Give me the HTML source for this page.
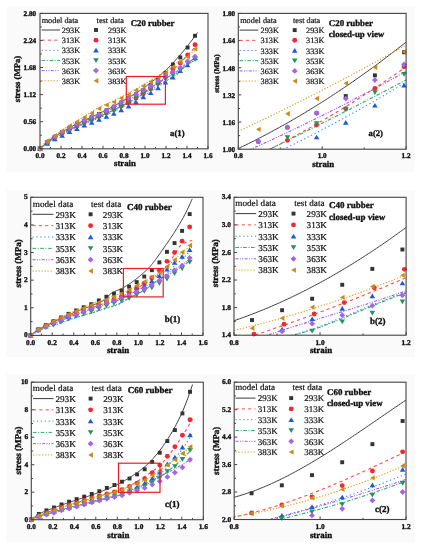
<!DOCTYPE html>
<html><head><meta charset="utf-8"><style>
html,body{margin:0;padding:0;background:#fff;}
svg{display:block;filter:blur(0.25px);}
text{font-family:"Liberation Serif",serif;fill:#111111;text-rendering:geometricPrecision;}
text{stroke:#111111;stroke-width:0.2px;}
text[font-weight="bold"]{stroke:#111111;stroke-width:0.35px;}
</style></head><body>
<svg width="426" height="550" viewBox="0 0 426 550">
<rect width="426" height="550" fill="#fff"/>
<rect x="6.5" y="6.5" width="204.5" height="165.5" fill="#fafafa"/>
<rect x="211" y="6.5" width="204" height="165.5" fill="#fafafa"/>
<rect x="6.5" y="190" width="204.5" height="167" fill="#fafafa"/>
<rect x="211" y="190" width="204" height="167" fill="#fafafa"/>
<rect x="6.5" y="374" width="204.5" height="168" fill="#fafafa"/>
<rect x="211" y="374" width="204" height="168" fill="#fafafa"/>
<rect x="40.0" y="13.4" width="168.0" height="135.4" fill="#fff"/>
<clipPath id="clip_a1"><rect x="40.0" y="13.4" width="168.0" height="135.4"/></clipPath>
<g clip-path="url(#clip_a1)" fill="none">
<polyline points="40.00,148.80 40.79,147.99 41.58,147.20 42.37,146.42 43.17,145.66 43.96,144.92 44.75,144.20 45.54,143.49 46.33,142.81 47.12,142.15 47.91,141.51 48.71,140.88 49.50,140.28 50.29,139.69 51.08,139.12 51.87,138.56 52.66,138.00 53.45,137.46 54.25,136.93 55.04,136.41 55.83,135.88 56.62,135.37 57.41,134.86 58.20,134.36 58.99,133.86 59.79,133.37 60.58,132.88 61.37,132.40 62.16,131.92 62.95,131.45 63.74,130.98 64.54,130.52 65.33,130.06 66.12,129.61 66.91,129.16 67.70,128.72 68.49,128.28 69.28,127.85 70.08,127.42 70.87,127.00 71.66,126.58 72.45,126.17 73.24,125.76 74.03,125.36 74.82,124.96 75.62,124.56 76.41,124.17 77.20,123.79 77.99,123.40 78.78,123.02 79.57,122.63 80.36,122.25 81.16,121.87 81.95,121.50 82.74,121.12 83.53,120.74 84.32,120.36 85.11,119.98 85.90,119.60 86.70,119.23 87.49,118.86 88.28,118.49 89.07,118.13 89.86,117.76 90.65,117.40 91.44,117.04 92.24,116.68 93.03,116.31 93.82,115.95 94.61,115.58 95.40,115.22 96.19,114.85 96.98,114.48 97.78,114.11 98.57,113.73 99.36,113.35 100.15,112.97 100.94,112.59 101.73,112.21 102.53,111.83 103.32,111.45 104.11,111.06 104.90,110.68 105.69,110.29 106.48,109.90 107.27,109.51 108.07,109.12 108.86,108.72 109.65,108.32 110.44,107.92 111.23,107.51 112.02,107.10 112.81,106.68 113.61,106.26 114.40,105.83 115.19,105.39 115.98,104.94 116.77,104.49 117.56,104.04 118.35,103.58 119.15,103.12 119.94,102.65 120.73,102.18 121.52,101.72 122.31,101.25 123.10,100.78 123.89,100.31 124.69,99.85 125.48,99.38 126.27,98.92 127.06,98.46 127.85,98.00 128.64,97.54 129.43,97.08 130.23,96.62 131.02,96.15 131.81,95.68 132.60,95.21 133.39,94.73 134.18,94.25 134.97,93.77 135.77,93.27 136.56,92.77 137.35,92.27 138.14,91.75 138.93,91.23 139.72,90.70 140.52,90.17 141.31,89.62 142.10,89.07 142.89,88.52 143.68,87.95 144.47,87.39 145.26,86.81 146.06,86.23 146.85,85.65 147.64,85.06 148.43,84.46 149.22,83.86 150.01,83.26 150.80,82.65 151.60,82.04 152.39,81.42 153.18,80.80 153.97,80.18 154.76,79.55 155.55,78.92 156.34,78.29 157.14,77.64 157.93,77.00 158.72,76.34 159.51,75.68 160.30,75.01 161.09,74.34 161.88,73.65 162.68,72.96 163.47,72.25 164.26,71.54 165.05,70.81 165.84,70.08 166.63,69.33 167.42,68.57 168.22,67.80 169.01,67.01 169.80,66.22 170.59,65.41 171.38,64.59 172.17,63.77 172.96,62.93 173.76,62.08 174.55,61.23 175.34,60.36 176.13,59.49 176.92,58.60 177.71,57.71 178.51,56.81 179.30,55.91 180.09,54.99 180.88,54.07 181.67,53.15 182.46,52.21 183.25,51.26 184.05,50.31 184.84,49.34 185.63,48.36 186.42,47.37 187.21,46.37 188.00,45.36 188.79,44.34 189.59,43.31 190.38,42.27 191.17,41.22 191.96,40.16 192.75,39.10 193.54,38.02 194.33,36.93 195.13,35.84 195.92,34.73 196.71,33.62 197.50,32.50" stroke="#3c3c3c" stroke-width="1.0"/>
<polyline points="40.00,148.80 40.79,148.06 41.58,147.34 42.37,146.64 43.17,145.94 43.96,145.27 44.75,144.61 45.54,143.97 46.33,143.35 47.12,142.75 47.91,142.16 48.71,141.60 49.50,141.04 50.29,140.51 51.08,139.98 51.87,139.47 52.66,138.97 53.45,138.48 54.25,137.99 55.04,137.51 55.83,137.04 56.62,136.57 57.41,136.10 58.20,135.64 58.99,135.19 59.79,134.74 60.58,134.29 61.37,133.85 62.16,133.42 62.95,132.99 63.74,132.56 64.54,132.14 65.33,131.72 66.12,131.31 66.91,130.90 67.70,130.50 68.49,130.10 69.28,129.70 70.08,129.31 70.87,128.92 71.66,128.54 72.45,128.17 73.24,127.79 74.03,127.43 74.82,127.06 75.62,126.71 76.41,126.35 77.20,125.99 77.99,125.64 78.78,125.29 79.57,124.95 80.36,124.60 81.16,124.25 81.95,123.91 82.74,123.56 83.53,123.21 84.32,122.87 85.11,122.52 85.90,122.18 86.70,121.84 87.49,121.50 88.28,121.17 89.07,120.83 89.86,120.50 90.65,120.17 91.44,119.84 92.24,119.51 93.03,119.18 93.82,118.85 94.61,118.51 95.40,118.18 96.19,117.84 96.98,117.50 97.78,117.16 98.57,116.82 99.36,116.47 100.15,116.12 100.94,115.77 101.73,115.42 102.53,115.07 103.32,114.72 104.11,114.36 104.90,114.00 105.69,113.65 106.48,113.29 107.27,112.93 108.07,112.57 108.86,112.20 109.65,111.84 110.44,111.47 111.23,111.10 112.02,110.73 112.81,110.35 113.61,109.98 114.40,109.60 115.19,109.22 115.98,108.85 116.77,108.46 117.56,108.08 118.35,107.70 119.15,107.31 119.94,106.91 120.73,106.52 121.52,106.12 122.31,105.72 123.10,105.31 123.89,104.89 124.69,104.48 125.48,104.05 126.27,103.62 127.06,103.18 127.85,102.74 128.64,102.29 129.43,101.84 130.23,101.39 131.02,100.93 131.81,100.48 132.60,100.03 133.39,99.57 134.18,99.12 134.97,98.66 135.77,98.20 136.56,97.73 137.35,97.26 138.14,96.77 138.93,96.28 139.72,95.78 140.52,95.28 141.31,94.77 142.10,94.26 142.89,93.74 143.68,93.21 144.47,92.68 145.26,92.15 146.06,91.62 146.85,91.08 147.64,90.53 148.43,89.98 149.22,89.43 150.01,88.88 150.80,88.33 151.60,87.77 152.39,87.21 153.18,86.65 153.97,86.09 154.76,85.54 155.55,84.98 156.34,84.42 157.14,83.86 157.93,83.29 158.72,82.72 159.51,82.14 160.30,81.55 161.09,80.96 161.88,80.35 162.68,79.73 163.47,79.10 164.26,78.46 165.05,77.80 165.84,77.13 166.63,76.43 167.42,75.70 168.22,74.94 169.01,74.16 169.80,73.36 170.59,72.55 171.38,71.72 172.17,70.88 172.96,70.05 173.76,69.21 174.55,68.38 175.34,67.56 176.13,66.75 176.92,65.95 177.71,65.17 178.51,64.40 179.30,63.62 180.09,62.85 180.88,62.09 181.67,61.32 182.46,60.55 183.25,59.77 184.05,58.99 184.84,58.20 185.63,57.40 186.42,56.59 187.21,55.77 188.00,54.93 188.79,54.09 189.59,53.24 190.38,52.39 191.17,51.52 191.96,50.65 192.75,49.77 193.54,48.88 194.33,47.99 195.13,47.09 195.92,46.18 196.71,45.27 197.50,44.35" stroke="#ff4a4a" stroke-width="1.1" stroke-dasharray="3.2 3.1"/>
<polyline points="40.00,148.80 40.79,148.18 41.58,147.56 42.37,146.95 43.17,146.35 43.96,145.76 44.75,145.17 45.54,144.60 46.33,144.03 47.12,143.47 47.91,142.91 48.71,142.36 49.50,141.82 50.29,141.28 51.08,140.75 51.87,140.23 52.66,139.72 53.45,139.22 54.25,138.74 55.04,138.28 55.83,137.83 56.62,137.39 57.41,136.95 58.20,136.53 58.99,136.11 59.79,135.70 60.58,135.30 61.37,134.90 62.16,134.51 62.95,134.12 63.74,133.73 64.54,133.34 65.33,132.96 66.12,132.58 66.91,132.20 67.70,131.82 68.49,131.44 69.28,131.05 70.08,130.66 70.87,130.28 71.66,129.89 72.45,129.51 73.24,129.12 74.03,128.74 74.82,128.36 75.62,127.98 76.41,127.60 77.20,127.23 77.99,126.86 78.78,126.48 79.57,126.12 80.36,125.75 81.16,125.39 81.95,125.03 82.74,124.68 83.53,124.32 84.32,123.98 85.11,123.63 85.90,123.30 86.70,122.96 87.49,122.64 88.28,122.31 89.07,121.99 89.86,121.67 90.65,121.35 91.44,121.04 92.24,120.72 93.03,120.41 93.82,120.10 94.61,119.78 95.40,119.46 96.19,119.14 96.98,118.82 97.78,118.50 98.57,118.17 99.36,117.84 100.15,117.50 100.94,117.17 101.73,116.84 102.53,116.50 103.32,116.17 104.11,115.83 104.90,115.50 105.69,115.16 106.48,114.82 107.27,114.48 108.07,114.13 108.86,113.79 109.65,113.44 110.44,113.08 111.23,112.73 112.02,112.37 112.81,112.00 113.61,111.63 114.40,111.26 115.19,110.88 115.98,110.49 116.77,110.10 117.56,109.70 118.35,109.30 119.15,108.90 119.94,108.49 120.73,108.09 121.52,107.68 122.31,107.27 123.10,106.87 123.89,106.46 124.69,106.06 125.48,105.66 126.27,105.26 127.06,104.86 127.85,104.46 128.64,104.06 129.43,103.66 130.23,103.25 131.02,102.84 131.81,102.43 132.60,102.01 133.39,101.58 134.18,101.15 134.97,100.71 135.77,100.26 136.56,99.78 137.35,99.29 138.14,98.80 138.93,98.33 139.72,97.86 140.52,97.39 141.31,96.93 142.10,96.47 142.89,96.01 143.68,95.55 144.47,95.10 145.26,94.64 146.06,94.18 146.85,93.72 147.64,93.26 148.43,92.80 149.22,92.33 150.01,91.85 150.80,91.37 151.60,90.88 152.39,90.39 153.18,89.89 153.97,89.39 154.76,88.88 155.55,88.37 156.34,87.86 157.14,87.34 157.93,86.82 158.72,86.30 159.51,85.77 160.30,85.24 161.09,84.71 161.88,84.17 162.68,83.64 163.47,83.09 164.26,82.55 165.05,82.00 165.84,81.45 166.63,80.90 167.42,80.34 168.22,79.78 169.01,79.21 169.80,78.65 170.59,78.07 171.38,77.49 172.17,76.91 172.96,76.33 173.76,75.74 174.55,75.15 175.34,74.55 176.13,73.95 176.92,73.35 177.71,72.73 178.51,72.11 179.30,71.48 180.09,70.84 180.88,70.20 181.67,69.55 182.46,68.91 183.25,68.27 184.05,67.63 184.84,67.01 185.63,66.39 186.42,65.78 187.21,65.18 188.00,64.59 188.79,64.01 189.59,63.43 190.38,62.85 191.17,62.28 191.96,61.71 192.75,61.15 193.54,60.59 194.33,60.04 195.13,59.50 195.92,58.96 196.71,58.42 197.50,57.89" stroke="#3f86f5" stroke-width="1.1" stroke-dasharray="1.3 2.6"/>
<polyline points="40.00,148.80 40.79,148.09 41.58,147.39 42.37,146.70 43.17,146.03 43.96,145.38 44.75,144.74 45.54,144.11 46.33,143.50 47.12,142.91 47.91,142.34 48.71,141.78 49.50,141.24 50.29,140.71 51.08,140.20 51.87,139.69 52.66,139.20 53.45,138.71 54.25,138.23 55.04,137.75 55.83,137.28 56.62,136.81 57.41,136.35 58.20,135.90 58.99,135.45 59.79,135.00 60.58,134.56 61.37,134.12 62.16,133.68 62.95,133.25 63.74,132.83 64.54,132.41 65.33,131.99 66.12,131.58 66.91,131.17 67.70,130.77 68.49,130.36 69.28,129.97 70.08,129.57 70.87,129.19 71.66,128.80 72.45,128.43 73.24,128.05 74.03,127.68 74.82,127.32 75.62,126.95 76.41,126.59 77.20,126.24 77.99,125.88 78.78,125.53 79.57,125.17 80.36,124.82 81.16,124.47 81.95,124.12 82.74,123.77 83.53,123.42 84.32,123.07 85.11,122.72 85.90,122.38 86.70,122.03 87.49,121.69 88.28,121.35 89.07,121.01 89.86,120.68 90.65,120.34 91.44,120.00 92.24,119.67 93.03,119.33 93.82,119.00 94.61,118.66 95.40,118.32 96.19,117.98 96.98,117.63 97.78,117.29 98.57,116.94 99.36,116.59 100.15,116.23 100.94,115.88 101.73,115.53 102.53,115.17 103.32,114.81 104.11,114.45 104.90,114.09 105.69,113.73 106.48,113.37 107.27,113.01 108.07,112.64 108.86,112.27 109.65,111.90 110.44,111.53 111.23,111.16 112.02,110.78 112.81,110.40 113.61,110.02 114.40,109.64 115.19,109.25 115.98,108.86 116.77,108.47 117.56,108.08 118.35,107.69 119.15,107.29 119.94,106.89 120.73,106.48 121.52,106.08 122.31,105.67 123.10,105.25 123.89,104.84 124.69,104.42 125.48,103.99 126.27,103.56 127.06,103.13 127.85,102.69 128.64,102.25 129.43,101.80 130.23,101.36 131.02,100.92 131.81,100.48 132.60,100.04 133.39,99.60 134.18,99.16 134.97,98.72 135.77,98.28 136.56,97.84 137.35,97.40 138.14,96.95 138.93,96.51 139.72,96.06 140.52,95.61 141.31,95.16 142.10,94.71 142.89,94.26 143.68,93.80 144.47,93.35 145.26,92.89 146.06,92.44 146.85,91.98 147.64,91.52 148.43,91.06 149.22,90.61 150.01,90.15 150.80,89.69 151.60,89.23 152.39,88.76 153.18,88.30 153.97,87.84 154.76,87.37 155.55,86.90 156.34,86.43 157.14,85.96 157.93,85.49 158.72,85.02 159.51,84.55 160.30,84.08 161.09,83.61 161.88,83.14 162.68,82.67 163.47,82.20 164.26,81.74 165.05,81.27 165.84,80.81 166.63,80.35 167.42,79.90 168.22,79.47 169.01,79.04 169.80,78.61 170.59,78.19 171.38,77.76 172.17,77.32 172.96,76.87 173.76,76.40 174.55,75.91 175.34,75.41 176.13,74.87 176.92,74.30 177.71,73.66 178.51,72.96 179.30,72.22 180.09,71.44 180.88,70.63 181.67,69.82 182.46,69.00 183.25,68.20 184.05,67.42 184.84,66.69 185.63,66.00 186.42,65.37 187.21,64.81 188.00,64.29 188.79,63.77 189.59,63.27 190.38,62.79 191.17,62.32 191.96,61.87 192.75,61.44 193.54,61.03 194.33,60.64 195.13,60.28 195.92,59.94 196.71,59.62 197.50,59.34" stroke="#2fa86c" stroke-width="1.1" stroke-dasharray="3.6 1.6 1.0 1.6"/>
<polyline points="40.00,148.80 40.79,148.02 41.58,147.26 42.37,146.51 43.17,145.78 43.96,145.06 44.75,144.37 45.54,143.69 46.33,143.03 47.12,142.40 47.91,141.78 48.71,141.19 49.50,140.61 50.29,140.04 51.08,139.50 51.87,138.96 52.66,138.43 53.45,137.91 54.25,137.40 55.04,136.90 55.83,136.40 56.62,135.90 57.41,135.42 58.20,134.93 58.99,134.46 59.79,133.98 60.58,133.52 61.37,133.06 62.16,132.60 62.95,132.15 63.74,131.70 64.54,131.25 65.33,130.81 66.12,130.37 66.91,129.93 67.70,129.50 68.49,129.07 69.28,128.64 70.08,128.22 70.87,127.80 71.66,127.37 72.45,126.95 73.24,126.54 74.03,126.12 74.82,125.71 75.62,125.30 76.41,124.90 77.20,124.50 77.99,124.10 78.78,123.71 79.57,123.32 80.36,122.93 81.16,122.55 81.95,122.18 82.74,121.81 83.53,121.45 84.32,121.09 85.11,120.75 85.90,120.41 86.70,120.08 87.49,119.76 88.28,119.44 89.07,119.14 89.86,118.83 90.65,118.53 91.44,118.23 92.24,117.93 93.03,117.63 93.82,117.32 94.61,117.01 95.40,116.70 96.19,116.38 96.98,116.06 97.78,115.72 98.57,115.38 99.36,115.02 100.15,114.66 100.94,114.29 101.73,113.91 102.53,113.52 103.32,113.13 104.11,112.73 104.90,112.33 105.69,111.92 106.48,111.51 107.27,111.10 108.07,110.68 108.86,110.26 109.65,109.84 110.44,109.42 111.23,109.00 112.02,108.57 112.81,108.15 113.61,107.73 114.40,107.31 115.19,106.88 115.98,106.44 116.77,106.01 117.56,105.56 118.35,105.12 119.15,104.68 119.94,104.23 120.73,103.80 121.52,103.36 122.31,102.93 123.10,102.51 123.89,102.10 124.69,101.70 125.48,101.32 126.27,100.93 127.06,100.54 127.85,100.14 128.64,99.73 129.43,99.31 130.23,98.89 131.02,98.47 131.81,98.04 132.60,97.61 133.39,97.18 134.18,96.75 134.97,96.32 135.77,95.88 136.56,95.45 137.35,95.01 138.14,94.58 138.93,94.15 139.72,93.72 140.52,93.29 141.31,92.86 142.10,92.43 142.89,92.00 143.68,91.57 144.47,91.14 145.26,90.71 146.06,90.27 146.85,89.83 147.64,89.39 148.43,88.95 149.22,88.51 150.01,88.06 150.80,87.60 151.60,87.15 152.39,86.68 153.18,86.21 153.97,85.74 154.76,85.26 155.55,84.78 156.34,84.29 157.14,83.80 157.93,83.30 158.72,82.80 159.51,82.31 160.30,81.81 161.09,81.31 161.88,80.81 162.68,80.31 163.47,79.82 164.26,79.32 165.05,78.83 165.84,78.34 166.63,77.86 167.42,77.39 168.22,76.93 169.01,76.47 169.80,76.01 170.59,75.55 171.38,75.09 172.17,74.62 172.96,74.15 173.76,73.66 174.55,73.16 175.34,72.65 176.13,72.12 176.92,71.56 177.71,70.97 178.51,70.35 179.30,69.70 180.09,69.02 180.88,68.34 181.67,67.65 182.46,66.95 183.25,66.27 184.05,65.59 184.84,64.94 185.63,64.31 186.42,63.71 187.21,63.15 188.00,62.60 188.79,62.07 189.59,61.54 190.38,61.03 191.17,60.52 191.96,60.03 192.75,59.55 193.54,59.08 194.33,58.62 195.13,58.18 195.92,57.74 196.71,57.33 197.50,56.92" stroke="#9f55f0" stroke-width="1.1" stroke-dasharray="3 1.4 1 1.4 1 1.4"/>
<polyline points="40.00,148.80 40.79,147.77 41.58,146.77 42.37,145.80 43.17,144.86 43.96,143.97 44.75,143.11 45.54,142.29 46.33,141.52 47.12,140.80 47.91,140.13 48.71,139.50 49.50,138.91 50.29,138.36 51.08,137.82 51.87,137.30 52.66,136.79 53.45,136.27 54.25,135.74 55.04,135.20 55.83,134.65 56.62,134.10 57.41,133.54 58.20,132.99 58.99,132.44 59.79,131.88 60.58,131.33 61.37,130.78 62.16,130.24 62.95,129.69 63.74,129.15 64.54,128.61 65.33,128.07 66.12,127.54 66.91,127.02 67.70,126.50 68.49,125.98 69.28,125.47 70.08,124.97 70.87,124.48 71.66,123.99 72.45,123.51 73.24,123.03 74.03,122.56 74.82,122.09 75.62,121.63 76.41,121.17 77.20,120.71 77.99,120.25 78.78,119.79 79.57,119.33 80.36,118.87 81.16,118.41 81.95,117.94 82.74,117.47 83.53,117.00 84.32,116.52 85.11,116.04 85.90,115.55 86.70,115.05 87.49,114.54 88.28,114.03 89.07,113.52 89.86,113.01 90.65,112.49 91.44,111.98 92.24,111.47 93.03,110.97 93.82,110.47 94.61,109.98 95.40,109.49 96.19,109.02 96.98,108.56 97.78,108.11 98.57,107.68 99.36,107.26 100.15,106.85 100.94,106.46 101.73,106.08 102.53,105.71 103.32,105.35 104.11,104.99 104.90,104.64 105.69,104.29 106.48,103.95 107.27,103.60 108.07,103.26 108.86,102.92 109.65,102.57 110.44,102.22 111.23,101.86 112.02,101.49 112.81,101.12 113.61,100.73 114.40,100.34 115.19,99.95 115.98,99.54 116.77,99.14 117.56,98.73 118.35,98.31 119.15,97.90 119.94,97.48 120.73,97.06 121.52,96.64 122.31,96.22 123.10,95.79 123.89,95.37 124.69,94.95 125.48,94.53 126.27,94.11 127.06,93.69 127.85,93.26 128.64,92.84 129.43,92.41 130.23,91.98 131.02,91.56 131.81,91.13 132.60,90.70 133.39,90.26 134.18,89.83 134.97,89.39 135.77,88.95 136.56,88.51 137.35,88.07 138.14,87.62 138.93,87.17 139.72,86.72 140.52,86.27 141.31,85.81 142.10,85.35 142.89,84.89 143.68,84.43 144.47,83.96 145.26,83.50 146.06,83.03 146.85,82.56 147.64,82.09 148.43,81.61 149.22,81.14 150.01,80.66 150.80,80.18 151.60,79.71 152.39,79.23 153.18,78.75 153.97,78.27 154.76,77.80 155.55,77.32 156.34,76.84 157.14,76.36 157.93,75.88 158.72,75.40 159.51,74.92 160.30,74.43 161.09,73.93 161.88,73.43 162.68,72.93 163.47,72.42 164.26,71.91 165.05,71.39 165.84,70.86 166.63,70.32 167.42,69.76 168.22,69.19 169.01,68.61 169.80,68.02 170.59,67.43 171.38,66.83 172.17,66.23 172.96,65.63 173.76,65.04 174.55,64.46 175.34,63.89 176.13,63.33 176.92,62.79 177.71,62.27 178.51,61.76 179.30,61.27 180.09,60.78 180.88,60.29 181.67,59.81 182.46,59.32 183.25,58.83 184.05,58.34 184.84,57.82 185.63,57.30 186.42,56.76 187.21,56.19 188.00,55.61 188.79,55.02 189.59,54.42 190.38,53.80 191.17,53.17 191.96,52.53 192.75,51.87 193.54,51.21 194.33,50.54 195.13,49.85 195.92,49.15 196.71,48.45 197.50,47.73" stroke="#e0a018" stroke-width="1.1" stroke-dasharray="1.3 1.7"/>
</g>
<rect x="38.04" y="146.84" width="3.92" height="3.92" fill="#333333"/>
<rect x="45.42" y="140.07" width="3.92" height="3.92" fill="#333333"/>
<rect x="52.80" y="134.80" width="3.92" height="3.92" fill="#333333"/>
<rect x="60.18" y="130.21" width="3.92" height="3.92" fill="#333333"/>
<rect x="67.57" y="126.05" width="3.92" height="3.92" fill="#333333"/>
<rect x="74.95" y="122.26" width="3.92" height="3.92" fill="#333333"/>
<rect x="82.33" y="118.80" width="3.92" height="3.92" fill="#333333"/>
<rect x="89.71" y="115.47" width="3.92" height="3.92" fill="#333333"/>
<rect x="97.09" y="112.02" width="3.92" height="3.92" fill="#333333"/>
<rect x="104.47" y="108.48" width="3.92" height="3.92" fill="#333333"/>
<rect x="111.86" y="104.77" width="3.92" height="3.92" fill="#333333"/>
<rect x="119.24" y="100.59" width="3.92" height="3.92" fill="#333333"/>
<rect x="126.62" y="96.31" width="3.92" height="3.92" fill="#333333"/>
<rect x="134.00" y="92.29" width="3.92" height="3.92" fill="#333333"/>
<rect x="141.38" y="88.23" width="3.92" height="3.92" fill="#333333"/>
<rect x="148.76" y="83.35" width="3.92" height="3.92" fill="#333333"/>
<rect x="156.14" y="77.45" width="3.92" height="3.92" fill="#333333"/>
<rect x="163.53" y="70.87" width="3.92" height="3.92" fill="#333333"/>
<rect x="170.91" y="62.46" width="3.92" height="3.92" fill="#333333"/>
<rect x="178.29" y="55.45" width="3.92" height="3.92" fill="#333333"/>
<rect x="185.67" y="45.53" width="3.92" height="3.92" fill="#333333"/>
<rect x="193.05" y="33.83" width="3.92" height="3.92" fill="#333333"/>
<circle cx="40.00" cy="148.80" r="2.46" fill="#f02a35"/>
<circle cx="47.38" cy="142.51" r="2.46" fill="#f02a35"/>
<circle cx="54.76" cy="137.61" r="2.46" fill="#f02a35"/>
<circle cx="62.14" cy="133.33" r="2.46" fill="#f02a35"/>
<circle cx="69.53" cy="129.46" r="2.46" fill="#f02a35"/>
<circle cx="76.91" cy="125.93" r="2.46" fill="#f02a35"/>
<circle cx="84.29" cy="122.72" r="2.46" fill="#f02a35"/>
<circle cx="91.67" cy="119.61" r="2.46" fill="#f02a35"/>
<circle cx="99.05" cy="116.40" r="2.46" fill="#f02a35"/>
<circle cx="106.43" cy="113.07" r="2.46" fill="#f02a35"/>
<circle cx="113.81" cy="109.63" r="2.46" fill="#f02a35"/>
<circle cx="121.20" cy="105.99" r="2.46" fill="#f02a35"/>
<circle cx="128.58" cy="102.14" r="2.46" fill="#f02a35"/>
<circle cx="135.96" cy="97.93" r="2.46" fill="#f02a35"/>
<circle cx="143.34" cy="93.53" r="2.46" fill="#f02a35"/>
<circle cx="150.72" cy="88.89" r="2.46" fill="#f02a35"/>
<circle cx="158.10" cy="83.13" r="2.46" fill="#f02a35"/>
<circle cx="165.49" cy="76.99" r="2.46" fill="#f02a35"/>
<circle cx="172.87" cy="68.91" r="2.46" fill="#f02a35"/>
<circle cx="180.25" cy="62.92" r="2.46" fill="#f02a35"/>
<circle cx="187.63" cy="54.89" r="2.46" fill="#f02a35"/>
<circle cx="195.01" cy="44.69" r="2.46" fill="#f02a35"/>
<path d="M40.00 146.34L42.80 151.02L37.20 151.02Z" fill="#1a5ae0"/>
<path d="M47.38 141.11L50.18 145.80L44.58 145.80Z" fill="#1a5ae0"/>
<path d="M54.76 136.52L57.56 141.20L51.96 141.20Z" fill="#1a5ae0"/>
<path d="M62.14 133.13L64.94 137.82L59.34 137.82Z" fill="#1a5ae0"/>
<path d="M69.53 129.41L72.33 134.09L66.73 134.09Z" fill="#1a5ae0"/>
<path d="M76.91 126.32L79.71 131.00L74.11 131.00Z" fill="#1a5ae0"/>
<path d="M84.29 122.83L87.09 127.52L81.49 127.52Z" fill="#1a5ae0"/>
<path d="M91.67 120.03L94.47 124.71L88.87 124.71Z" fill="#1a5ae0"/>
<path d="M99.05 117.13L101.85 121.81L96.25 121.81Z" fill="#1a5ae0"/>
<path d="M106.43 114.13L109.23 118.81L103.63 118.81Z" fill="#1a5ae0"/>
<path d="M113.81 111.04L116.61 115.72L111.02 115.72Z" fill="#1a5ae0"/>
<path d="M121.20 107.55L124.00 112.24L118.40 112.24Z" fill="#1a5ae0"/>
<path d="M128.58 103.83L131.38 108.51L125.78 108.51Z" fill="#1a5ae0"/>
<path d="M135.96 99.62L138.76 104.30L133.16 104.30Z" fill="#1a5ae0"/>
<path d="M143.34 94.55L146.14 99.23L140.54 99.23Z" fill="#1a5ae0"/>
<path d="M150.72 90.39L153.52 95.07L147.92 95.07Z" fill="#1a5ae0"/>
<path d="M158.10 85.50L160.90 90.18L155.30 90.18Z" fill="#1a5ae0"/>
<path d="M165.49 79.75L168.29 84.43L162.69 84.43Z" fill="#1a5ae0"/>
<path d="M172.87 74.72L175.67 79.40L170.07 79.40Z" fill="#1a5ae0"/>
<path d="M180.25 68.34L183.05 73.02L177.45 73.02Z" fill="#1a5ae0"/>
<path d="M187.63 62.68L190.43 67.36L184.83 67.36Z" fill="#1a5ae0"/>
<path d="M195.01 55.42L197.81 60.11L192.21 60.11Z" fill="#1a5ae0"/>
<path d="M40.00 151.26L42.80 146.58L37.20 146.58Z" fill="#1e965a"/>
<path d="M47.38 145.22L50.18 140.54L44.58 140.54Z" fill="#1e965a"/>
<path d="M54.76 140.43L57.56 135.75L51.96 135.75Z" fill="#1e965a"/>
<path d="M62.14 136.24L64.94 131.56L59.34 131.56Z" fill="#1e965a"/>
<path d="M69.53 132.40L72.33 127.72L66.73 127.72Z" fill="#1e965a"/>
<path d="M76.91 128.89L79.71 124.21L74.11 124.21Z" fill="#1e965a"/>
<path d="M84.29 125.68L87.09 121.00L81.49 121.00Z" fill="#1e965a"/>
<path d="M91.67 122.56L94.47 117.88L88.87 117.88Z" fill="#1e965a"/>
<path d="M99.05 119.35L101.85 114.67L96.25 114.67Z" fill="#1e965a"/>
<path d="M106.43 116.03L109.23 111.35L103.63 111.35Z" fill="#1e965a"/>
<path d="M113.81 112.58L116.61 107.90L111.02 107.90Z" fill="#1e965a"/>
<path d="M121.20 108.94L124.00 104.26L118.40 104.26Z" fill="#1e965a"/>
<path d="M128.58 104.84L131.38 100.16L125.78 100.16Z" fill="#1e965a"/>
<path d="M135.96 99.57L138.76 94.89L133.16 94.89Z" fill="#1e965a"/>
<path d="M143.34 95.56L146.14 90.87L140.54 90.87Z" fill="#1e965a"/>
<path d="M150.72 91.64L153.52 86.96L147.92 86.96Z" fill="#1e965a"/>
<path d="M158.10 86.76L160.90 82.07L155.30 82.07Z" fill="#1e965a"/>
<path d="M165.49 81.53L168.29 76.85L162.69 76.85Z" fill="#1e965a"/>
<path d="M172.87 77.76L175.67 73.08L170.07 73.08Z" fill="#1e965a"/>
<path d="M180.25 72.68L183.05 68.00L177.45 68.00Z" fill="#1e965a"/>
<path d="M187.63 65.67L190.43 60.99L184.83 60.99Z" fill="#1e965a"/>
<path d="M195.01 61.95L197.81 57.27L192.21 57.27Z" fill="#1e965a"/>
<path d="M40.00 145.89L42.91 148.80L40.00 151.71L37.09 148.80Z" fill="#a564e1"/>
<path d="M47.38 139.12L50.29 142.03L47.38 144.94L44.47 142.03Z" fill="#a564e1"/>
<path d="M54.76 133.87L57.67 136.78L54.76 139.69L51.85 136.78Z" fill="#a564e1"/>
<path d="M62.14 129.30L65.06 132.21L62.14 135.12L59.23 132.21Z" fill="#a564e1"/>
<path d="M69.53 125.09L72.44 128.01L69.53 130.92L66.61 128.01Z" fill="#a564e1"/>
<path d="M76.91 121.27L79.82 124.19L76.91 127.10L74.00 124.19Z" fill="#a564e1"/>
<path d="M84.29 117.50L87.20 120.41L84.29 123.33L81.38 120.41Z" fill="#a564e1"/>
<path d="M91.67 113.88L94.58 116.79L91.67 119.70L88.76 116.79Z" fill="#a564e1"/>
<path d="M99.05 111.41L101.96 114.32L99.05 117.23L96.14 114.32Z" fill="#a564e1"/>
<path d="M106.43 107.98L109.35 110.89L106.43 113.80L103.52 110.89Z" fill="#a564e1"/>
<path d="M113.81 103.67L116.73 106.58L113.81 109.50L110.90 106.58Z" fill="#a564e1"/>
<path d="M121.20 99.61L124.11 102.52L121.20 105.43L118.28 102.52Z" fill="#a564e1"/>
<path d="M128.58 95.26L131.49 98.17L128.58 101.08L125.67 98.17Z" fill="#a564e1"/>
<path d="M135.96 91.24L138.87 94.16L135.96 97.07L133.05 94.16Z" fill="#a564e1"/>
<path d="M143.34 87.23L146.25 90.14L143.34 93.05L140.43 90.14Z" fill="#a564e1"/>
<path d="M150.72 83.12L153.63 86.03L150.72 88.94L147.81 86.03Z" fill="#a564e1"/>
<path d="M158.10 77.85L161.02 80.76L158.10 83.67L155.19 80.76Z" fill="#a564e1"/>
<path d="M165.49 73.40L168.40 76.31L165.49 79.22L162.57 76.31Z" fill="#a564e1"/>
<path d="M172.87 69.19L175.78 72.11L172.87 75.02L169.95 72.11Z" fill="#a564e1"/>
<path d="M180.25 64.70L183.16 67.61L180.25 70.52L177.34 67.61Z" fill="#a564e1"/>
<path d="M187.63 58.41L190.54 61.32L187.63 64.23L184.72 61.32Z" fill="#a564e1"/>
<path d="M195.01 53.67L197.92 56.58L195.01 59.49L192.10 56.58Z" fill="#a564e1"/>
<path d="M37.65 148.80L42.35 146.11L42.35 151.49Z" fill="#c88c19"/>
<path d="M45.03 140.82L49.73 138.13L49.73 143.51Z" fill="#c88c19"/>
<path d="M52.41 135.79L57.11 133.10L57.11 138.48Z" fill="#c88c19"/>
<path d="M59.79 130.91L64.50 128.22L64.50 133.60Z" fill="#c88c19"/>
<path d="M67.17 126.02L71.88 123.34L71.88 128.71Z" fill="#c88c19"/>
<path d="M74.56 121.82L79.26 119.13L79.26 124.50Z" fill="#c88c19"/>
<path d="M81.94 117.51L86.64 114.82L86.64 120.20Z" fill="#c88c19"/>
<path d="M89.32 113.31L94.02 110.62L94.02 115.99Z" fill="#c88c19"/>
<path d="M96.70 108.66L101.40 105.98L101.40 111.35Z" fill="#c88c19"/>
<path d="M104.08 105.09L108.79 102.40L108.79 107.77Z" fill="#c88c19"/>
<path d="M111.46 102.09L116.17 99.40L116.17 104.78Z" fill="#c88c19"/>
<path d="M118.84 98.22L123.55 95.53L123.55 100.91Z" fill="#c88c19"/>
<path d="M126.23 94.79L130.93 92.10L130.93 97.47Z" fill="#c88c19"/>
<path d="M133.61 90.34L138.31 87.65L138.31 93.02Z" fill="#c88c19"/>
<path d="M140.99 85.98L145.69 83.30L145.69 88.67Z" fill="#c88c19"/>
<path d="M148.37 81.68L153.07 78.99L153.07 84.37Z" fill="#c88c19"/>
<path d="M155.75 77.13L160.46 74.45L160.46 79.82Z" fill="#c88c19"/>
<path d="M163.13 72.73L167.84 70.05L167.84 75.42Z" fill="#c88c19"/>
<path d="M170.51 66.98L175.22 64.29L175.22 69.67Z" fill="#c88c19"/>
<path d="M177.90 61.90L182.60 59.21L182.60 64.59Z" fill="#c88c19"/>
<path d="M185.28 56.92L189.98 54.23L189.98 59.61Z" fill="#c88c19"/>
<path d="M192.66 48.89L197.36 46.21L197.36 51.58Z" fill="#c88c19"/>
<rect x="40.0" y="13.4" width="168.0" height="135.4" fill="none" stroke="#444444" stroke-width="1.1"/>
<path d="M40.0 148.80h3 M40.0 121.72h3 M40.0 94.64h3 M40.0 67.56h3 M40.0 40.48h3 M40.0 13.40h3 M40.0 135.26h1.8 M40.0 108.18h1.8 M40.0 81.10h1.8 M40.0 54.02h1.8 M40.0 26.94h1.8 M40.00 148.8v-3 M61.00 148.8v-3 M82.00 148.8v-3 M103.00 148.8v-3 M124.00 148.8v-3 M145.00 148.8v-3 M166.00 148.8v-3 M187.00 148.8v-3 M208.00 148.8v-3 M50.50 148.8v-1.8 M71.50 148.8v-1.8 M92.50 148.8v-1.8 M113.50 148.8v-1.8 M134.50 148.8v-1.8 M155.50 148.8v-1.8 M176.50 148.8v-1.8 M197.50 148.8v-1.8" stroke="#444444" stroke-width="1"/>
<text transform="translate(36.20,151.09) scale(1.0,1)" font-size="7.2" font-weight="bold" text-anchor="end">0.00</text>
<text transform="translate(36.20,124.01) scale(1.0,1)" font-size="7.2" font-weight="bold" text-anchor="end">0.56</text>
<text transform="translate(36.20,96.93) scale(1.0,1)" font-size="7.2" font-weight="bold" text-anchor="end">1.12</text>
<text transform="translate(36.20,69.85) scale(1.0,1)" font-size="7.2" font-weight="bold" text-anchor="end">1.68</text>
<text transform="translate(36.20,42.77) scale(1.0,1)" font-size="7.2" font-weight="bold" text-anchor="end">2.24</text>
<text transform="translate(36.20,15.69) scale(1.0,1)" font-size="7.2" font-weight="bold" text-anchor="end">2.80</text>
<text transform="translate(40.00,158.30) scale(1.0,1)" font-size="7.2" font-weight="bold" text-anchor="middle">0.0</text>
<text transform="translate(61.00,158.30) scale(1.0,1)" font-size="7.2" font-weight="bold" text-anchor="middle">0.2</text>
<text transform="translate(82.00,158.30) scale(1.0,1)" font-size="7.2" font-weight="bold" text-anchor="middle">0.4</text>
<text transform="translate(103.00,158.30) scale(1.0,1)" font-size="7.2" font-weight="bold" text-anchor="middle">0.6</text>
<text transform="translate(124.00,158.30) scale(1.0,1)" font-size="7.2" font-weight="bold" text-anchor="middle">0.8</text>
<text transform="translate(145.00,158.30) scale(1.0,1)" font-size="7.2" font-weight="bold" text-anchor="middle">1.0</text>
<text transform="translate(166.00,158.30) scale(1.0,1)" font-size="7.2" font-weight="bold" text-anchor="middle">1.2</text>
<text transform="translate(187.00,158.30) scale(1.0,1)" font-size="7.2" font-weight="bold" text-anchor="middle">1.4</text>
<text transform="translate(208.00,158.30) scale(1.0,1)" font-size="7.2" font-weight="bold" text-anchor="middle">1.6</text>
<text x="124.9" y="166.4" font-size="8.7" font-weight="bold" text-anchor="middle">strain</text>
<text transform="translate(17.5,79.0) rotate(-90)" x="0" y="2.87" font-size="8.7" font-weight="bold" text-anchor="middle">stress (MPa)</text>
<text transform="translate(41.70,22.70) scale(1.02,1)" font-size="8.1">model data</text>
<text transform="translate(96.60,22.70) scale(1.02,1)" font-size="8.1">test data</text>
<line x1="41.6" y1="30.00" x2="60.1" y2="30.00" stroke="#3c3c3c" stroke-width="1"/>
<text transform="translate(61.80,33.07) scale(1.02,1)" font-size="8.1">293K</text>
<rect x="94.04" y="28.04" width="3.92" height="3.92" fill="#333333"/>
<text transform="translate(108.00,33.07) scale(1.02,1)" font-size="8.1">293K</text>
<line x1="41.6" y1="40.15" x2="60.1" y2="40.15" stroke="#ff4a4a" stroke-width="1" stroke-dasharray="3.2 3.1"/>
<text transform="translate(61.80,43.22) scale(1.02,1)" font-size="8.1">313K</text>
<circle cx="96.00" cy="40.15" r="2.46" fill="#f02a35"/>
<text transform="translate(108.00,43.22) scale(1.02,1)" font-size="8.1">313K</text>
<line x1="41.6" y1="50.30" x2="60.1" y2="50.30" stroke="#3f86f5" stroke-width="1" stroke-dasharray="1.3 2.6"/>
<text transform="translate(61.80,53.37) scale(1.02,1)" font-size="8.1">333K</text>
<path d="M96.00 47.84L98.80 52.52L93.20 52.52Z" fill="#1a5ae0"/>
<text transform="translate(108.00,53.37) scale(1.02,1)" font-size="8.1">333K</text>
<line x1="41.6" y1="60.45" x2="60.1" y2="60.45" stroke="#2fa86c" stroke-width="1" stroke-dasharray="3.6 1.6 1.0 1.6"/>
<text transform="translate(61.80,63.52) scale(1.02,1)" font-size="8.1">353K</text>
<path d="M96.00 62.91L98.80 58.23L93.20 58.23Z" fill="#1e965a"/>
<text transform="translate(108.00,63.52) scale(1.02,1)" font-size="8.1">353K</text>
<line x1="41.6" y1="70.60" x2="60.1" y2="70.60" stroke="#9f55f0" stroke-width="1" stroke-dasharray="3 1.4 1 1.4 1 1.4"/>
<text transform="translate(61.80,73.67) scale(1.02,1)" font-size="8.1">363K</text>
<path d="M96.00 67.69L98.91 70.60L96.00 73.51L93.09 70.60Z" fill="#a564e1"/>
<text transform="translate(108.00,73.67) scale(1.02,1)" font-size="8.1">363K</text>
<line x1="41.6" y1="80.75" x2="60.1" y2="80.75" stroke="#e0a018" stroke-width="1" stroke-dasharray="1.3 1.7"/>
<text transform="translate(61.80,83.82) scale(1.02,1)" font-size="8.1">383K</text>
<path d="M93.65 80.75L98.35 78.06L98.35 83.44Z" fill="#c88c19"/>
<text transform="translate(108.00,83.82) scale(1.02,1)" font-size="8.1">383K</text>
<text x="130.8" y="26.0" font-size="8.75" font-weight="bold">C20 rubber</text>
<text x="170.1" y="135.8" font-size="8.7" font-weight="bold">a(1)</text>
<rect x="126.3" y="76.5" width="39.10000000000001" height="27.700000000000003" fill="none" stroke="#ee1c24" stroke-width="1.2"/>
<rect x="238.3" y="13.4" width="167.8" height="135.79999999999998" fill="#fff"/>
<clipPath id="clip_a2"><rect x="238.3" y="13.4" width="167.8" height="135.79999999999998"/></clipPath>
<g clip-path="url(#clip_a2)" fill="none">
<polyline points="229.91,152.45 231.46,151.73 233.01,151.01 234.56,150.29 236.11,149.56 237.67,148.83 239.22,148.10 240.77,147.35 242.32,146.61 243.87,145.86 245.42,145.10 246.97,144.34 248.52,143.58 250.07,142.81 251.63,142.04 253.18,141.26 254.73,140.48 256.28,139.69 257.83,138.90 259.38,138.10 260.93,137.30 262.48,136.49 264.03,135.68 265.59,134.87 267.14,134.05 268.69,133.23 270.24,132.40 271.79,131.57 273.34,130.73 274.89,129.89 276.44,129.04 277.99,128.19 279.54,127.33 281.10,126.47 282.65,125.61 284.20,124.74 285.75,123.86 287.30,122.98 288.85,122.10 290.40,121.21 291.95,120.32 293.50,119.42 295.06,118.52 296.61,117.62 298.16,116.70 299.71,115.79 301.26,114.87 302.81,113.95 304.36,113.02 305.91,112.08 307.46,111.14 309.02,110.20 310.57,109.25 312.12,108.30 313.67,107.35 315.22,106.38 316.77,105.42 318.32,104.45 319.87,103.47 321.42,102.49 322.98,101.51 324.53,100.52 326.08,99.53 327.63,98.53 329.18,97.53 330.73,96.52 332.28,95.51 333.83,94.49 335.38,93.47 336.94,92.45 338.49,91.42 340.04,90.38 341.59,89.34 343.14,88.30 344.69,87.25 346.24,86.20 347.79,85.14 349.34,84.08 350.90,83.01 352.45,81.94 354.00,80.87 355.55,79.79 357.10,78.70 358.65,77.61 360.20,76.52 361.75,75.42 363.30,74.32 364.86,73.21 366.41,72.10 367.96,70.98 369.51,69.86 371.06,68.73 372.61,67.60 374.16,66.47 375.71,65.33 377.26,64.18 378.81,63.04 380.37,61.88 381.92,60.72 383.47,59.56 385.02,58.39 386.57,57.22 388.12,56.05 389.67,54.87 391.22,53.68 392.77,52.49 394.33,51.30 395.88,50.10 397.43,48.89 398.98,47.68 400.53,46.47 402.08,45.25 403.63,44.03 405.18,42.80 406.73,41.57 408.29,40.34 409.84,39.10 411.39,37.85 412.94,36.60 414.49,35.35" stroke="#3c3c3c" stroke-width="1.0"/>
<polyline points="229.91,168.48 231.46,167.78 233.01,167.07 234.56,166.36 236.11,165.65 237.67,164.93 239.22,164.21 240.77,163.48 242.32,162.75 243.87,162.02 245.42,161.29 246.97,160.55 248.52,159.81 250.07,159.06 251.63,158.31 253.18,157.56 254.73,156.80 256.28,156.05 257.83,155.28 259.38,154.52 260.93,153.75 262.48,152.98 264.03,152.20 265.59,151.42 267.14,150.64 268.69,149.86 270.24,149.07 271.79,148.27 273.34,147.48 274.89,146.68 276.44,145.88 277.99,145.07 279.54,144.26 281.10,143.45 282.65,142.63 284.20,141.81 285.75,140.99 287.30,140.16 288.85,139.33 290.40,138.50 291.95,137.66 293.50,136.82 295.06,135.98 296.61,135.13 298.16,134.28 299.71,133.43 301.26,132.57 302.81,131.71 304.36,130.85 305.91,129.98 307.46,129.11 309.02,128.24 310.57,127.36 312.12,126.48 313.67,125.60 315.22,124.71 316.77,123.82 318.32,122.93 319.87,122.03 321.42,121.13 322.98,120.23 324.53,119.32 326.08,118.41 327.63,117.49 329.18,116.58 330.73,115.66 332.28,114.73 333.83,113.80 335.38,112.87 336.94,111.94 338.49,111.00 340.04,110.06 341.59,109.11 343.14,108.17 344.69,107.21 346.24,106.26 347.79,105.30 349.34,104.34 350.90,103.38 352.45,102.41 354.00,101.44 355.55,100.46 357.10,99.48 358.65,98.50 360.20,97.52 361.75,96.53 363.30,95.54 364.86,94.54 366.41,93.54 367.96,92.54 369.51,91.53 371.06,90.53 372.61,89.51 374.16,88.50 375.71,87.48 377.26,86.46 378.81,85.43 380.37,84.40 381.92,83.37 383.47,82.33 385.02,81.29 386.57,80.25 388.12,79.21 389.67,78.16 391.22,77.10 392.77,76.05 394.33,74.99 395.88,73.92 397.43,72.86 398.98,71.79 400.53,70.72 402.08,69.64 403.63,68.56 405.18,67.48 406.73,66.39 408.29,65.30 409.84,64.21 411.39,63.11 412.94,62.01 414.49,60.91" stroke="#ff4a4a" stroke-width="1.1" stroke-dasharray="3.2 3.1"/>
<polyline points="229.91,173.79 231.46,173.12 233.01,172.44 234.56,171.77 236.11,171.09 237.67,170.41 239.22,169.73 240.77,169.05 242.32,168.36 243.87,167.67 245.42,166.98 246.97,166.29 248.52,165.59 250.07,164.89 251.63,164.19 253.18,163.49 254.73,162.78 256.28,162.07 257.83,161.36 259.38,160.65 260.93,159.93 262.48,159.21 264.03,158.49 265.59,157.77 267.14,157.04 268.69,156.31 270.24,155.58 271.79,154.85 273.34,154.12 274.89,153.38 276.44,152.64 277.99,151.89 279.54,151.15 281.10,150.40 282.65,149.65 284.20,148.90 285.75,148.15 287.30,147.39 288.85,146.63 290.40,145.87 291.95,145.10 293.50,144.34 295.06,143.57 296.61,142.79 298.16,142.02 299.71,141.24 301.26,140.46 302.81,139.68 304.36,138.90 305.91,138.11 307.46,137.32 309.02,136.53 310.57,135.74 312.12,134.94 313.67,134.14 315.22,133.34 316.77,132.54 318.32,131.73 319.87,130.93 321.42,130.12 322.98,129.30 324.53,128.49 326.08,127.67 327.63,126.85 329.18,126.03 330.73,125.20 332.28,124.37 333.83,123.54 335.38,122.71 336.94,121.88 338.49,121.04 340.04,120.20 341.59,119.36 343.14,118.51 344.69,117.66 346.24,116.81 347.79,115.96 349.34,115.11 350.90,114.25 352.45,113.39 354.00,112.53 355.55,111.67 357.10,110.80 358.65,109.93 360.20,109.06 361.75,108.19 363.30,107.31 364.86,106.43 366.41,105.55 367.96,104.67 369.51,103.78 371.06,102.89 372.61,102.00 374.16,101.11 375.71,100.21 377.26,99.31 378.81,98.41 380.37,97.51 381.92,96.61 383.47,95.70 385.02,94.79 386.57,93.87 388.12,92.96 389.67,92.04 391.22,91.12 392.77,90.20 394.33,89.28 395.88,88.35 397.43,87.42 398.98,86.49 400.53,85.55 402.08,84.61 403.63,83.68 405.18,82.73 406.73,81.79 408.29,80.84 409.84,79.89 411.39,78.94 412.94,77.99 414.49,77.03" stroke="#3f86f5" stroke-width="1.1" stroke-dasharray="1.3 2.6"/>
<polyline points="229.91,168.44 231.46,167.70 233.01,166.96 234.56,166.22 236.11,165.48 237.67,164.74 239.22,164.00 240.77,163.25 242.32,162.51 243.87,161.76 245.42,161.02 246.97,160.27 248.52,159.52 250.07,158.78 251.63,158.03 253.18,157.28 254.73,156.53 256.28,155.78 257.83,155.03 259.38,154.27 260.93,153.52 262.48,152.77 264.03,152.01 265.59,151.26 267.14,150.50 268.69,149.75 270.24,148.99 271.79,148.23 273.34,147.47 274.89,146.72 276.44,145.96 277.99,145.19 279.54,144.43 281.10,143.67 282.65,142.91 284.20,142.15 285.75,141.38 287.30,140.62 288.85,139.85 290.40,139.08 291.95,138.32 293.50,137.55 295.06,136.78 296.61,136.01 298.16,135.24 299.71,134.47 301.26,133.70 302.81,132.93 304.36,132.16 305.91,131.38 307.46,130.61 309.02,129.83 310.57,129.06 312.12,128.28 313.67,127.51 315.22,126.73 316.77,125.95 318.32,125.17 319.87,124.39 321.42,123.61 322.98,122.83 324.53,122.05 326.08,121.27 327.63,120.48 329.18,119.70 330.73,118.91 332.28,118.13 333.83,117.34 335.38,116.56 336.94,115.77 338.49,114.98 340.04,114.19 341.59,113.40 343.14,112.61 344.69,111.82 346.24,111.03 347.79,110.24 349.34,109.44 350.90,108.65 352.45,107.85 354.00,107.06 355.55,106.26 357.10,105.47 358.65,104.67 360.20,103.87 361.75,103.07 363.30,102.27 364.86,101.47 366.41,100.67 367.96,99.87 369.51,99.07 371.06,98.26 372.61,97.46 374.16,96.66 375.71,95.85 377.26,95.05 378.81,94.24 380.37,93.43 381.92,92.62 383.47,91.81 385.02,91.01 386.57,90.20 388.12,89.38 389.67,88.57 391.22,87.76 392.77,86.95 394.33,86.13 395.88,85.32 397.43,84.50 398.98,83.69 400.53,82.87 402.08,82.06 403.63,81.24 405.18,80.42 406.73,79.60 408.29,78.78 409.84,77.96 411.39,77.14 412.94,76.31 414.49,75.49" stroke="#2fa86c" stroke-width="1.1" stroke-dasharray="3.6 1.6 1.0 1.6"/>
<polyline points="229.91,158.48 231.46,157.81 233.01,157.13 234.56,156.46 236.11,155.78 237.67,155.11 239.22,154.43 240.77,153.74 242.32,153.06 243.87,152.38 245.42,151.69 246.97,151.00 248.52,150.31 250.07,149.62 251.63,148.93 253.18,148.23 254.73,147.53 256.28,146.84 257.83,146.14 259.38,145.43 260.93,144.73 262.48,144.03 264.03,143.32 265.59,142.61 267.14,141.90 268.69,141.19 270.24,140.47 271.79,139.76 273.34,139.04 274.89,138.32 276.44,137.60 277.99,136.88 279.54,136.16 281.10,135.43 282.65,134.70 284.20,133.98 285.75,133.24 287.30,132.51 288.85,131.78 290.40,131.04 291.95,130.31 293.50,129.57 295.06,128.83 296.61,128.08 298.16,127.34 299.71,126.59 301.26,125.84 302.81,125.10 304.36,124.34 305.91,123.59 307.46,122.84 309.02,122.08 310.57,121.32 312.12,120.56 313.67,119.80 315.22,119.04 316.77,118.28 318.32,117.51 319.87,116.74 321.42,115.97 322.98,115.20 324.53,114.43 326.08,113.65 327.63,112.88 329.18,112.10 330.73,111.32 332.28,110.54 333.83,109.75 335.38,108.97 336.94,108.18 338.49,107.39 340.04,106.60 341.59,105.81 343.14,105.02 344.69,104.22 346.24,103.43 347.79,102.63 349.34,101.83 350.90,101.02 352.45,100.22 354.00,99.42 355.55,98.61 357.10,97.80 358.65,96.99 360.20,96.18 361.75,95.36 363.30,94.55 364.86,93.73 366.41,92.91 367.96,92.09 369.51,91.27 371.06,90.44 372.61,89.62 374.16,88.79 375.71,87.96 377.26,87.13 378.81,86.30 380.37,85.46 381.92,84.63 383.47,83.79 385.02,82.95 386.57,82.11 388.12,81.27 389.67,80.42 391.22,79.58 392.77,78.73 394.33,77.88 395.88,77.03 397.43,76.18 398.98,75.32 400.53,74.47 402.08,73.61 403.63,72.75 405.18,71.89 406.73,71.02 408.29,70.16 409.84,69.29 411.39,68.42 412.94,67.55 414.49,66.68" stroke="#9f55f0" stroke-width="1.1" stroke-dasharray="3 1.4 1 1.4 1 1.4"/>
<polyline points="229.91,135.09 231.46,134.38 233.01,133.67 234.56,132.96 236.11,132.24 237.67,131.53 239.22,130.81 240.77,130.09 242.32,129.37 243.87,128.65 245.42,127.92 246.97,127.20 248.52,126.47 250.07,125.74 251.63,125.01 253.18,124.28 254.73,123.55 256.28,122.81 257.83,122.08 259.38,121.34 260.93,120.60 262.48,119.86 264.03,119.12 265.59,118.38 267.14,117.63 268.69,116.89 270.24,116.14 271.79,115.39 273.34,114.64 274.89,113.89 276.44,113.14 277.99,112.38 279.54,111.63 281.10,110.87 282.65,110.11 284.20,109.35 285.75,108.59 287.30,107.82 288.85,107.06 290.40,106.29 291.95,105.52 293.50,104.75 295.06,103.98 296.61,103.21 298.16,102.44 299.71,101.66 301.26,100.88 302.81,100.11 304.36,99.33 305.91,98.54 307.46,97.76 309.02,96.98 310.57,96.19 312.12,95.40 313.67,94.62 315.22,93.83 316.77,93.03 318.32,92.24 319.87,91.45 321.42,90.65 322.98,89.85 324.53,89.05 326.08,88.25 327.63,87.45 329.18,86.65 330.73,85.84 332.28,85.04 333.83,84.23 335.38,83.42 336.94,82.61 338.49,81.80 340.04,80.98 341.59,80.17 343.14,79.35 344.69,78.53 346.24,77.71 347.79,76.89 349.34,76.07 350.90,75.24 352.45,74.42 354.00,73.59 355.55,72.76 357.10,71.93 358.65,71.10 360.20,70.27 361.75,69.43 363.30,68.60 364.86,67.76 366.41,66.92 367.96,66.08 369.51,65.24 371.06,64.39 372.61,63.55 374.16,62.70 375.71,61.86 377.26,61.01 378.81,60.16 380.37,59.30 381.92,58.45 383.47,57.59 385.02,56.74 386.57,55.88 388.12,55.02 389.67,54.16 391.22,53.30 392.77,52.43 394.33,51.57 395.88,50.70 397.43,49.83 398.98,48.96 400.53,48.09 402.08,47.22 403.63,46.34 405.18,45.47 406.73,44.59 408.29,43.71 409.84,42.83 411.39,41.95 412.94,41.06 414.49,40.18" stroke="#e0a018" stroke-width="1.1" stroke-dasharray="1.3 1.7"/>
</g>
<rect x="256.34" y="139.60" width="3.92" height="3.92" fill="#333333"/>
<rect x="285.49" y="125.51" width="3.92" height="3.92" fill="#333333"/>
<rect x="314.64" y="111.25" width="3.92" height="3.92" fill="#333333"/>
<rect x="343.79" y="94.11" width="3.92" height="3.92" fill="#333333"/>
<rect x="372.94" y="73.40" width="3.92" height="3.92" fill="#333333"/>
<rect x="402.09" y="50.31" width="3.92" height="3.92" fill="#333333"/>
<circle cx="287.45" cy="140.37" r="2.46" fill="#f02a35"/>
<circle cx="316.60" cy="124.93" r="2.46" fill="#f02a35"/>
<circle cx="345.75" cy="108.63" r="2.46" fill="#f02a35"/>
<circle cx="374.90" cy="88.43" r="2.46" fill="#f02a35"/>
<circle cx="404.05" cy="66.87" r="2.46" fill="#f02a35"/>
<path d="M316.60 134.68L319.40 139.37L313.80 139.37Z" fill="#1a5ae0"/>
<path d="M345.75 120.09L348.55 124.77L342.95 124.77Z" fill="#1a5ae0"/>
<path d="M374.90 102.94L377.70 107.62L372.10 107.62Z" fill="#1a5ae0"/>
<path d="M404.05 82.74L406.85 87.42L401.25 87.42Z" fill="#1a5ae0"/>
<path d="M287.45 139.95L290.25 135.27L284.65 135.27Z" fill="#1e965a"/>
<path d="M316.60 125.86L319.40 121.18L313.80 121.18Z" fill="#1e965a"/>
<path d="M345.75 112.11L348.55 107.43L342.95 107.43Z" fill="#1e965a"/>
<path d="M374.90 94.97L377.70 90.29L372.10 90.29Z" fill="#1e965a"/>
<path d="M404.05 76.63L406.85 71.95L401.25 71.95Z" fill="#1e965a"/>
<path d="M258.30 138.31L261.21 141.22L258.30 144.13L255.39 141.22Z" fill="#a564e1"/>
<path d="M287.45 124.22L290.36 127.13L287.45 130.04L284.54 127.13Z" fill="#a564e1"/>
<path d="M316.60 110.13L319.51 113.04L316.60 115.96L313.69 113.04Z" fill="#a564e1"/>
<path d="M345.75 95.70L348.66 98.61L345.75 101.53L342.84 98.61Z" fill="#a564e1"/>
<path d="M374.90 77.20L377.81 80.11L374.90 83.02L371.99 80.11Z" fill="#a564e1"/>
<path d="M404.05 61.58L406.96 64.49L404.05 67.41L401.14 64.49Z" fill="#a564e1"/>
<path d="M255.95 129.34L260.65 126.65L260.65 132.03Z" fill="#c88c19"/>
<path d="M285.10 113.72L289.80 111.03L289.80 116.41Z" fill="#c88c19"/>
<path d="M314.25 98.44L318.95 95.76L318.95 101.13Z" fill="#c88c19"/>
<path d="M343.40 83.34L348.10 80.65L348.10 86.03Z" fill="#c88c19"/>
<path d="M372.55 67.38L377.25 64.69L377.25 70.07Z" fill="#c88c19"/>
<path d="M401.70 51.93L406.40 49.25L406.40 54.62Z" fill="#c88c19"/>
<rect x="238.3" y="13.4" width="167.8" height="135.79999999999998" fill="none" stroke="#444444" stroke-width="1.1"/>
<path d="M238.3 149.20h3 M238.3 122.04h3 M238.3 94.88h3 M238.3 67.72h3 M238.3 40.56h3 M238.3 13.40h3 M238.3 135.62h1.8 M238.3 108.46h1.8 M238.3 81.30h1.8 M238.3 54.14h1.8 M238.3 26.98h1.8 M238.30 149.2v-3 M322.20 149.2v-3 M406.10 149.2v-3 M280.25 149.2v-1.8 M364.15 149.2v-1.8" stroke="#444444" stroke-width="1"/>
<text transform="translate(235.20,152.09) scale(1.0,1)" font-size="7.2" font-weight="bold" text-anchor="end">1.00</text>
<text transform="translate(235.20,124.93) scale(1.0,1)" font-size="7.2" font-weight="bold" text-anchor="end">1.16</text>
<text transform="translate(235.20,97.77) scale(1.0,1)" font-size="7.2" font-weight="bold" text-anchor="end">1.32</text>
<text transform="translate(235.20,70.61) scale(1.0,1)" font-size="7.2" font-weight="bold" text-anchor="end">1.48</text>
<text transform="translate(235.20,43.45) scale(1.0,1)" font-size="7.2" font-weight="bold" text-anchor="end">1.64</text>
<text transform="translate(235.20,16.29) scale(1.0,1)" font-size="7.2" font-weight="bold" text-anchor="end">1.80</text>
<text transform="translate(238.30,158.00) scale(1.0,1)" font-size="7.2" font-weight="bold" text-anchor="middle">0.8</text>
<text transform="translate(322.20,158.00) scale(1.0,1)" font-size="7.2" font-weight="bold" text-anchor="middle">1.0</text>
<text transform="translate(406.10,158.00) scale(1.0,1)" font-size="7.2" font-weight="bold" text-anchor="middle">1.2</text>
<text x="323.2" y="167.3" font-size="8.8" font-weight="bold" text-anchor="middle">strain</text>
<text transform="translate(216.5,73.6) rotate(-90)" x="0" y="2.38" font-size="7.2" font-weight="bold" text-anchor="middle">stress (MPa)</text>
<text transform="translate(240.20,22.90) scale(1.02,1)" font-size="8.1">model data</text>
<text transform="translate(293.00,22.90) scale(1.02,1)" font-size="8.1">test data</text>
<line x1="239.6" y1="30.10" x2="258.3" y2="30.10" stroke="#3c3c3c" stroke-width="1"/>
<text transform="translate(260.60,33.17) scale(1.02,1)" font-size="8.1">293K</text>
<rect x="292.74" y="28.14" width="3.92" height="3.92" fill="#333333"/>
<text transform="translate(306.00,33.17) scale(1.02,1)" font-size="8.1">293K</text>
<line x1="239.6" y1="40.30" x2="258.3" y2="40.30" stroke="#ff4a4a" stroke-width="1" stroke-dasharray="3.2 3.1"/>
<text transform="translate(260.60,43.37) scale(1.02,1)" font-size="8.1">313K</text>
<circle cx="294.70" cy="40.30" r="2.46" fill="#f02a35"/>
<text transform="translate(306.00,43.37) scale(1.02,1)" font-size="8.1">313K</text>
<line x1="239.6" y1="50.50" x2="258.3" y2="50.50" stroke="#3f86f5" stroke-width="1" stroke-dasharray="1.3 2.6"/>
<text transform="translate(260.60,53.57) scale(1.02,1)" font-size="8.1">333K</text>
<path d="M294.70 48.04L297.50 52.72L291.90 52.72Z" fill="#1a5ae0"/>
<text transform="translate(306.00,53.57) scale(1.02,1)" font-size="8.1">333K</text>
<line x1="239.6" y1="60.70" x2="258.3" y2="60.70" stroke="#2fa86c" stroke-width="1" stroke-dasharray="3.6 1.6 1.0 1.6"/>
<text transform="translate(260.60,63.77) scale(1.02,1)" font-size="8.1">353K</text>
<path d="M294.70 63.16L297.50 58.48L291.90 58.48Z" fill="#1e965a"/>
<text transform="translate(306.00,63.77) scale(1.02,1)" font-size="8.1">353K</text>
<line x1="239.6" y1="70.90" x2="258.3" y2="70.90" stroke="#9f55f0" stroke-width="1" stroke-dasharray="3 1.4 1 1.4 1 1.4"/>
<text transform="translate(260.60,73.97) scale(1.02,1)" font-size="8.1">363K</text>
<path d="M294.70 67.99L297.61 70.90L294.70 73.81L291.79 70.90Z" fill="#a564e1"/>
<text transform="translate(306.00,73.97) scale(1.02,1)" font-size="8.1">363K</text>
<line x1="239.6" y1="81.10" x2="258.3" y2="81.10" stroke="#e0a018" stroke-width="1" stroke-dasharray="1.3 1.7"/>
<text transform="translate(260.60,84.17) scale(1.02,1)" font-size="8.1">383K</text>
<path d="M292.35 81.10L297.05 78.41L297.05 83.79Z" fill="#c88c19"/>
<text transform="translate(306.00,84.17) scale(1.02,1)" font-size="8.1">383K</text>
<text x="328.8" y="26.1" font-size="8.9" font-weight="bold">C20 rubber</text>
<text x="328.8" y="37.4" font-size="8.9" font-weight="bold">closed-up view</text>
<text x="368.6" y="136.2" font-size="8.6" font-weight="bold">a(2)</text>
<rect x="30.7" y="197.3" width="172.3" height="138.09999999999997" fill="#fff"/>
<clipPath id="clip_b1"><rect x="30.7" y="197.3" width="172.3" height="138.09999999999997"/></clipPath>
<g clip-path="url(#clip_b1)" fill="none">
<polyline points="30.70,335.40 31.51,334.69 32.32,334.00 33.14,333.33 33.95,332.68 34.76,332.05 35.57,331.45 36.38,330.87 37.19,330.32 38.01,329.79 38.82,329.30 39.63,328.83 40.44,328.38 41.25,327.96 42.06,327.55 42.88,327.15 43.69,326.75 44.50,326.36 45.31,325.96 46.12,325.55 46.93,325.14 47.75,324.73 48.56,324.33 49.37,323.92 50.18,323.52 50.99,323.12 51.80,322.72 52.62,322.32 53.43,321.93 54.24,321.53 55.05,321.14 55.86,320.75 56.67,320.36 57.49,319.98 58.30,319.59 59.11,319.21 59.92,318.83 60.73,318.46 61.55,318.09 62.36,317.71 63.17,317.34 63.98,316.98 64.79,316.61 65.60,316.25 66.42,315.89 67.23,315.53 68.04,315.17 68.85,314.81 69.66,314.46 70.47,314.11 71.29,313.75 72.10,313.41 72.91,313.06 73.72,312.72 74.53,312.38 75.34,312.04 76.16,311.70 76.97,311.36 77.78,311.04 78.59,310.72 79.40,310.40 80.21,310.08 81.03,309.77 81.84,309.46 82.65,309.15 83.46,308.84 84.27,308.54 85.08,308.23 85.90,307.91 86.71,307.60 87.52,307.28 88.33,306.96 89.14,306.63 89.96,306.30 90.77,305.96 91.58,305.62 92.39,305.28 93.20,304.96 94.01,304.64 94.83,304.33 95.64,304.03 96.45,303.72 97.26,303.40 98.07,303.08 98.88,302.75 99.70,302.40 100.51,302.04 101.32,301.65 102.13,301.24 102.94,300.81 103.75,300.34 104.57,299.84 105.38,299.30 106.19,298.72 107.00,297.89 107.81,296.82 108.62,295.70 109.44,294.72 110.25,294.03 111.06,293.47 111.87,292.96 112.68,292.49 113.49,292.06 114.31,291.67 115.12,291.30 115.93,290.95 116.74,290.61 117.55,290.28 118.37,289.96 119.18,289.63 119.99,289.29 120.80,288.94 121.61,288.56 122.42,288.16 123.24,287.72 124.05,287.25 124.86,286.77 125.67,286.28 126.48,285.78 127.29,285.27 128.11,284.74 128.92,284.20 129.73,283.66 130.54,283.10 131.35,282.53 132.16,281.96 132.98,281.37 133.79,280.77 134.60,280.17 135.41,279.55 136.22,278.93 137.03,278.30 137.85,277.66 138.66,277.01 139.47,276.35 140.28,275.68 141.09,274.99 141.90,274.30 142.72,273.59 143.53,272.86 144.34,272.13 145.15,271.37 145.96,270.60 146.78,269.81 147.59,269.00 148.40,268.18 149.21,267.33 150.02,266.46 150.83,265.56 151.65,264.63 152.46,263.65 153.27,262.64 154.08,261.60 154.89,260.53 155.70,259.43 156.52,258.32 157.33,257.19 158.14,256.04 158.95,254.88 159.76,253.72 160.57,252.55 161.39,251.38 162.20,250.22 163.01,249.06 163.82,247.91 164.63,246.76 165.44,245.61 166.26,244.45 167.07,243.29 167.88,242.12 168.69,240.95 169.50,239.76 170.31,238.57 171.13,237.36 171.94,236.15 172.75,234.92 173.56,233.68 174.37,232.42 175.19,231.15 176.00,229.86 176.81,228.55 177.62,227.22 178.43,225.88 179.24,224.53 180.06,223.15 180.87,221.76 181.68,220.34 182.49,218.89 183.30,217.42 184.11,215.92 184.93,214.39 185.74,212.83 186.55,211.22 187.36,209.54 188.17,207.82 188.98,206.05 189.80,204.26 190.61,202.46 191.42,200.66 192.23,198.87" stroke="#3c3c3c" stroke-width="1.0"/>
<polyline points="30.70,335.40 31.51,334.76 32.32,334.14 33.14,333.53 33.95,332.94 34.76,332.36 35.57,331.80 36.38,331.26 37.19,330.73 38.01,330.22 38.82,329.74 39.63,329.26 40.44,328.81 41.25,328.37 42.06,327.93 42.88,327.51 43.69,327.10 44.50,326.70 45.31,326.30 46.12,325.91 46.93,325.52 47.75,325.13 48.56,324.75 49.37,324.38 50.18,324.01 50.99,323.65 51.80,323.29 52.62,322.93 53.43,322.58 54.24,322.23 55.05,321.88 55.86,321.53 56.67,321.19 57.49,320.85 58.30,320.51 59.11,320.17 59.92,319.83 60.73,319.49 61.55,319.15 62.36,318.82 63.17,318.49 63.98,318.15 64.79,317.82 65.60,317.50 66.42,317.17 67.23,316.84 68.04,316.52 68.85,316.20 69.66,315.88 70.47,315.56 71.29,315.25 72.10,314.93 72.91,314.62 73.72,314.31 74.53,314.00 75.34,313.69 76.16,313.38 76.97,313.07 77.78,312.77 78.59,312.47 79.40,312.16 80.21,311.87 81.03,311.57 81.84,311.27 82.65,310.97 83.46,310.68 84.27,310.39 85.08,310.10 85.90,309.81 86.71,309.52 87.52,309.23 88.33,308.94 89.14,308.66 89.96,308.37 90.77,308.09 91.58,307.81 92.39,307.52 93.20,307.25 94.01,306.97 94.83,306.69 95.64,306.42 96.45,306.15 97.26,305.88 98.07,305.60 98.88,305.33 99.70,305.07 100.51,304.80 101.32,304.53 102.13,304.26 102.94,303.99 103.75,303.72 104.57,303.45 105.38,303.18 106.19,302.92 107.00,302.65 107.81,302.39 108.62,302.14 109.44,301.90 110.25,301.65 111.06,301.40 111.87,301.15 112.68,300.89 113.49,300.63 114.31,300.35 115.12,300.06 115.93,299.76 116.74,299.43 117.55,299.08 118.37,298.69 119.18,298.28 119.99,297.84 120.80,297.40 121.61,296.95 122.42,296.51 123.24,296.06 124.05,295.59 124.86,295.13 125.67,294.67 126.48,294.24 127.29,293.81 128.11,293.40 128.92,292.99 129.73,292.58 130.54,292.15 131.35,291.71 132.16,291.24 132.98,290.75 133.79,290.24 134.60,289.73 135.41,289.21 136.22,288.69 137.03,288.18 137.85,287.68 138.66,287.18 139.47,286.67 140.28,286.17 141.09,285.66 141.90,285.16 142.72,284.65 143.53,284.15 144.34,283.66 145.15,283.16 145.96,282.67 146.78,282.19 147.59,281.71 148.40,281.24 149.21,280.79 150.02,280.35 150.83,279.88 151.65,279.40 152.46,278.91 153.27,278.41 154.08,277.91 154.89,277.40 155.70,276.87 156.52,276.32 157.33,275.74 158.14,275.13 158.95,274.49 159.76,273.81 160.57,273.08 161.39,272.28 162.20,271.41 163.01,270.49 163.82,269.53 164.63,268.52 165.44,267.47 166.26,266.40 167.07,265.31 167.88,264.21 168.69,263.10 169.50,262.00 170.31,260.90 171.13,259.80 171.94,258.60 172.75,257.31 173.56,255.96 174.37,254.56 175.19,253.16 176.00,251.77 176.81,250.43 177.62,249.15 178.43,247.97 179.24,246.90 180.06,245.99 180.87,245.24 181.68,244.69 182.49,244.20 183.30,243.73 184.11,243.27 184.93,242.84 185.74,242.43 186.55,242.05 187.36,241.71 188.17,241.41 188.98,241.15 189.80,240.95 190.61,240.79 191.42,240.70 192.23,240.66" stroke="#ff4a4a" stroke-width="1.1" stroke-dasharray="3.2 3.1"/>
<polyline points="30.70,335.40 31.51,334.88 32.32,334.37 33.14,333.87 33.95,333.38 34.76,332.90 35.57,332.44 36.38,332.00 37.19,331.56 38.01,331.14 38.82,330.74 39.63,330.35 40.44,329.98 41.25,329.61 42.06,329.26 42.88,328.91 43.69,328.57 44.50,328.24 45.31,327.91 46.12,327.59 46.93,327.27 47.75,326.95 48.56,326.64 49.37,326.33 50.18,326.02 50.99,325.72 51.80,325.43 52.62,325.13 53.43,324.84 54.24,324.55 55.05,324.27 55.86,323.98 56.67,323.70 57.49,323.42 58.30,323.14 59.11,322.87 59.92,322.59 60.73,322.32 61.55,322.05 62.36,321.78 63.17,321.51 63.98,321.25 64.79,320.98 65.60,320.72 66.42,320.47 67.23,320.21 68.04,319.95 68.85,319.70 69.66,319.45 70.47,319.20 71.29,318.95 72.10,318.70 72.91,318.45 73.72,318.20 74.53,317.96 75.34,317.71 76.16,317.46 76.97,317.22 77.78,316.97 78.59,316.73 79.40,316.49 80.21,316.25 81.03,316.01 81.84,315.77 82.65,315.53 83.46,315.29 84.27,315.06 85.08,314.82 85.90,314.58 86.71,314.34 87.52,314.11 88.33,313.87 89.14,313.63 89.96,313.39 90.77,313.15 91.58,312.90 92.39,312.66 93.20,312.41 94.01,312.16 94.83,311.92 95.64,311.67 96.45,311.42 97.26,311.17 98.07,310.92 98.88,310.67 99.70,310.42 100.51,310.18 101.32,309.93 102.13,309.68 102.94,309.43 103.75,309.18 104.57,308.93 105.38,308.69 106.19,308.44 107.00,308.20 107.81,307.97 108.62,307.75 109.44,307.53 110.25,307.31 111.06,307.09 111.87,306.87 112.68,306.63 113.49,306.39 114.31,306.14 115.12,305.88 115.93,305.59 116.74,305.29 117.55,304.96 118.37,304.59 119.18,304.19 119.99,303.76 120.80,303.30 121.61,302.82 122.42,302.33 123.24,301.82 124.05,301.30 124.86,300.77 125.67,300.24 126.48,299.71 127.29,299.18 128.11,298.67 128.92,298.16 129.73,297.67 130.54,297.20 131.35,296.75 132.16,296.33 132.98,295.92 133.79,295.53 134.60,295.14 135.41,294.74 136.22,294.32 137.03,293.88 137.85,293.43 138.66,292.98 139.47,292.51 140.28,292.04 141.09,291.55 141.90,291.06 142.72,290.56 143.53,290.06 144.34,289.54 145.15,289.01 145.96,288.47 146.78,287.92 147.59,287.36 148.40,286.79 149.21,286.17 150.02,285.50 150.83,284.89 151.65,284.35 152.46,283.86 153.27,283.40 154.08,282.96 154.89,282.53 155.70,282.11 156.52,281.68 157.33,281.23 158.14,280.77 158.95,280.27 159.76,279.72 160.57,279.13 161.39,278.48 162.20,277.79 163.01,277.05 163.82,276.29 164.63,275.50 165.44,274.69 166.26,273.87 167.07,273.05 167.88,272.22 168.69,271.41 169.50,270.61 170.31,269.84 171.13,269.09 171.94,268.35 172.75,267.62 173.56,266.91 174.37,266.19 175.19,265.48 176.00,264.76 176.81,264.05 177.62,263.33 178.43,262.60 179.24,261.86 180.06,261.10 180.87,260.34 181.68,259.55 182.49,258.75 183.30,257.95 184.11,257.13 184.93,256.30 185.74,255.46 186.55,254.61 187.36,253.75 188.17,252.88 188.98,252.00 189.80,251.11 190.61,250.22 191.42,249.31 192.23,248.40" stroke="#3f86f5" stroke-width="1.1" stroke-dasharray="1.3 2.6"/>
<polyline points="30.70,335.40 31.51,334.86 32.32,334.33 33.14,333.82 33.95,333.33 34.76,332.85 35.57,332.39 36.38,331.95 37.19,331.53 38.01,331.14 38.82,330.76 39.63,330.40 40.44,330.06 41.25,329.74 42.06,329.43 42.88,329.12 43.69,328.82 44.50,328.53 45.31,328.24 46.12,327.94 46.93,327.65 47.75,327.37 48.56,327.09 49.37,326.81 50.18,326.54 50.99,326.28 51.80,326.01 52.62,325.75 53.43,325.49 54.24,325.22 55.05,324.96 55.86,324.70 56.67,324.44 57.49,324.18 58.30,323.91 59.11,323.64 59.92,323.37 60.73,323.09 61.55,322.81 62.36,322.53 63.17,322.24 63.98,321.94 64.79,321.65 65.60,321.35 66.42,321.05 67.23,320.75 68.04,320.45 68.85,320.15 69.66,319.85 70.47,319.55 71.29,319.26 72.10,318.97 72.91,318.68 73.72,318.39 74.53,318.12 75.34,317.84 76.16,317.58 76.97,317.31 77.78,317.06 78.59,316.81 79.40,316.57 80.21,316.33 81.03,316.09 81.84,315.85 82.65,315.62 83.46,315.39 84.27,315.16 85.08,314.92 85.90,314.69 86.71,314.45 87.52,314.22 88.33,313.98 89.14,313.73 89.96,313.48 90.77,313.23 91.58,312.97 92.39,312.70 93.20,312.43 94.01,312.15 94.83,311.86 95.64,311.58 96.45,311.29 97.26,311.00 98.07,310.70 98.88,310.41 99.70,310.11 100.51,309.82 101.32,309.53 102.13,309.24 102.94,308.95 103.75,308.67 104.57,308.39 105.38,308.12 106.19,307.85 107.00,307.59 107.81,307.34 108.62,307.11 109.44,306.87 110.25,306.64 111.06,306.41 111.87,306.18 112.68,305.95 113.49,305.70 114.31,305.45 115.12,305.18 115.93,304.90 116.74,304.60 117.55,304.28 118.37,303.93 119.18,303.56 119.99,303.17 120.80,302.76 121.61,302.34 122.42,301.90 123.24,301.45 124.05,300.99 124.86,300.53 125.67,300.06 126.48,299.60 127.29,299.13 128.11,298.67 128.92,298.21 129.73,297.77 130.54,297.33 131.35,296.91 132.16,296.51 132.98,296.12 133.79,295.74 134.60,295.36 135.41,294.98 136.22,294.58 137.03,294.16 137.85,293.74 138.66,293.31 139.47,292.87 140.28,292.43 141.09,291.98 141.90,291.52 142.72,291.06 143.53,290.58 144.34,290.08 145.15,289.57 145.96,289.04 146.78,288.50 147.59,287.93 148.40,287.34 149.21,286.66 150.02,285.91 150.83,285.22 151.65,284.64 152.46,284.10 153.27,283.58 154.08,283.09 154.89,282.62 155.70,282.16 156.52,281.71 157.33,281.26 158.14,280.81 158.95,280.36 159.76,279.90 160.57,279.42 161.39,278.96 162.20,278.49 163.01,278.04 163.82,277.58 164.63,277.12 165.44,276.67 166.26,276.21 167.07,275.75 167.88,275.28 168.69,274.82 169.50,274.34 170.31,273.86 171.13,273.37 171.94,272.87 172.75,272.37 173.56,271.86 174.37,271.35 175.19,270.84 176.00,270.32 176.81,269.79 177.62,269.27 178.43,268.74 179.24,268.21 180.06,267.68 180.87,267.14 181.68,266.61 182.49,266.07 183.30,265.53 184.11,264.99 184.93,264.45 185.74,263.90 186.55,263.35 187.36,262.80 188.17,262.25 188.98,261.69 189.80,261.13 190.61,260.57 191.42,260.01 192.23,259.44" stroke="#2fa86c" stroke-width="1.1" stroke-dasharray="3.6 1.6 1.0 1.6"/>
<polyline points="30.70,335.40 31.51,334.78 32.32,334.17 33.14,333.58 33.95,333.00 34.76,332.45 35.57,331.91 36.38,331.39 37.19,330.90 38.01,330.42 38.82,329.97 39.63,329.54 40.44,329.12 41.25,328.72 42.06,328.34 42.88,327.96 43.69,327.59 44.50,327.23 45.31,326.87 46.12,326.51 46.93,326.16 47.75,325.81 48.56,325.47 49.37,325.13 50.18,324.80 50.99,324.47 51.80,324.15 52.62,323.82 53.43,323.50 54.24,323.19 55.05,322.87 55.86,322.55 56.67,322.24 57.49,321.92 58.30,321.61 59.11,321.29 59.92,320.97 60.73,320.65 61.55,320.33 62.36,320.00 63.17,319.68 63.98,319.36 64.79,319.03 65.60,318.71 66.42,318.38 67.23,318.06 68.04,317.74 68.85,317.41 69.66,317.09 70.47,316.77 71.29,316.46 72.10,316.14 72.91,315.83 73.72,315.52 74.53,315.21 75.34,314.90 76.16,314.60 76.97,314.30 77.78,314.00 78.59,313.71 79.40,313.42 80.21,313.13 81.03,312.84 81.84,312.56 82.65,312.27 83.46,311.99 84.27,311.71 85.08,311.43 85.90,311.15 86.71,310.87 87.52,310.59 88.33,310.31 89.14,310.03 89.96,309.75 90.77,309.47 91.58,309.18 92.39,308.90 93.20,308.62 94.01,308.34 94.83,308.06 95.64,307.78 96.45,307.50 97.26,307.22 98.07,306.94 98.88,306.66 99.70,306.38 100.51,306.10 101.32,305.82 102.13,305.54 102.94,305.26 103.75,304.98 104.57,304.71 105.38,304.43 106.19,304.16 107.00,303.88 107.81,303.62 108.62,303.36 109.44,303.10 110.25,302.85 111.06,302.59 111.87,302.33 112.68,302.07 113.49,301.80 114.31,301.52 115.12,301.23 115.93,300.93 116.74,300.62 117.55,300.29 118.37,299.95 119.18,299.58 119.99,299.20 120.80,298.81 121.61,298.42 122.42,298.02 123.24,297.62 124.05,297.21 124.86,296.82 125.67,296.42 126.48,296.03 127.29,295.63 128.11,295.23 128.92,294.83 129.73,294.42 130.54,294.01 131.35,293.60 132.16,293.18 132.98,292.76 133.79,292.33 134.60,291.90 135.41,291.47 136.22,291.05 137.03,290.63 137.85,290.22 138.66,289.81 139.47,289.40 140.28,288.99 141.09,288.58 141.90,288.18 142.72,287.77 143.53,287.37 144.34,286.97 145.15,286.58 145.96,286.18 146.78,285.79 147.59,285.41 148.40,285.02 149.21,284.65 150.02,284.29 150.83,283.91 151.65,283.51 152.46,283.09 153.27,282.67 154.08,282.23 154.89,281.79 155.70,281.33 156.52,280.88 157.33,280.41 158.14,279.94 158.95,279.46 159.76,278.99 160.57,278.50 161.39,278.01 162.20,277.50 163.01,276.99 163.82,276.47 164.63,275.94 165.44,275.41 166.26,274.88 167.07,274.34 167.88,273.81 168.69,273.27 169.50,272.74 170.31,272.21 171.13,271.69 171.94,271.17 172.75,270.66 173.56,270.14 174.37,269.63 175.19,269.12 176.00,268.60 176.81,268.09 177.62,267.57 178.43,267.04 179.24,266.51 180.06,265.97 180.87,265.42 181.68,264.86 182.49,264.29 183.30,263.71 184.11,263.13 184.93,262.54 185.74,261.95 186.55,261.34 187.36,260.74 188.17,260.12 188.98,259.50 189.80,258.88 190.61,258.24 191.42,257.60 192.23,256.96" stroke="#9f55f0" stroke-width="1.1" stroke-dasharray="3 1.4 1 1.4 1 1.4"/>
<polyline points="30.70,335.40 31.51,334.63 32.32,333.88 33.14,333.15 33.95,332.45 34.76,331.77 35.57,331.12 36.38,330.51 37.19,329.93 38.01,329.38 38.82,328.86 39.63,328.39 40.44,327.94 41.25,327.52 42.06,327.11 42.88,326.71 43.69,326.32 44.50,325.92 45.31,325.50 46.12,325.08 46.93,324.64 47.75,324.20 48.56,323.76 49.37,323.31 50.18,322.86 50.99,322.41 51.80,321.96 52.62,321.51 53.43,321.06 54.24,320.61 55.05,320.17 55.86,319.72 56.67,319.29 57.49,318.86 58.30,318.43 59.11,318.01 59.92,317.60 60.73,317.19 61.55,316.80 62.36,316.41 63.17,316.02 63.98,315.64 64.79,315.27 65.60,314.89 66.42,314.53 67.23,314.16 68.04,313.80 68.85,313.44 69.66,313.09 70.47,312.73 71.29,312.38 72.10,312.03 72.91,311.68 73.72,311.33 74.53,310.99 75.34,310.64 76.16,310.30 76.97,309.95 77.78,309.61 78.59,309.26 79.40,308.92 80.21,308.58 81.03,308.24 81.84,307.90 82.65,307.57 83.46,307.23 84.27,306.90 85.08,306.57 85.90,306.25 86.71,305.92 87.52,305.60 88.33,305.28 89.14,304.96 89.96,304.64 90.77,304.33 91.58,304.02 92.39,303.72 93.20,303.42 94.01,303.12 94.83,302.83 95.64,302.54 96.45,302.26 97.26,301.97 98.07,301.69 98.88,301.40 99.70,301.12 100.51,300.84 101.32,300.56 102.13,300.27 102.94,299.99 103.75,299.70 104.57,299.41 105.38,299.12 106.19,298.82 107.00,298.52 107.81,298.22 108.62,297.92 109.44,297.62 110.25,297.31 111.06,297.00 111.87,296.70 112.68,296.39 113.49,296.08 114.31,295.77 115.12,295.46 115.93,295.15 116.74,294.84 117.55,294.53 118.37,294.23 119.18,293.92 119.99,293.62 120.80,293.32 121.61,293.01 122.42,292.70 123.24,292.38 124.05,292.06 124.86,291.73 125.67,291.39 126.48,291.03 127.29,290.66 128.11,290.28 128.92,289.89 129.73,289.49 130.54,289.09 131.35,288.68 132.16,288.27 132.98,287.85 133.79,287.42 134.60,286.99 135.41,286.55 136.22,286.12 137.03,285.68 137.85,285.25 138.66,284.80 139.47,284.36 140.28,283.90 141.09,283.45 141.90,283.00 142.72,282.55 143.53,282.10 144.34,281.66 145.15,281.22 145.96,280.79 146.78,280.37 147.59,279.96 148.40,279.55 149.21,279.18 150.02,278.83 150.83,278.44 151.65,278.01 152.46,277.54 153.27,277.06 154.08,276.55 154.89,276.02 155.70,275.48 156.52,274.91 157.33,274.34 158.14,273.76 158.95,273.17 159.76,272.57 160.57,271.97 161.39,271.35 162.20,270.71 163.01,270.06 163.82,269.40 164.63,268.72 165.44,268.03 166.26,267.33 167.07,266.62 167.88,265.91 168.69,265.19 169.50,264.46 170.31,263.73 171.13,263.00 171.94,262.23 172.75,261.44 173.56,260.63 174.37,259.81 175.19,258.98 176.00,258.15 176.81,257.32 177.62,256.50 178.43,255.70 179.24,254.91 180.06,254.16 180.87,253.43 181.68,252.75 182.49,252.08 183.30,251.42 184.11,250.78 184.93,250.15 185.74,249.53 186.55,248.92 187.36,248.33 188.17,247.75 188.98,247.18 189.80,246.63 190.61,246.10 191.42,245.58 192.23,245.08" stroke="#e0a018" stroke-width="1.1" stroke-dasharray="1.3 1.7"/>
</g>
<rect x="28.74" y="333.44" width="3.92" height="3.92" fill="#333333"/>
<rect x="36.31" y="327.36" width="3.92" height="3.92" fill="#333333"/>
<rect x="43.88" y="323.22" width="3.92" height="3.92" fill="#333333"/>
<rect x="51.45" y="319.28" width="3.92" height="3.92" fill="#333333"/>
<rect x="59.02" y="315.49" width="3.92" height="3.92" fill="#333333"/>
<rect x="66.59" y="311.90" width="3.92" height="3.92" fill="#333333"/>
<rect x="74.16" y="308.51" width="3.92" height="3.92" fill="#333333"/>
<rect x="81.73" y="305.27" width="3.92" height="3.92" fill="#333333"/>
<rect x="89.30" y="302.23" width="3.92" height="3.92" fill="#333333"/>
<rect x="96.87" y="298.51" width="3.92" height="3.92" fill="#333333"/>
<rect x="104.44" y="294.77" width="3.92" height="3.92" fill="#333333"/>
<rect x="112.01" y="291.76" width="3.92" height="3.92" fill="#333333"/>
<rect x="119.59" y="288.70" width="3.92" height="3.92" fill="#333333"/>
<rect x="127.16" y="284.77" width="3.92" height="3.92" fill="#333333"/>
<rect x="134.73" y="280.16" width="3.92" height="3.92" fill="#333333"/>
<rect x="142.30" y="274.58" width="3.92" height="3.92" fill="#333333"/>
<rect x="149.87" y="268.20" width="3.92" height="3.92" fill="#333333"/>
<rect x="157.44" y="260.44" width="3.92" height="3.92" fill="#333333"/>
<rect x="165.01" y="249.89" width="3.92" height="3.92" fill="#333333"/>
<rect x="172.58" y="241.11" width="3.92" height="3.92" fill="#333333"/>
<rect x="180.15" y="228.93" width="3.92" height="3.92" fill="#333333"/>
<rect x="187.72" y="212.13" width="3.92" height="3.92" fill="#333333"/>
<circle cx="30.70" cy="335.40" r="2.46" fill="#f02a35"/>
<circle cx="38.27" cy="329.88" r="2.46" fill="#f02a35"/>
<circle cx="45.84" cy="325.71" r="2.46" fill="#f02a35"/>
<circle cx="53.41" cy="322.15" r="2.46" fill="#f02a35"/>
<circle cx="60.98" cy="318.83" r="2.46" fill="#f02a35"/>
<circle cx="68.55" cy="315.63" r="2.46" fill="#f02a35"/>
<circle cx="76.12" cy="312.62" r="2.46" fill="#f02a35"/>
<circle cx="83.69" cy="309.74" r="2.46" fill="#f02a35"/>
<circle cx="91.26" cy="306.95" r="2.46" fill="#f02a35"/>
<circle cx="98.83" cy="304.30" r="2.46" fill="#f02a35"/>
<circle cx="106.40" cy="301.70" r="2.46" fill="#f02a35"/>
<circle cx="113.97" cy="299.15" r="2.46" fill="#f02a35"/>
<circle cx="121.55" cy="296.29" r="2.46" fill="#f02a35"/>
<circle cx="129.12" cy="292.37" r="2.46" fill="#f02a35"/>
<circle cx="136.69" cy="288.23" r="2.46" fill="#f02a35"/>
<circle cx="144.26" cy="283.67" r="2.46" fill="#f02a35"/>
<circle cx="151.83" cy="277.73" r="2.46" fill="#f02a35"/>
<circle cx="159.40" cy="270.35" r="2.46" fill="#f02a35"/>
<circle cx="166.97" cy="261.35" r="2.46" fill="#f02a35"/>
<circle cx="174.54" cy="252.57" r="2.46" fill="#f02a35"/>
<circle cx="182.11" cy="241.16" r="2.46" fill="#f02a35"/>
<circle cx="189.68" cy="227.07" r="2.46" fill="#f02a35"/>
<path d="M30.70 332.94L33.50 337.62L27.90 337.62Z" fill="#1a5ae0"/>
<path d="M38.27 327.69L41.07 332.37L35.47 332.37Z" fill="#1a5ae0"/>
<path d="M45.84 323.73L48.64 328.41L43.04 328.41Z" fill="#1a5ae0"/>
<path d="M53.41 320.33L56.21 325.01L50.61 325.01Z" fill="#1a5ae0"/>
<path d="M60.98 317.19L63.78 321.87L58.18 321.87Z" fill="#1a5ae0"/>
<path d="M68.55 314.24L71.35 318.92L65.75 318.92Z" fill="#1a5ae0"/>
<path d="M76.12 311.50L78.92 316.18L73.32 316.18Z" fill="#1a5ae0"/>
<path d="M83.69 308.84L86.49 313.52L80.89 313.52Z" fill="#1a5ae0"/>
<path d="M91.26 306.14L94.06 310.83L88.46 310.83Z" fill="#1a5ae0"/>
<path d="M98.83 303.38L101.63 308.06L96.03 308.06Z" fill="#1a5ae0"/>
<path d="M106.40 300.62L109.20 305.30L103.60 305.30Z" fill="#1a5ae0"/>
<path d="M113.97 297.92L116.77 302.60L111.17 302.60Z" fill="#1a5ae0"/>
<path d="M121.55 295.10L124.35 299.78L118.75 299.78Z" fill="#1a5ae0"/>
<path d="M129.12 291.84L131.92 296.52L126.32 296.52Z" fill="#1a5ae0"/>
<path d="M136.69 287.72L139.49 292.40L133.89 292.40Z" fill="#1a5ae0"/>
<path d="M144.26 283.61L147.06 288.29L141.46 288.29Z" fill="#1a5ae0"/>
<path d="M151.83 278.55L154.63 283.23L149.03 283.23Z" fill="#1a5ae0"/>
<path d="M159.40 273.41L162.20 278.10L156.60 278.10Z" fill="#1a5ae0"/>
<path d="M166.97 266.90L169.77 271.58L164.17 271.58Z" fill="#1a5ae0"/>
<path d="M174.54 260.18L177.34 264.87L171.74 264.87Z" fill="#1a5ae0"/>
<path d="M182.11 254.00L184.91 258.68L179.31 258.68Z" fill="#1a5ae0"/>
<path d="M189.68 247.31L192.48 252.00L186.88 252.00Z" fill="#1a5ae0"/>
<path d="M30.70 337.86L33.50 333.18L27.90 333.18Z" fill="#1e965a"/>
<path d="M38.27 333.17L41.07 328.49L35.47 328.49Z" fill="#1e965a"/>
<path d="M45.84 329.99L48.64 325.31L43.04 325.31Z" fill="#1e965a"/>
<path d="M53.41 327.38L56.21 322.70L50.61 322.70Z" fill="#1e965a"/>
<path d="M60.98 324.61L63.78 319.92L58.18 319.92Z" fill="#1e965a"/>
<path d="M68.55 321.29L71.35 316.61L65.75 316.61Z" fill="#1e965a"/>
<path d="M76.12 318.81L78.92 314.12L73.32 314.12Z" fill="#1e965a"/>
<path d="M83.69 316.04L86.49 311.36L80.89 311.36Z" fill="#1e965a"/>
<path d="M91.26 313.97L94.06 309.29L88.46 309.29Z" fill="#1e965a"/>
<path d="M98.83 311.22L101.63 306.53L96.03 306.53Z" fill="#1e965a"/>
<path d="M106.40 308.31L109.20 303.63L103.60 303.63Z" fill="#1e965a"/>
<path d="M113.97 305.80L116.77 301.12L111.17 301.12Z" fill="#1e965a"/>
<path d="M121.55 303.34L124.35 298.66L118.75 298.66Z" fill="#1e965a"/>
<path d="M129.12 300.72L131.92 296.03L126.32 296.03Z" fill="#1e965a"/>
<path d="M136.69 297.48L139.49 292.80L133.89 292.80Z" fill="#1e965a"/>
<path d="M144.26 293.81L147.06 289.13L141.46 289.13Z" fill="#1e965a"/>
<path d="M151.83 290.27L154.63 285.59L149.03 285.59Z" fill="#1e965a"/>
<path d="M159.40 285.83L162.20 281.15L156.60 281.15Z" fill="#1e965a"/>
<path d="M166.97 281.41L169.77 276.73L164.17 276.73Z" fill="#1e965a"/>
<path d="M174.54 276.02L177.34 271.34L171.74 271.34Z" fill="#1e965a"/>
<path d="M182.11 270.91L184.91 266.23L179.31 266.23Z" fill="#1e965a"/>
<path d="M189.68 264.62L192.48 259.93L186.88 259.93Z" fill="#1e965a"/>
<path d="M30.70 332.49L33.61 335.40L30.70 338.31L27.79 335.40Z" fill="#a564e1"/>
<path d="M38.27 327.24L41.18 330.15L38.27 333.06L35.36 330.15Z" fill="#a564e1"/>
<path d="M45.84 323.52L48.75 326.44L45.84 329.35L42.93 326.44Z" fill="#a564e1"/>
<path d="M53.41 320.34L56.32 323.25L53.41 326.16L50.50 323.25Z" fill="#a564e1"/>
<path d="M60.98 317.30L63.89 320.21L60.98 323.12L58.07 320.21Z" fill="#a564e1"/>
<path d="M68.55 313.43L71.46 316.34L68.55 319.25L65.64 316.34Z" fill="#a564e1"/>
<path d="M76.12 311.22L79.03 314.13L76.12 317.04L73.21 314.13Z" fill="#a564e1"/>
<path d="M83.69 308.60L86.61 311.51L83.69 314.42L80.78 311.51Z" fill="#a564e1"/>
<path d="M91.26 305.78L94.18 308.69L91.26 311.60L88.35 308.69Z" fill="#a564e1"/>
<path d="M98.83 303.09L101.75 306.00L98.83 308.91L95.92 306.00Z" fill="#a564e1"/>
<path d="M106.40 300.45L109.32 303.36L106.40 306.27L103.49 303.36Z" fill="#a564e1"/>
<path d="M113.97 297.86L116.89 300.77L113.97 303.68L111.06 300.77Z" fill="#a564e1"/>
<path d="M121.55 295.20L124.46 298.11L121.55 301.02L118.63 298.11Z" fill="#a564e1"/>
<path d="M129.12 292.30L132.03 295.21L129.12 298.12L126.20 295.21Z" fill="#a564e1"/>
<path d="M136.69 289.21L139.60 292.12L136.69 295.03L133.77 292.12Z" fill="#a564e1"/>
<path d="M144.26 285.81L147.17 288.72L144.26 291.63L141.34 288.72Z" fill="#a564e1"/>
<path d="M151.83 282.00L154.74 284.91L151.83 287.82L148.91 284.91Z" fill="#a564e1"/>
<path d="M159.40 277.83L162.31 280.74L159.40 283.65L156.49 280.74Z" fill="#a564e1"/>
<path d="M166.97 273.13L169.88 276.04L166.97 278.96L164.06 276.04Z" fill="#a564e1"/>
<path d="M174.54 267.44L177.45 270.35L174.54 273.27L171.63 270.35Z" fill="#a564e1"/>
<path d="M182.11 262.64L185.02 265.55L182.11 268.46L179.20 265.55Z" fill="#a564e1"/>
<path d="M189.68 255.04L192.59 257.95L189.68 260.87L186.77 257.95Z" fill="#a564e1"/>
<path d="M28.35 335.40L33.05 332.71L33.05 338.09Z" fill="#c88c19"/>
<path d="M35.92 329.38L40.62 326.69L40.62 332.07Z" fill="#c88c19"/>
<path d="M43.49 325.51L48.19 322.82L48.19 328.20Z" fill="#c88c19"/>
<path d="M51.06 321.31L55.76 318.63L55.76 324.00Z" fill="#c88c19"/>
<path d="M58.63 317.59L63.33 314.90L63.33 320.27Z" fill="#c88c19"/>
<path d="M66.20 314.13L70.90 311.44L70.90 316.82Z" fill="#c88c19"/>
<path d="M73.77 311.01L78.47 308.32L78.47 313.70Z" fill="#c88c19"/>
<path d="M81.34 308.06L86.05 305.37L86.05 310.74Z" fill="#c88c19"/>
<path d="M88.91 305.02L93.62 302.33L93.62 307.71Z" fill="#c88c19"/>
<path d="M96.48 302.37L101.19 299.69L101.19 305.06Z" fill="#c88c19"/>
<path d="M104.05 299.77L108.76 297.08L108.76 302.46Z" fill="#c88c19"/>
<path d="M111.62 297.04L116.33 294.35L116.33 299.73Z" fill="#c88c19"/>
<path d="M119.19 293.97L123.90 291.28L123.90 296.66Z" fill="#c88c19"/>
<path d="M126.76 289.97L131.47 287.28L131.47 292.65Z" fill="#c88c19"/>
<path d="M134.33 285.49L139.04 282.80L139.04 288.18Z" fill="#c88c19"/>
<path d="M141.90 281.60L146.61 278.91L146.61 284.28Z" fill="#c88c19"/>
<path d="M149.47 277.20L154.18 274.52L154.18 279.89Z" fill="#c88c19"/>
<path d="M157.05 272.76L161.75 270.07L161.75 275.45Z" fill="#c88c19"/>
<path d="M164.62 266.54L169.32 263.86L169.32 269.23Z" fill="#c88c19"/>
<path d="M172.19 259.86L176.89 257.17L176.89 262.55Z" fill="#c88c19"/>
<path d="M179.76 252.26L184.46 249.58L184.46 254.95Z" fill="#c88c19"/>
<path d="M187.33 245.55L192.03 242.86L192.03 248.24Z" fill="#c88c19"/>
<rect x="30.7" y="197.3" width="172.3" height="138.09999999999997" fill="none" stroke="#444444" stroke-width="1.1"/>
<path d="M30.7 335.40h3 M30.7 307.78h3 M30.7 280.16h3 M30.7 252.54h3 M30.7 224.92h3 M30.7 197.30h3 M30.7 321.59h1.8 M30.7 293.97h1.8 M30.7 266.35h1.8 M30.7 238.73h1.8 M30.7 211.11h1.8 M30.70 335.4v-3 M52.24 335.4v-3 M73.78 335.4v-3 M95.31 335.4v-3 M116.85 335.4v-3 M138.39 335.4v-3 M159.93 335.4v-3 M181.46 335.4v-3 M203.00 335.4v-3 M41.47 335.4v-1.8 M63.01 335.4v-1.8 M84.54 335.4v-1.8 M106.08 335.4v-1.8 M127.62 335.4v-1.8 M149.16 335.4v-1.8 M170.69 335.4v-1.8 M192.23 335.4v-1.8" stroke="#444444" stroke-width="1"/>
<text transform="translate(27.70,337.46) scale(1.0,1)" font-size="7.4" font-weight="bold" text-anchor="end">0</text>
<text transform="translate(27.70,309.84) scale(1.0,1)" font-size="7.4" font-weight="bold" text-anchor="end">1</text>
<text transform="translate(27.70,282.22) scale(1.0,1)" font-size="7.4" font-weight="bold" text-anchor="end">2</text>
<text transform="translate(27.70,254.60) scale(1.0,1)" font-size="7.4" font-weight="bold" text-anchor="end">3</text>
<text transform="translate(27.70,226.98) scale(1.0,1)" font-size="7.4" font-weight="bold" text-anchor="end">4</text>
<text transform="translate(27.70,199.36) scale(1.0,1)" font-size="7.4" font-weight="bold" text-anchor="end">5</text>
<text transform="translate(30.70,344.60) scale(1.0,1)" font-size="7.4" font-weight="bold" text-anchor="middle">0.0</text>
<text transform="translate(52.24,344.60) scale(1.0,1)" font-size="7.4" font-weight="bold" text-anchor="middle">0.2</text>
<text transform="translate(73.78,344.60) scale(1.0,1)" font-size="7.4" font-weight="bold" text-anchor="middle">0.4</text>
<text transform="translate(95.31,344.60) scale(1.0,1)" font-size="7.4" font-weight="bold" text-anchor="middle">0.6</text>
<text transform="translate(116.85,344.60) scale(1.0,1)" font-size="7.4" font-weight="bold" text-anchor="middle">0.8</text>
<text transform="translate(138.39,344.60) scale(1.0,1)" font-size="7.4" font-weight="bold" text-anchor="middle">1.0</text>
<text transform="translate(159.93,344.60) scale(1.0,1)" font-size="7.4" font-weight="bold" text-anchor="middle">1.2</text>
<text transform="translate(181.46,344.60) scale(1.0,1)" font-size="7.4" font-weight="bold" text-anchor="middle">1.4</text>
<text transform="translate(203.00,344.60) scale(1.0,1)" font-size="7.4" font-weight="bold" text-anchor="middle">1.6</text>
<text x="118.0" y="353.3" font-size="8.9" font-weight="bold" text-anchor="middle">strain</text>
<text transform="translate(17.8,263.4) rotate(-90)" x="0" y="2.97" font-size="9.0" font-weight="bold" text-anchor="middle">stress (MPa)</text>
<text transform="translate(32.80,206.50) scale(1.02,1)" font-size="9.0">model data</text>
<text transform="translate(91.00,206.50) scale(1.02,1)" font-size="9.0">test data</text>
<line x1="32.5" y1="214.30" x2="53.4" y2="214.30" stroke="#3c3c3c" stroke-width="1"/>
<text transform="translate(55.40,217.67) scale(1.02,1)" font-size="9.0">293K</text>
<rect x="88.64" y="212.34" width="3.92" height="3.92" fill="#333333"/>
<text transform="translate(102.80,217.67) scale(1.02,1)" font-size="9.0">293K</text>
<line x1="32.5" y1="225.65" x2="53.4" y2="225.65" stroke="#ff4a4a" stroke-width="1" stroke-dasharray="3.2 3.1"/>
<text transform="translate(55.40,229.02) scale(1.02,1)" font-size="9.0">313K</text>
<circle cx="90.60" cy="225.65" r="2.46" fill="#f02a35"/>
<text transform="translate(102.80,229.02) scale(1.02,1)" font-size="9.0">313K</text>
<line x1="32.5" y1="237.00" x2="53.4" y2="237.00" stroke="#3f86f5" stroke-width="1" stroke-dasharray="1.3 2.6"/>
<text transform="translate(55.40,240.37) scale(1.02,1)" font-size="9.0">333K</text>
<path d="M90.60 234.54L93.40 239.22L87.80 239.22Z" fill="#1a5ae0"/>
<text transform="translate(102.80,240.37) scale(1.02,1)" font-size="9.0">333K</text>
<line x1="32.5" y1="248.35" x2="53.4" y2="248.35" stroke="#2fa86c" stroke-width="1" stroke-dasharray="3.6 1.6 1.0 1.6"/>
<text transform="translate(55.40,251.72) scale(1.02,1)" font-size="9.0">353K</text>
<path d="M90.60 250.81L93.40 246.13L87.80 246.13Z" fill="#1e965a"/>
<text transform="translate(102.80,251.72) scale(1.02,1)" font-size="9.0">353K</text>
<line x1="32.5" y1="259.70" x2="53.4" y2="259.70" stroke="#9f55f0" stroke-width="1" stroke-dasharray="3 1.4 1 1.4 1 1.4"/>
<text transform="translate(55.40,263.07) scale(1.02,1)" font-size="9.0">363K</text>
<path d="M90.60 256.79L93.51 259.70L90.60 262.61L87.69 259.70Z" fill="#a564e1"/>
<text transform="translate(102.80,263.07) scale(1.02,1)" font-size="9.0">363K</text>
<line x1="32.5" y1="271.05" x2="53.4" y2="271.05" stroke="#e0a018" stroke-width="1" stroke-dasharray="1.3 1.7"/>
<text transform="translate(55.40,274.42) scale(1.02,1)" font-size="9.0">383K</text>
<path d="M88.25 271.05L92.95 268.36L92.95 273.74Z" fill="#c88c19"/>
<text transform="translate(102.80,274.42) scale(1.02,1)" font-size="9.0">383K</text>
<text x="127.0" y="209.7" font-size="9.0" font-weight="bold">C40 rubber</text>
<text x="164.7" y="322.1" font-size="9.0" font-weight="bold">b(1)</text>
<rect x="123.4" y="268.5" width="39.79999999999998" height="28.399999999999977" fill="none" stroke="#ee1c24" stroke-width="1.2"/>
<rect x="234.0" y="197.3" width="172.10000000000002" height="137.89999999999998" fill="#fff"/>
<clipPath id="clip_b2"><rect x="234.0" y="197.3" width="172.10000000000002" height="137.89999999999998"/></clipPath>
<g clip-path="url(#clip_b2)" fill="none">
<polyline points="225.39,323.55 226.99,323.04 228.58,322.52 230.17,322.00 231.76,321.47 233.35,320.93 234.94,320.39 236.53,319.84 238.12,319.29 239.71,318.73 241.30,318.16 242.89,317.59 244.49,317.01 246.08,316.43 247.67,315.83 249.26,315.24 250.85,314.64 252.44,314.03 254.03,313.41 255.62,312.79 257.21,312.16 258.80,311.53 260.39,310.89 261.98,310.25 263.58,309.60 265.17,308.94 266.76,308.28 268.35,307.61 269.94,306.93 271.53,306.25 273.12,305.56 274.71,304.87 276.30,304.17 277.89,303.47 279.48,302.76 281.07,302.04 282.67,301.32 284.26,300.59 285.85,299.86 287.44,299.12 289.03,298.37 290.62,297.62 292.21,296.86 293.80,296.09 295.39,295.32 296.98,294.55 298.57,293.77 300.16,292.98 301.76,292.18 303.35,291.39 304.94,290.58 306.53,289.77 308.12,288.95 309.71,288.13 311.30,287.30 312.89,286.46 314.48,285.62 316.07,284.78 317.66,283.93 319.25,283.07 320.85,282.20 322.44,281.33 324.03,280.46 325.62,279.58 327.21,278.69 328.80,277.79 330.39,276.90 331.98,275.99 333.57,275.08 335.16,274.16 336.75,273.24 338.34,272.31 339.94,271.38 341.53,270.44 343.12,269.49 344.71,268.54 346.30,267.59 347.89,266.62 349.48,265.65 351.07,264.68 352.66,263.70 354.25,262.71 355.84,261.72 357.43,260.73 359.03,259.72 360.62,258.71 362.21,257.70 363.80,256.68 365.39,255.65 366.98,254.62 368.57,253.58 370.16,252.54 371.75,251.49 373.34,250.44 374.93,249.38 376.52,248.31 378.12,247.24 379.71,246.16 381.30,245.08 382.89,243.99 384.48,242.89 386.07,241.79 387.66,240.69 389.25,239.58 390.84,238.46 392.43,237.34 394.02,236.21 395.61,235.08 397.21,233.94 398.80,232.79 400.39,231.64 401.98,230.48 403.57,229.32 405.16,228.15 406.75,226.98 408.34,225.80 409.93,224.62 411.52,223.43 413.11,222.23 414.71,221.03" stroke="#3c3c3c" stroke-width="1.0"/>
<polyline points="225.39,344.80 226.99,344.29 228.58,343.77 230.17,343.26 231.76,342.74 233.35,342.22 234.94,341.70 236.53,341.18 238.12,340.66 239.71,340.14 241.30,339.61 242.89,339.09 244.49,338.56 246.08,338.03 247.67,337.51 249.26,336.98 250.85,336.45 252.44,335.91 254.03,335.38 255.62,334.85 257.21,334.31 258.80,333.78 260.39,333.24 261.98,332.70 263.58,332.16 265.17,331.62 266.76,331.07 268.35,330.53 269.94,329.99 271.53,329.44 273.12,328.89 274.71,328.34 276.30,327.79 277.89,327.24 279.48,326.69 281.07,326.13 282.67,325.58 284.26,325.02 285.85,324.46 287.44,323.90 289.03,323.34 290.62,322.78 292.21,322.21 293.80,321.65 295.39,321.08 296.98,320.51 298.57,319.95 300.16,319.37 301.76,318.80 303.35,318.23 304.94,317.65 306.53,317.08 308.12,316.50 309.71,315.92 311.30,315.34 312.89,314.75 314.48,314.17 316.07,313.58 317.66,313.00 319.25,312.41 320.85,311.82 322.44,311.23 324.03,310.63 325.62,310.04 327.21,309.44 328.80,308.84 330.39,308.24 331.98,307.64 333.57,307.04 335.16,306.43 336.75,305.83 338.34,305.22 339.94,304.61 341.53,304.00 343.12,303.38 344.71,302.77 346.30,302.15 347.89,301.53 349.48,300.91 351.07,300.29 352.66,299.67 354.25,299.04 355.84,298.42 357.43,297.79 359.03,297.16 360.62,296.53 362.21,295.89 363.80,295.26 365.39,294.62 366.98,293.98 368.57,293.34 370.16,292.70 371.75,292.05 373.34,291.41 374.93,290.76 376.52,290.11 378.12,289.46 379.71,288.80 381.30,288.15 382.89,287.49 384.48,286.83 386.07,286.17 387.66,285.50 389.25,284.84 390.84,284.17 392.43,283.50 394.02,282.83 395.61,282.16 397.21,281.48 398.80,280.80 400.39,280.13 401.98,279.44 403.57,278.76 405.16,278.08 406.75,277.39 408.34,276.70 409.93,276.01 411.52,275.31 413.11,274.62 414.71,273.92" stroke="#ff4a4a" stroke-width="1.1" stroke-dasharray="3.2 3.1"/>
<polyline points="225.39,336.94 226.99,337.35 228.58,337.73 230.17,338.09 231.76,338.42 233.35,338.72 234.94,339.00 236.53,339.25 238.12,339.48 239.71,339.69 241.30,339.87 242.89,340.03 244.49,340.17 246.08,340.28 247.67,340.37 249.26,340.44 250.85,340.49 252.44,340.51 254.03,340.52 255.62,340.50 257.21,340.46 258.80,340.41 260.39,340.33 261.98,340.23 263.58,340.12 265.17,339.98 266.76,339.83 268.35,339.66 269.94,339.47 271.53,339.26 273.12,339.04 274.71,338.80 276.30,338.54 277.89,338.27 279.48,337.98 281.07,337.67 282.67,337.35 284.26,337.02 285.85,336.67 287.44,336.30 289.03,335.92 290.62,335.53 292.21,335.13 293.80,334.71 295.39,334.28 296.98,333.84 298.57,333.38 300.16,332.91 301.76,332.44 303.35,331.95 304.94,331.45 306.53,330.94 308.12,330.42 309.71,329.89 311.30,329.35 312.89,328.80 314.48,328.25 316.07,327.68 317.66,327.11 319.25,326.53 320.85,325.94 322.44,325.34 324.03,324.74 325.62,324.13 327.21,323.52 328.80,322.90 330.39,322.27 331.98,321.64 333.57,321.00 335.16,320.36 336.75,319.72 338.34,319.07 339.94,318.42 341.53,317.76 343.12,317.11 344.71,316.45 346.30,315.78 347.89,315.12 349.48,314.45 351.07,313.79 352.66,313.12 354.25,312.45 355.84,311.78 357.43,311.11 359.03,310.44 360.62,309.78 362.21,309.11 363.80,308.45 365.39,307.78 366.98,307.12 368.57,306.46 370.16,305.81 371.75,305.15 373.34,304.50 374.93,303.86 376.52,303.22 378.12,302.58 379.71,301.94 381.30,301.32 382.89,300.69 384.48,300.08 386.07,299.47 387.66,298.86 389.25,298.26 390.84,297.67 392.43,297.09 394.02,296.51 395.61,295.94 397.21,295.38 398.80,294.83 400.39,294.29 401.98,293.76 403.57,293.23 405.16,292.72 406.75,292.22 408.34,291.72 409.93,291.24 411.52,290.77 413.11,290.31 414.71,289.86" stroke="#3f86f5" stroke-width="1.1" stroke-dasharray="1.3 2.6"/>
<polyline points="225.39,334.46 226.99,334.96 228.58,335.42 230.17,335.86 231.76,336.27 233.35,336.66 234.94,337.02 236.53,337.36 238.12,337.66 239.71,337.95 241.30,338.21 242.89,338.44 244.49,338.66 246.08,338.84 247.67,339.01 249.26,339.15 250.85,339.27 252.44,339.36 254.03,339.43 255.62,339.49 257.21,339.52 258.80,339.53 260.39,339.51 261.98,339.48 263.58,339.43 265.17,339.36 266.76,339.26 268.35,339.15 269.94,339.02 271.53,338.87 273.12,338.71 274.71,338.52 276.30,338.32 277.89,338.10 279.48,337.86 281.07,337.61 282.67,337.34 284.26,337.06 285.85,336.75 287.44,336.44 289.03,336.11 290.62,335.76 292.21,335.40 293.80,335.02 295.39,334.64 296.98,334.23 298.57,333.82 300.16,333.39 301.76,332.95 303.35,332.50 304.94,332.04 306.53,331.56 308.12,331.07 309.71,330.58 311.30,330.07 312.89,329.55 314.48,329.02 316.07,328.48 317.66,327.94 319.25,327.38 320.85,326.82 322.44,326.25 324.03,325.67 325.62,325.08 327.21,324.48 328.80,323.88 330.39,323.27 331.98,322.66 333.57,322.04 335.16,321.41 336.75,320.78 338.34,320.15 339.94,319.50 341.53,318.86 343.12,318.21 344.71,317.56 346.30,316.90 347.89,316.24 349.48,315.58 351.07,314.91 352.66,314.25 354.25,313.58 355.84,312.91 357.43,312.24 359.03,311.57 360.62,310.89 362.21,310.22 363.80,309.55 365.39,308.88 366.98,308.21 368.57,307.54 370.16,306.87 371.75,306.20 373.34,305.54 374.93,304.88 376.52,304.22 378.12,303.56 379.71,302.91 381.30,302.26 382.89,301.62 384.48,300.98 386.07,300.34 387.66,299.71 389.25,299.09 390.84,298.47 392.43,297.85 394.02,297.25 395.61,296.65 397.21,296.05 398.80,295.47 400.39,294.89 401.98,294.32 403.57,293.76 405.16,293.21 406.75,292.66 408.34,292.13 409.93,291.60 411.52,291.09 413.11,290.58 414.71,290.08" stroke="#2fa86c" stroke-width="1.1" stroke-dasharray="3.6 1.6 1.0 1.6"/>
<polyline points="225.39,349.74 226.99,349.15 228.58,348.55 230.17,347.97 231.76,347.38 233.35,346.80 234.94,346.22 236.53,345.64 238.12,345.07 239.71,344.50 241.30,343.93 242.89,343.37 244.49,342.81 246.08,342.25 247.67,341.70 249.26,341.14 250.85,340.59 252.44,340.05 254.03,339.50 255.62,338.96 257.21,338.42 258.80,337.89 260.39,337.35 261.98,336.82 263.58,336.29 265.17,335.77 266.76,335.24 268.35,334.72 269.94,334.20 271.53,333.68 273.12,333.16 274.71,332.65 276.30,332.13 277.89,331.62 279.48,331.11 281.07,330.60 282.67,330.10 284.26,329.59 285.85,329.09 287.44,328.59 289.03,328.08 290.62,327.59 292.21,327.09 293.80,326.59 295.39,326.09 296.98,325.60 298.57,325.10 300.16,324.61 301.76,324.12 303.35,323.63 304.94,323.13 306.53,322.64 308.12,322.15 309.71,321.66 311.30,321.18 312.89,320.69 314.48,320.20 316.07,319.71 317.66,319.22 319.25,318.74 320.85,318.25 322.44,317.76 324.03,317.27 325.62,316.79 327.21,316.30 328.80,315.81 330.39,315.32 331.98,314.84 333.57,314.35 335.16,313.86 336.75,313.37 338.34,312.88 339.94,312.39 341.53,311.90 343.12,311.41 344.71,310.91 346.30,310.42 347.89,309.93 349.48,309.43 351.07,308.93 352.66,308.44 354.25,307.94 355.84,307.44 357.43,306.94 359.03,306.43 360.62,305.93 362.21,305.43 363.80,304.92 365.39,304.41 366.98,303.90 368.57,303.39 370.16,302.88 371.75,302.36 373.34,301.84 374.93,301.33 376.52,300.81 378.12,300.28 379.71,299.76 381.30,299.23 382.89,298.70 384.48,298.17 386.07,297.64 387.66,297.10 389.25,296.56 390.84,296.02 392.43,295.48 394.02,294.93 395.61,294.38 397.21,293.83 398.80,293.27 400.39,292.72 401.98,292.16 403.57,291.59 405.16,291.03 406.75,290.46 408.34,289.88 409.93,289.31 411.52,288.73 413.11,288.15 414.71,287.56" stroke="#9f55f0" stroke-width="1.1" stroke-dasharray="3 1.4 1 1.4 1 1.4"/>
<polyline points="225.39,332.51 226.99,332.14 228.58,331.77 230.17,331.40 231.76,331.03 233.35,330.65 234.94,330.27 236.53,329.89 238.12,329.51 239.71,329.12 241.30,328.73 242.89,328.34 244.49,327.95 246.08,327.55 247.67,327.15 249.26,326.75 250.85,326.35 252.44,325.94 254.03,325.53 255.62,325.12 257.21,324.71 258.80,324.29 260.39,323.87 261.98,323.45 263.58,323.03 265.17,322.60 266.76,322.17 268.35,321.74 269.94,321.31 271.53,320.87 273.12,320.43 274.71,319.99 276.30,319.55 277.89,319.10 279.48,318.65 281.07,318.20 282.67,317.75 284.26,317.29 285.85,316.83 287.44,316.37 289.03,315.90 290.62,315.44 292.21,314.97 293.80,314.50 295.39,314.02 296.98,313.54 298.57,313.06 300.16,312.58 301.76,312.10 303.35,311.61 304.94,311.12 306.53,310.63 308.12,310.13 309.71,309.64 311.30,309.14 312.89,308.63 314.48,308.13 316.07,307.62 317.66,307.11 319.25,306.60 320.85,306.08 322.44,305.57 324.03,305.05 325.62,304.52 327.21,304.00 328.80,303.47 330.39,302.94 331.98,302.41 333.57,301.87 335.16,301.33 336.75,300.79 338.34,300.25 339.94,299.70 341.53,299.16 343.12,298.60 344.71,298.05 346.30,297.50 347.89,296.94 349.48,296.38 351.07,295.81 352.66,295.25 354.25,294.68 355.84,294.11 357.43,293.53 359.03,292.95 360.62,292.38 362.21,291.79 363.80,291.21 365.39,290.62 366.98,290.03 368.57,289.44 370.16,288.85 371.75,288.25 373.34,287.65 374.93,287.05 376.52,286.44 378.12,285.84 379.71,285.23 381.30,284.61 382.89,284.00 384.48,283.38 386.07,282.76 387.66,282.14 389.25,281.51 390.84,280.88 392.43,280.25 394.02,279.62 395.61,278.98 397.21,278.34 398.80,277.70 400.39,277.06 401.98,276.41 403.57,275.76 405.16,275.11 406.75,274.46 408.34,273.80 409.93,273.14 411.52,272.48 413.11,271.82 414.71,271.15" stroke="#e0a018" stroke-width="1.1" stroke-dasharray="1.3 1.7"/>
</g>
<rect x="250.04" y="318.07" width="3.92" height="3.92" fill="#333333"/>
<rect x="280.12" y="308.28" width="3.92" height="3.92" fill="#333333"/>
<rect x="310.20" y="296.77" width="3.92" height="3.92" fill="#333333"/>
<rect x="340.28" y="282.84" width="3.92" height="3.92" fill="#333333"/>
<rect x="370.36" y="266.91" width="3.92" height="3.92" fill="#333333"/>
<rect x="400.44" y="247.54" width="3.92" height="3.92" fill="#333333"/>
<circle cx="254.00" cy="334.10" r="2.46" fill="#f02a35"/>
<circle cx="284.08" cy="324.31" r="2.46" fill="#f02a35"/>
<circle cx="314.16" cy="313.96" r="2.46" fill="#f02a35"/>
<circle cx="344.24" cy="302.59" r="2.46" fill="#f02a35"/>
<circle cx="374.32" cy="287.76" r="2.46" fill="#f02a35"/>
<circle cx="404.40" cy="269.35" r="2.46" fill="#f02a35"/>
<path d="M282.08 326.67L284.88 331.35L279.28 331.35Z" fill="#1a5ae0"/>
<path d="M312.16 316.39L314.96 321.08L309.36 321.08Z" fill="#1a5ae0"/>
<path d="M342.24 306.12L345.04 310.80L339.44 310.80Z" fill="#1a5ae0"/>
<path d="M372.32 293.50L375.12 298.19L369.52 298.19Z" fill="#1a5ae0"/>
<path d="M402.40 280.68L405.20 285.36L399.60 285.36Z" fill="#1a5ae0"/>
<path d="M312.16 333.39L314.96 328.71L309.36 328.71Z" fill="#1e965a"/>
<path d="M342.24 324.22L345.04 319.54L339.44 319.54Z" fill="#1e965a"/>
<path d="M372.32 315.39L375.12 310.71L369.52 310.71Z" fill="#1e965a"/>
<path d="M402.40 304.29L405.20 299.61L399.60 299.61Z" fill="#1e965a"/>
<path d="M282.08 328.50L284.99 331.41L282.08 334.32L279.17 331.41Z" fill="#a564e1"/>
<path d="M312.16 320.77L315.07 323.69L312.16 326.60L309.25 323.69Z" fill="#a564e1"/>
<path d="M342.24 312.29L345.15 315.20L342.24 318.12L339.33 315.20Z" fill="#a564e1"/>
<path d="M372.32 302.78L375.23 305.69L372.32 308.60L369.41 305.69Z" fill="#a564e1"/>
<path d="M402.40 292.37L405.31 295.28L402.40 298.19L399.49 295.28Z" fill="#a564e1"/>
<path d="M249.65 328.31L254.35 325.62L254.35 330.99Z" fill="#c88c19"/>
<path d="M279.73 318.31L284.43 315.62L284.43 321.00Z" fill="#c88c19"/>
<path d="M309.81 307.14L314.51 304.45L314.51 309.83Z" fill="#c88c19"/>
<path d="M339.89 297.42L344.59 294.73L344.59 300.10Z" fill="#c88c19"/>
<path d="M369.97 286.45L374.67 283.76L374.67 289.14Z" fill="#c88c19"/>
<path d="M400.05 275.35L404.75 272.66L404.75 278.04Z" fill="#c88c19"/>
<rect x="234.0" y="197.3" width="172.10000000000002" height="137.89999999999998" fill="none" stroke="#444444" stroke-width="1.1"/>
<path d="M234.0 335.20h3 M234.0 307.62h3 M234.0 280.04h3 M234.0 252.46h3 M234.0 224.88h3 M234.0 197.30h3 M234.0 321.41h1.8 M234.0 293.83h1.8 M234.0 266.25h1.8 M234.0 238.67h1.8 M234.0 211.09h1.8 M234.00 335.2v-3 M320.05 335.2v-3 M406.10 335.2v-3 M277.02 335.2v-1.8 M363.08 335.2v-1.8" stroke="#444444" stroke-width="1"/>
<text transform="translate(231.00,337.26) scale(1.0,1)" font-size="7.4" font-weight="bold" text-anchor="end">1.4</text>
<text transform="translate(231.00,309.68) scale(1.0,1)" font-size="7.4" font-weight="bold" text-anchor="end">1.8</text>
<text transform="translate(231.00,282.10) scale(1.0,1)" font-size="7.4" font-weight="bold" text-anchor="end">2.2</text>
<text transform="translate(231.00,254.52) scale(1.0,1)" font-size="7.4" font-weight="bold" text-anchor="end">2.6</text>
<text transform="translate(231.00,226.94) scale(1.0,1)" font-size="7.4" font-weight="bold" text-anchor="end">3.0</text>
<text transform="translate(231.00,199.36) scale(1.0,1)" font-size="7.4" font-weight="bold" text-anchor="end">3.4</text>
<text transform="translate(234.00,344.60) scale(1.0,1)" font-size="7.4" font-weight="bold" text-anchor="middle">0.8</text>
<text transform="translate(320.05,344.60) scale(1.0,1)" font-size="7.4" font-weight="bold" text-anchor="middle">1.0</text>
<text transform="translate(406.10,344.60) scale(1.0,1)" font-size="7.4" font-weight="bold" text-anchor="middle">1.2</text>
<text x="321.0" y="353.3" font-size="8.9" font-weight="bold" text-anchor="middle">strain</text>
<text transform="translate(215.0,263.3) rotate(-90)" x="0" y="2.97" font-size="9.0" font-weight="bold" text-anchor="middle">stress (MPa)</text>
<text transform="translate(235.30,205.60) scale(1.02,1)" font-size="9.0">model data</text>
<text transform="translate(294.20,205.60) scale(1.02,1)" font-size="9.0">test data</text>
<line x1="235.4" y1="213.60" x2="256.1" y2="213.60" stroke="#3c3c3c" stroke-width="1"/>
<text transform="translate(258.30,216.97) scale(1.02,1)" font-size="9.0">293K</text>
<rect x="291.54" y="211.64" width="3.92" height="3.92" fill="#333333"/>
<text transform="translate(306.60,216.97) scale(1.02,1)" font-size="9.0">293K</text>
<line x1="235.4" y1="224.90" x2="256.1" y2="224.90" stroke="#ff4a4a" stroke-width="1" stroke-dasharray="3.2 3.1"/>
<text transform="translate(258.30,228.27) scale(1.02,1)" font-size="9.0">313K</text>
<circle cx="293.50" cy="224.90" r="2.46" fill="#f02a35"/>
<text transform="translate(306.60,228.27) scale(1.02,1)" font-size="9.0">313K</text>
<line x1="235.4" y1="236.20" x2="256.1" y2="236.20" stroke="#3f86f5" stroke-width="1" stroke-dasharray="1.3 2.6"/>
<text transform="translate(258.30,239.57) scale(1.02,1)" font-size="9.0">333K</text>
<path d="M293.50 233.74L296.30 238.42L290.70 238.42Z" fill="#1a5ae0"/>
<text transform="translate(306.60,239.57) scale(1.02,1)" font-size="9.0">333K</text>
<line x1="235.4" y1="247.50" x2="256.1" y2="247.50" stroke="#2fa86c" stroke-width="1" stroke-dasharray="3.6 1.6 1.0 1.6"/>
<text transform="translate(258.30,250.87) scale(1.02,1)" font-size="9.0">353K</text>
<path d="M293.50 249.96L296.30 245.28L290.70 245.28Z" fill="#1e965a"/>
<text transform="translate(306.60,250.87) scale(1.02,1)" font-size="9.0">353K</text>
<line x1="235.4" y1="258.80" x2="256.1" y2="258.80" stroke="#9f55f0" stroke-width="1" stroke-dasharray="3 1.4 1 1.4 1 1.4"/>
<text transform="translate(258.30,262.17) scale(1.02,1)" font-size="9.0">363K</text>
<path d="M293.50 255.89L296.41 258.80L293.50 261.71L290.59 258.80Z" fill="#a564e1"/>
<text transform="translate(306.60,262.17) scale(1.02,1)" font-size="9.0">363K</text>
<line x1="235.4" y1="270.10" x2="256.1" y2="270.10" stroke="#e0a018" stroke-width="1" stroke-dasharray="1.3 1.7"/>
<text transform="translate(258.30,273.47) scale(1.02,1)" font-size="9.0">383K</text>
<path d="M291.15 270.10L295.85 267.41L295.85 272.79Z" fill="#c88c19"/>
<text transform="translate(306.60,273.47) scale(1.02,1)" font-size="9.0">383K</text>
<text x="329.0" y="208.2" font-size="9.0" font-weight="bold">C40 rubber</text>
<text x="329.0" y="219.5" font-size="9.0" font-weight="bold">closed-up view</text>
<text x="370.1" y="323.6" font-size="9.0" font-weight="bold">b(2)</text>
<rect x="31.3" y="382.2" width="172.0" height="137.50000000000006" fill="#fff"/>
<clipPath id="clip_c1"><rect x="31.3" y="382.2" width="172.0" height="137.50000000000006"/></clipPath>
<g clip-path="url(#clip_c1)" fill="none">
<polyline points="31.30,519.70 32.11,519.00 32.92,518.32 33.73,517.67 34.54,517.04 35.35,516.43 36.16,515.85 36.97,515.31 37.78,514.79 38.59,514.31 39.40,513.86 40.21,513.43 41.02,513.04 41.83,512.66 42.64,512.30 43.45,511.95 44.26,511.61 45.08,511.28 45.89,510.94 46.70,510.61 47.51,510.28 48.32,509.95 49.13,509.63 49.94,509.31 50.75,508.99 51.56,508.68 52.37,508.37 53.18,508.07 53.99,507.77 54.80,507.47 55.61,507.17 56.42,506.88 57.23,506.59 58.04,506.30 58.85,506.01 59.66,505.72 60.47,505.43 61.28,505.14 62.09,504.85 62.90,504.56 63.71,504.28 64.52,503.99 65.33,503.71 66.14,503.43 66.95,503.15 67.76,502.88 68.57,502.60 69.38,502.32 70.19,502.05 71.00,501.78 71.82,501.51 72.63,501.24 73.44,500.97 74.25,500.70 75.06,500.43 75.87,500.16 76.68,499.89 77.49,499.62 78.30,499.36 79.11,499.10 79.92,498.84 80.73,498.58 81.54,498.33 82.35,498.08 83.16,497.82 83.97,497.57 84.78,497.31 85.59,497.06 86.40,496.80 87.21,496.54 88.02,496.28 88.83,496.01 89.64,495.74 90.45,495.47 91.26,495.19 92.07,494.91 92.88,494.62 93.69,494.33 94.50,494.04 95.31,493.74 96.12,493.44 96.93,493.14 97.74,492.84 98.56,492.53 99.37,492.22 100.18,491.91 100.99,491.59 101.80,491.27 102.61,490.95 103.42,490.62 104.23,490.30 105.04,489.96 105.85,489.63 106.66,489.29 107.47,488.95 108.28,488.61 109.09,488.26 109.90,487.91 110.71,487.55 111.52,487.19 112.33,486.83 113.14,486.46 113.95,486.09 114.76,485.71 115.57,485.33 116.38,484.94 117.19,484.54 118.00,484.14 118.81,483.73 119.62,483.31 120.43,482.88 121.24,482.45 122.05,482.01 122.86,481.57 123.67,481.12 124.48,480.66 125.29,480.19 126.11,479.72 126.92,479.24 127.73,478.75 128.54,478.25 129.35,477.75 130.16,477.25 130.97,476.73 131.78,476.21 132.59,475.68 133.40,475.15 134.21,474.61 135.02,474.07 135.83,473.52 136.64,472.96 137.45,472.39 138.26,471.81 139.07,471.23 139.88,470.63 140.69,470.02 141.50,469.39 142.31,468.76 143.12,468.10 143.93,467.44 144.74,466.75 145.55,466.05 146.36,465.33 147.17,464.58 147.98,463.82 148.79,463.03 149.60,462.22 150.41,461.40 151.22,460.55 152.03,459.68 152.85,458.80 153.66,457.89 154.47,456.97 155.28,456.03 156.09,455.08 156.90,454.11 157.71,453.12 158.52,452.12 159.33,451.10 160.14,450.05 160.95,448.99 161.76,447.89 162.57,446.77 163.38,445.63 164.19,444.46 165.00,443.27 165.81,442.05 166.62,440.81 167.43,439.55 168.24,438.27 169.05,436.97 169.86,435.64 170.67,434.30 171.48,432.94 172.29,431.55 173.10,430.15 173.91,428.72 174.72,427.26 175.53,425.78 176.34,424.26 177.15,422.71 177.96,421.13 178.77,419.52 179.59,417.86 180.40,416.17 181.21,414.44 182.02,412.67 182.83,410.85 183.64,408.99 184.45,407.06 185.26,405.04 186.07,402.94 186.88,400.76 187.69,398.53 188.50,396.26 189.31,393.94 190.12,391.60 190.93,389.25 191.74,386.89 192.55,384.54" stroke="#3c3c3c" stroke-width="1.0"/>
<polyline points="31.30,519.70 32.11,519.23 32.92,518.77 33.73,518.32 34.54,517.88 35.35,517.45 36.16,517.03 36.97,516.63 37.78,516.23 38.59,515.85 39.40,515.48 40.21,515.13 41.02,514.78 41.83,514.45 42.64,514.12 43.45,513.80 44.26,513.49 45.08,513.18 45.89,512.87 46.70,512.57 47.51,512.27 48.32,511.98 49.13,511.68 49.94,511.40 50.75,511.11 51.56,510.83 52.37,510.55 53.18,510.28 53.99,510.01 54.80,509.73 55.61,509.46 56.42,509.20 57.23,508.93 58.04,508.66 58.85,508.39 59.66,508.13 60.47,507.86 61.28,507.60 62.09,507.33 62.90,507.06 63.71,506.80 64.52,506.53 65.33,506.27 66.14,506.01 66.95,505.75 67.76,505.49 68.57,505.23 69.38,504.97 70.19,504.71 71.00,504.46 71.82,504.20 72.63,503.95 73.44,503.69 74.25,503.44 75.06,503.19 75.87,502.94 76.68,502.69 77.49,502.44 78.30,502.19 79.11,501.95 79.92,501.70 80.73,501.46 81.54,501.21 82.35,500.97 83.16,500.73 83.97,500.49 84.78,500.24 85.59,500.00 86.40,499.77 87.21,499.53 88.02,499.29 88.83,499.05 89.64,498.82 90.45,498.58 91.26,498.35 92.07,498.11 92.88,497.88 93.69,497.65 94.50,497.41 95.31,497.18 96.12,496.95 96.93,496.72 97.74,496.49 98.56,496.27 99.37,496.04 100.18,495.81 100.99,495.59 101.80,495.36 102.61,495.13 103.42,494.91 104.23,494.69 105.04,494.46 105.85,494.24 106.66,494.02 107.47,493.80 108.28,493.59 109.09,493.38 109.90,493.17 110.71,492.97 111.52,492.76 112.33,492.55 113.14,492.34 113.95,492.13 114.76,491.91 115.57,491.68 116.38,491.44 117.19,491.19 118.00,490.93 118.81,490.66 119.62,490.38 120.43,490.09 121.24,489.78 122.05,489.47 122.86,489.14 123.67,488.80 124.48,488.44 125.29,488.06 126.11,487.67 126.92,487.26 127.73,486.84 128.54,486.41 129.35,485.96 130.16,485.51 130.97,485.05 131.78,484.58 132.59,484.10 133.40,483.62 134.21,483.14 135.02,482.65 135.83,482.17 136.64,481.68 137.45,481.20 138.26,480.72 139.07,480.23 139.88,479.73 140.69,479.23 141.50,478.71 142.31,478.19 143.12,477.66 143.93,477.11 144.74,476.57 145.55,476.03 146.36,475.49 147.17,474.95 147.98,474.40 148.79,473.86 149.60,473.31 150.41,472.75 151.22,472.18 152.03,471.61 152.85,471.02 153.66,470.43 154.47,469.82 155.28,469.20 156.09,468.56 156.90,467.90 157.71,467.23 158.52,466.54 159.33,465.82 160.14,465.08 160.95,464.32 161.76,463.50 162.57,462.64 163.38,461.75 164.19,460.82 165.00,459.86 165.81,458.87 166.62,457.87 167.43,456.84 168.24,455.80 169.05,454.75 169.86,453.70 170.67,452.64 171.48,451.58 172.29,450.50 173.10,449.40 173.91,448.29 174.72,447.15 175.53,446.00 176.34,444.83 177.15,443.65 177.96,442.46 178.77,441.25 179.59,440.03 180.40,438.81 181.21,437.57 182.02,436.33 182.83,435.08 183.64,433.81 184.45,432.53 185.26,431.24 186.07,429.94 186.88,428.62 187.69,427.29 188.50,425.94 189.31,424.59 190.12,423.22 190.93,421.84 191.74,420.45 192.55,419.05" stroke="#ff4a4a" stroke-width="1.1" stroke-dasharray="3.2 3.1"/>
<polyline points="31.30,519.70 32.11,519.30 32.92,518.91 33.73,518.52 34.54,518.15 35.35,517.78 36.16,517.43 36.97,517.08 37.78,516.75 38.59,516.43 39.40,516.12 40.21,515.82 41.02,515.53 41.83,515.24 42.64,514.97 43.45,514.70 44.26,514.44 45.08,514.18 45.89,513.92 46.70,513.67 47.51,513.42 48.32,513.17 49.13,512.92 49.94,512.68 50.75,512.45 51.56,512.21 52.37,511.98 53.18,511.75 53.99,511.52 54.80,511.29 55.61,511.06 56.42,510.84 57.23,510.62 58.04,510.39 58.85,510.17 59.66,509.95 60.47,509.73 61.28,509.51 62.09,509.29 62.90,509.07 63.71,508.86 64.52,508.64 65.33,508.43 66.14,508.21 66.95,508.00 67.76,507.79 68.57,507.58 69.38,507.37 70.19,507.16 71.00,506.95 71.82,506.75 72.63,506.54 73.44,506.33 74.25,506.13 75.06,505.92 75.87,505.72 76.68,505.51 77.49,505.30 78.30,505.10 79.11,504.90 79.92,504.69 80.73,504.49 81.54,504.29 82.35,504.09 83.16,503.89 83.97,503.69 84.78,503.49 85.59,503.29 86.40,503.09 87.21,502.89 88.02,502.69 88.83,502.49 89.64,502.28 90.45,502.08 91.26,501.88 92.07,501.67 92.88,501.46 93.69,501.25 94.50,501.04 95.31,500.83 96.12,500.62 96.93,500.41 97.74,500.19 98.56,499.98 99.37,499.77 100.18,499.55 100.99,499.34 101.80,499.13 102.61,498.92 103.42,498.71 104.23,498.50 105.04,498.30 105.85,498.09 106.66,497.89 107.47,497.69 108.28,497.51 109.09,497.32 109.90,497.14 110.71,496.96 111.52,496.78 112.33,496.60 113.14,496.42 113.95,496.23 114.76,496.03 115.57,495.83 116.38,495.61 117.19,495.38 118.00,495.14 118.81,494.88 119.62,494.61 120.43,494.33 121.24,494.03 122.05,493.73 122.86,493.41 123.67,493.10 124.48,492.77 125.29,492.45 126.11,492.12 126.92,491.78 127.73,491.43 128.54,491.07 129.35,490.71 130.16,490.34 130.97,489.96 131.78,489.58 132.59,489.19 133.40,488.81 134.21,488.42 135.02,488.03 135.83,487.65 136.64,487.26 137.45,486.88 138.26,486.51 139.07,486.14 139.88,485.78 140.69,485.41 141.50,485.04 142.31,484.66 143.12,484.27 143.93,483.85 144.74,483.44 145.55,483.02 146.36,482.59 147.17,482.17 147.98,481.74 148.79,481.31 149.60,480.87 150.41,480.42 151.22,479.96 152.03,479.49 152.85,479.02 153.66,478.53 154.47,478.03 155.28,477.51 156.09,476.98 156.90,476.44 157.71,475.88 158.52,475.30 159.33,474.70 160.14,474.08 160.95,473.43 161.76,472.73 162.57,471.98 163.38,471.19 164.19,470.36 165.00,469.51 165.81,468.63 166.62,467.72 167.43,466.81 168.24,465.88 169.05,464.95 169.86,464.02 170.67,463.10 171.48,462.19 172.29,461.28 173.10,460.36 173.91,459.43 174.72,458.50 175.53,457.55 176.34,456.60 177.15,455.63 177.96,454.64 178.77,453.63 179.59,452.61 180.40,451.56 181.21,450.50 182.02,449.40 182.83,448.29 183.64,447.14 184.45,445.97 185.26,444.78 186.07,443.57 186.88,442.33 187.69,441.07 188.50,439.79 189.31,438.48 190.12,437.16 190.93,435.82 191.74,434.46 192.55,433.07" stroke="#3f86f5" stroke-width="1.1" stroke-dasharray="1.3 2.6"/>
<polyline points="31.30,519.70 32.11,519.31 32.92,518.92 33.73,518.54 34.54,518.18 35.35,517.82 36.16,517.47 36.97,517.14 37.78,516.81 38.59,516.50 39.40,516.20 40.21,515.91 41.02,515.63 41.83,515.36 42.64,515.09 43.45,514.84 44.26,514.58 45.08,514.33 45.89,514.09 46.70,513.85 47.51,513.60 48.32,513.37 49.13,513.13 49.94,512.90 50.75,512.68 51.56,512.45 52.37,512.23 53.18,512.01 53.99,511.79 54.80,511.57 55.61,511.36 56.42,511.14 57.23,510.93 58.04,510.72 58.85,510.50 59.66,510.29 60.47,510.08 61.28,509.87 62.09,509.65 62.90,509.44 63.71,509.23 64.52,509.02 65.33,508.81 66.14,508.60 66.95,508.40 67.76,508.19 68.57,507.98 69.38,507.78 70.19,507.57 71.00,507.37 71.82,507.16 72.63,506.96 73.44,506.76 74.25,506.55 75.06,506.35 75.87,506.15 76.68,505.95 77.49,505.74 78.30,505.54 79.11,505.34 79.92,505.14 80.73,504.95 81.54,504.75 82.35,504.55 83.16,504.35 83.97,504.15 84.78,503.96 85.59,503.76 86.40,503.56 87.21,503.36 88.02,503.16 88.83,502.97 89.64,502.77 90.45,502.57 91.26,502.36 92.07,502.16 92.88,501.96 93.69,501.75 94.50,501.55 95.31,501.34 96.12,501.13 96.93,500.92 97.74,500.72 98.56,500.51 99.37,500.30 100.18,500.09 100.99,499.88 101.80,499.68 102.61,499.47 103.42,499.26 104.23,499.06 105.04,498.85 105.85,498.65 106.66,498.44 107.47,498.24 108.28,498.05 109.09,497.86 109.90,497.67 110.71,497.48 111.52,497.29 112.33,497.10 113.14,496.90 113.95,496.71 114.76,496.51 115.57,496.30 116.38,496.09 117.19,495.87 118.00,495.64 118.81,495.40 119.62,495.16 120.43,494.91 121.24,494.66 122.05,494.40 122.86,494.14 123.67,493.87 124.48,493.60 125.29,493.32 126.11,493.04 126.92,492.76 127.73,492.47 128.54,492.18 129.35,491.88 130.16,491.58 130.97,491.28 131.78,490.96 132.59,490.64 133.40,490.32 134.21,489.99 135.02,489.66 135.83,489.32 136.64,488.98 137.45,488.63 138.26,488.28 139.07,487.93 139.88,487.56 140.69,487.19 141.50,486.82 142.31,486.43 143.12,486.04 143.93,485.65 144.74,485.25 145.55,484.85 146.36,484.45 147.17,484.05 147.98,483.64 148.79,483.24 149.60,482.82 150.41,482.41 151.22,481.99 152.03,481.57 152.85,481.14 153.66,480.70 154.47,480.26 155.28,479.80 156.09,479.34 156.90,478.88 157.71,478.40 158.52,477.91 159.33,477.41 160.14,476.90 160.95,476.38 161.76,475.83 162.57,475.26 163.38,474.68 164.19,474.08 165.00,473.46 165.81,472.84 166.62,472.20 167.43,471.55 168.24,470.91 169.05,470.25 169.86,469.60 170.67,468.95 171.48,468.30 172.29,467.65 173.10,467.00 173.91,466.35 174.72,465.69 175.53,465.02 176.34,464.35 177.15,463.67 177.96,462.98 178.77,462.28 179.59,461.57 180.40,460.84 181.21,460.10 182.02,459.35 182.83,458.57 183.64,457.78 184.45,456.98 185.26,456.16 186.07,455.33 186.88,454.49 187.69,453.63 188.50,452.75 189.31,451.87 190.12,450.97 190.93,450.06 191.74,449.13 192.55,448.20" stroke="#2fa86c" stroke-width="1.1" stroke-dasharray="3.6 1.6 1.0 1.6"/>
<polyline points="31.30,519.70 32.11,519.32 32.92,518.94 33.73,518.58 34.54,518.23 35.35,517.89 36.16,517.57 36.97,517.26 37.78,516.97 38.59,516.69 39.40,516.43 40.21,516.19 41.02,515.97 41.83,515.75 42.64,515.55 43.45,515.35 44.26,515.14 45.08,514.94 45.89,514.72 46.70,514.50 47.51,514.27 48.32,514.04 49.13,513.80 49.94,513.56 50.75,513.32 51.56,513.07 52.37,512.83 53.18,512.58 53.99,512.34 54.80,512.09 55.61,511.85 56.42,511.60 57.23,511.36 58.04,511.12 58.85,510.89 59.66,510.65 60.47,510.42 61.28,510.20 62.09,509.98 62.90,509.77 63.71,509.56 64.52,509.35 65.33,509.15 66.14,508.95 66.95,508.75 67.76,508.55 68.57,508.35 69.38,508.16 70.19,507.96 71.00,507.76 71.82,507.57 72.63,507.37 73.44,507.16 74.25,506.96 75.06,506.75 75.87,506.54 76.68,506.33 77.49,506.10 78.30,505.88 79.11,505.65 79.92,505.42 80.73,505.18 81.54,504.94 82.35,504.70 83.16,504.46 83.97,504.21 84.78,503.97 85.59,503.73 86.40,503.49 87.21,503.25 88.02,503.01 88.83,502.78 89.64,502.55 90.45,502.32 91.26,502.10 92.07,501.89 92.88,501.68 93.69,501.47 94.50,501.27 95.31,501.07 96.12,500.87 96.93,500.67 97.74,500.47 98.56,500.28 99.37,500.08 100.18,499.89 100.99,499.70 101.80,499.51 102.61,499.32 103.42,499.13 104.23,498.94 105.04,498.75 105.85,498.56 106.66,498.36 107.47,498.18 108.28,498.00 109.09,497.82 109.90,497.65 110.71,497.47 111.52,497.30 112.33,497.13 113.14,496.95 113.95,496.76 114.76,496.56 115.57,496.36 116.38,496.14 117.19,495.91 118.00,495.66 118.81,495.39 119.62,495.10 120.43,494.79 121.24,494.47 122.05,494.13 122.86,493.79 123.67,493.44 124.48,493.09 125.29,492.74 126.11,492.39 126.92,492.04 127.73,491.69 128.54,491.33 129.35,490.96 130.16,490.59 130.97,490.21 131.78,489.83 132.59,489.45 133.40,489.07 134.21,488.69 135.02,488.32 135.83,487.95 136.64,487.59 137.45,487.23 138.26,486.89 139.07,486.55 139.88,486.23 140.69,485.91 141.50,485.58 142.31,485.25 143.12,484.91 143.93,484.55 144.74,484.18 145.55,483.80 146.36,483.41 147.17,483.01 147.98,482.61 148.79,482.19 149.60,481.78 150.41,481.36 151.22,480.93 152.03,480.50 152.85,480.07 153.66,479.64 154.47,479.20 155.28,478.77 156.09,478.34 156.90,477.91 157.71,477.49 158.52,477.06 159.33,476.65 160.14,476.24 160.95,475.83 161.76,475.43 162.57,475.03 163.38,474.64 164.19,474.25 165.00,473.86 165.81,473.47 166.62,473.08 167.43,472.68 168.24,472.28 169.05,471.88 169.86,471.47 170.67,471.05 171.48,470.62 172.29,470.19 173.10,469.75 173.91,469.31 174.72,468.87 175.53,468.42 176.34,467.96 177.15,467.51 177.96,467.04 178.77,466.57 179.59,466.10 180.40,465.62 181.21,465.14 182.02,464.65 182.83,464.16 183.64,463.66 184.45,463.16 185.26,462.65 186.07,462.13 186.88,461.61 187.69,461.09 188.50,460.56 189.31,460.02 190.12,459.48 190.93,458.93 191.74,458.38 192.55,457.83" stroke="#9f55f0" stroke-width="1.1" stroke-dasharray="3 1.4 1 1.4 1 1.4"/>
<polyline points="31.30,519.70 32.11,519.23 32.92,518.78 33.73,518.33 34.54,517.90 35.35,517.48 36.16,517.08 36.97,516.69 37.78,516.31 38.59,515.95 39.40,515.61 40.21,515.29 41.02,514.98 41.83,514.68 42.64,514.40 43.45,514.11 44.26,513.83 45.08,513.55 45.89,513.27 46.70,512.98 47.51,512.69 48.32,512.39 49.13,512.10 49.94,511.80 50.75,511.50 51.56,511.21 52.37,510.91 53.18,510.62 53.99,510.32 54.80,510.03 55.61,509.74 56.42,509.45 57.23,509.16 58.04,508.88 58.85,508.60 59.66,508.32 60.47,508.05 61.28,507.78 62.09,507.52 62.90,507.26 63.71,507.01 64.52,506.75 65.33,506.51 66.14,506.26 66.95,506.01 67.76,505.77 68.57,505.53 69.38,505.29 70.19,505.06 71.00,504.82 71.82,504.58 72.63,504.34 73.44,504.11 74.25,503.87 75.06,503.63 75.87,503.39 76.68,503.14 77.49,502.90 78.30,502.65 79.11,502.41 79.92,502.17 80.73,501.92 81.54,501.67 82.35,501.43 83.16,501.18 83.97,500.94 84.78,500.69 85.59,500.45 86.40,500.21 87.21,499.96 88.02,499.72 88.83,499.48 89.64,499.23 90.45,498.99 91.26,498.75 92.07,498.51 92.88,498.27 93.69,498.03 94.50,497.79 95.31,497.56 96.12,497.32 96.93,497.08 97.74,496.85 98.56,496.61 99.37,496.37 100.18,496.14 100.99,495.90 101.80,495.67 102.61,495.43 103.42,495.20 104.23,494.96 105.04,494.72 105.85,494.49 106.66,494.25 107.47,494.02 108.28,493.79 109.09,493.56 109.90,493.34 110.71,493.11 111.52,492.88 112.33,492.65 113.14,492.42 113.95,492.19 114.76,491.95 115.57,491.70 116.38,491.45 117.19,491.19 118.00,490.92 118.81,490.65 119.62,490.36 120.43,490.07 121.24,489.78 122.05,489.48 122.86,489.17 123.67,488.86 124.48,488.55 125.29,488.23 126.11,487.91 126.92,487.58 127.73,487.26 128.54,486.93 129.35,486.60 130.16,486.27 130.97,485.94 131.78,485.61 132.59,485.28 133.40,484.95 134.21,484.62 135.02,484.30 135.83,483.98 136.64,483.66 137.45,483.34 138.26,483.03 139.07,482.74 139.88,482.45 140.69,482.15 141.50,481.86 142.31,481.54 143.12,481.20 143.93,480.84 144.74,480.44 145.55,480.03 146.36,479.59 147.17,479.13 147.98,478.65 148.79,478.16 149.60,477.65 150.41,477.12 151.22,476.59 152.03,476.04 152.85,475.49 153.66,474.92 154.47,474.35 155.28,473.78 156.09,473.20 156.90,472.63 157.71,472.05 158.52,471.48 159.33,470.91 160.14,470.34 160.95,469.78 161.76,469.20 162.57,468.62 163.38,468.04 164.19,467.44 165.00,466.84 165.81,466.24 166.62,465.64 167.43,465.03 168.24,464.42 169.05,463.80 169.86,463.19 170.67,462.58 171.48,461.97 172.29,461.37 173.10,460.76 173.91,460.16 174.72,459.55 175.53,458.94 176.34,458.33 177.15,457.71 177.96,457.09 178.77,456.47 179.59,455.84 180.40,455.20 181.21,454.55 182.02,453.90 182.83,453.23 183.64,452.56 184.45,451.88 185.26,451.20 186.07,450.51 186.88,449.81 187.69,449.11 188.50,448.40 189.31,447.69 190.12,446.96 190.93,446.24 191.74,445.50 192.55,444.76" stroke="#e0a018" stroke-width="1.1" stroke-dasharray="1.3 1.7"/>
</g>
<rect x="29.34" y="517.74" width="3.92" height="3.92" fill="#333333"/>
<rect x="36.90" y="511.97" width="3.92" height="3.92" fill="#333333"/>
<rect x="44.45" y="508.39" width="3.92" height="3.92" fill="#333333"/>
<rect x="52.01" y="505.50" width="3.92" height="3.92" fill="#333333"/>
<rect x="59.57" y="502.48" width="3.92" height="3.92" fill="#333333"/>
<rect x="67.13" y="499.73" width="3.92" height="3.92" fill="#333333"/>
<rect x="74.68" y="497.12" width="3.92" height="3.92" fill="#333333"/>
<rect x="82.24" y="494.64" width="3.92" height="3.92" fill="#333333"/>
<rect x="89.80" y="492.03" width="3.92" height="3.92" fill="#333333"/>
<rect x="97.36" y="489.28" width="3.92" height="3.92" fill="#333333"/>
<rect x="104.91" y="485.98" width="3.92" height="3.92" fill="#333333"/>
<rect x="112.47" y="483.09" width="3.92" height="3.92" fill="#333333"/>
<rect x="120.03" y="479.75" width="3.92" height="3.92" fill="#333333"/>
<rect x="127.58" y="476.55" width="3.92" height="3.92" fill="#333333"/>
<rect x="135.14" y="472.46" width="3.92" height="3.92" fill="#333333"/>
<rect x="142.70" y="467.31" width="3.92" height="3.92" fill="#333333"/>
<rect x="150.26" y="460.06" width="3.92" height="3.92" fill="#333333"/>
<rect x="157.81" y="450.78" width="3.92" height="3.92" fill="#333333"/>
<rect x="165.37" y="439.09" width="3.92" height="3.92" fill="#333333"/>
<rect x="172.93" y="428.09" width="3.92" height="3.92" fill="#333333"/>
<rect x="180.49" y="411.45" width="3.92" height="3.92" fill="#333333"/>
<rect x="188.04" y="389.87" width="3.92" height="3.92" fill="#333333"/>
<circle cx="31.30" cy="519.70" r="2.46" fill="#f02a35"/>
<circle cx="38.86" cy="515.71" r="2.46" fill="#f02a35"/>
<circle cx="46.41" cy="512.64" r="2.46" fill="#f02a35"/>
<circle cx="53.97" cy="509.98" r="2.46" fill="#f02a35"/>
<circle cx="61.53" cy="507.46" r="2.46" fill="#f02a35"/>
<circle cx="69.09" cy="504.99" r="2.46" fill="#f02a35"/>
<circle cx="76.64" cy="502.63" r="2.46" fill="#f02a35"/>
<circle cx="84.20" cy="500.35" r="2.46" fill="#f02a35"/>
<circle cx="91.76" cy="498.11" r="2.46" fill="#f02a35"/>
<circle cx="99.32" cy="495.96" r="2.46" fill="#f02a35"/>
<circle cx="106.87" cy="493.85" r="2.46" fill="#f02a35"/>
<circle cx="114.43" cy="491.84" r="2.46" fill="#f02a35"/>
<circle cx="121.99" cy="489.59" r="2.46" fill="#f02a35"/>
<circle cx="129.54" cy="486.43" r="2.46" fill="#f02a35"/>
<circle cx="137.10" cy="483.12" r="2.46" fill="#f02a35"/>
<circle cx="144.66" cy="478.63" r="2.46" fill="#f02a35"/>
<circle cx="152.22" cy="472.79" r="2.46" fill="#f02a35"/>
<circle cx="159.77" cy="465.10" r="2.46" fill="#f02a35"/>
<circle cx="167.33" cy="456.31" r="2.46" fill="#f02a35"/>
<circle cx="174.89" cy="446.83" r="2.46" fill="#f02a35"/>
<circle cx="182.45" cy="435.27" r="2.46" fill="#f02a35"/>
<circle cx="190.00" cy="419.74" r="2.46" fill="#f02a35"/>
<path d="M31.30 517.24L34.10 521.92L28.50 521.92Z" fill="#1a5ae0"/>
<path d="M38.86 513.80L41.66 518.48L36.06 518.48Z" fill="#1a5ae0"/>
<path d="M46.41 511.18L49.21 515.86L43.61 515.86Z" fill="#1a5ae0"/>
<path d="M53.97 508.92L56.77 513.60L51.17 513.60Z" fill="#1a5ae0"/>
<path d="M61.53 506.79L64.33 511.47L58.73 511.47Z" fill="#1a5ae0"/>
<path d="M69.09 504.73L71.89 509.41L66.29 509.41Z" fill="#1a5ae0"/>
<path d="M76.64 502.79L79.44 507.47L73.84 507.47Z" fill="#1a5ae0"/>
<path d="M84.20 500.88L87.00 505.57L81.40 505.57Z" fill="#1a5ae0"/>
<path d="M91.76 498.95L94.56 503.63L88.96 503.63Z" fill="#1a5ae0"/>
<path d="M99.32 496.95L102.12 501.63L96.52 501.63Z" fill="#1a5ae0"/>
<path d="M106.87 494.96L109.67 499.64L104.07 499.64Z" fill="#1a5ae0"/>
<path d="M114.43 493.15L117.23 497.83L111.63 497.83Z" fill="#1a5ae0"/>
<path d="M121.99 491.11L124.79 495.79L119.19 495.79Z" fill="#1a5ae0"/>
<path d="M129.54 488.09L132.34 492.77L126.74 492.77Z" fill="#1a5ae0"/>
<path d="M137.10 484.65L139.90 489.33L134.30 489.33Z" fill="#1a5ae0"/>
<path d="M144.66 480.77L147.46 485.45L141.86 485.45Z" fill="#1a5ae0"/>
<path d="M152.22 475.93L155.02 480.61L149.42 480.61Z" fill="#1a5ae0"/>
<path d="M159.77 469.72L162.57 474.40L156.97 474.40Z" fill="#1a5ae0"/>
<path d="M167.33 461.55L170.13 466.23L164.53 466.23Z" fill="#1a5ae0"/>
<path d="M174.89 454.81L177.69 459.49L172.09 459.49Z" fill="#1a5ae0"/>
<path d="M182.45 444.77L185.25 449.46L179.65 449.46Z" fill="#1a5ae0"/>
<path d="M190.00 432.54L192.80 437.22L187.20 437.22Z" fill="#1a5ae0"/>
<path d="M31.30 522.16L34.10 517.48L28.50 517.48Z" fill="#1e965a"/>
<path d="M38.86 518.86L41.66 514.18L36.06 514.18Z" fill="#1e965a"/>
<path d="M46.41 516.39L49.21 511.71L43.61 511.71Z" fill="#1e965a"/>
<path d="M53.97 514.28L56.77 509.59L51.17 509.59Z" fill="#1e965a"/>
<path d="M61.53 512.26L64.33 507.58L58.73 507.58Z" fill="#1e965a"/>
<path d="M69.09 510.29L71.89 505.61L66.29 505.61Z" fill="#1e965a"/>
<path d="M76.64 508.42L79.44 503.74L73.84 503.74Z" fill="#1e965a"/>
<path d="M84.20 506.57L87.00 501.89L81.40 501.89Z" fill="#1e965a"/>
<path d="M91.76 504.70L94.56 500.02L88.96 500.02Z" fill="#1e965a"/>
<path d="M99.32 502.78L102.12 498.10L96.52 498.10Z" fill="#1e965a"/>
<path d="M106.87 500.85L109.67 496.17L104.07 496.17Z" fill="#1e965a"/>
<path d="M114.43 499.02L117.23 494.34L111.63 494.34Z" fill="#1e965a"/>
<path d="M121.99 497.00L124.79 492.32L119.19 492.32Z" fill="#1e965a"/>
<path d="M129.54 494.25L132.34 489.57L126.74 489.57Z" fill="#1e965a"/>
<path d="M137.10 491.54L139.90 486.86L134.30 486.86Z" fill="#1e965a"/>
<path d="M144.66 488.61L147.46 483.93L141.86 483.93Z" fill="#1e965a"/>
<path d="M152.22 484.82L155.02 480.14L149.42 480.14Z" fill="#1e965a"/>
<path d="M159.77 480.13L162.57 475.45L156.97 475.45Z" fill="#1e965a"/>
<path d="M167.33 474.04L170.13 469.36L164.53 469.36Z" fill="#1e965a"/>
<path d="M174.89 468.81L177.69 464.13L172.09 464.13Z" fill="#1e965a"/>
<path d="M182.45 461.66L185.25 456.98L179.65 456.98Z" fill="#1e965a"/>
<path d="M190.00 452.73L192.80 448.04L187.20 448.04Z" fill="#1e965a"/>
<path d="M31.30 516.79L34.21 519.70L31.30 522.61L28.39 519.70Z" fill="#a564e1"/>
<path d="M38.86 513.76L41.77 516.68L38.86 519.59L35.95 516.68Z" fill="#a564e1"/>
<path d="M46.41 511.78L49.33 514.70L46.41 517.61L43.50 514.70Z" fill="#a564e1"/>
<path d="M53.97 509.91L56.88 512.83L53.97 515.74L51.06 512.83Z" fill="#a564e1"/>
<path d="M61.53 507.44L64.44 510.35L61.53 513.26L58.62 510.35Z" fill="#a564e1"/>
<path d="M69.09 505.65L72.00 508.56L69.09 511.47L66.17 508.56Z" fill="#a564e1"/>
<path d="M76.64 503.73L79.56 506.64L76.64 509.55L73.73 506.64Z" fill="#a564e1"/>
<path d="M84.20 501.80L87.11 504.71L84.20 507.62L81.29 504.71Z" fill="#a564e1"/>
<path d="M91.76 499.46L94.67 502.38L91.76 505.29L88.85 502.38Z" fill="#a564e1"/>
<path d="M99.32 497.61L102.23 500.52L99.32 503.43L96.40 500.52Z" fill="#a564e1"/>
<path d="M106.87 495.89L109.78 498.80L106.87 501.71L103.96 498.80Z" fill="#a564e1"/>
<path d="M114.43 494.18L117.34 497.09L114.43 500.01L111.52 497.09Z" fill="#a564e1"/>
<path d="M121.99 492.31L124.90 495.23L121.99 498.14L119.07 495.23Z" fill="#a564e1"/>
<path d="M129.54 489.84L132.46 492.75L129.54 495.66L126.63 492.75Z" fill="#a564e1"/>
<path d="M137.10 487.64L140.01 490.55L137.10 493.46L134.19 490.55Z" fill="#a564e1"/>
<path d="M144.66 485.01L147.57 487.92L144.66 490.84L141.75 487.92Z" fill="#a564e1"/>
<path d="M152.22 481.64L155.13 484.56L152.22 487.47L149.30 484.56Z" fill="#a564e1"/>
<path d="M159.77 478.27L162.69 481.19L159.77 484.10L156.86 481.19Z" fill="#a564e1"/>
<path d="M167.33 474.03L170.24 476.94L167.33 479.85L164.42 476.94Z" fill="#a564e1"/>
<path d="M174.89 469.63L177.80 472.54L174.89 475.45L171.98 472.54Z" fill="#a564e1"/>
<path d="M182.45 464.54L185.36 467.45L182.45 470.36L179.53 467.45Z" fill="#a564e1"/>
<path d="M190.00 456.84L192.91 459.75L190.00 462.66L187.09 459.75Z" fill="#a564e1"/>
<path d="M28.95 519.70L33.65 517.01L33.65 522.39Z" fill="#c88c19"/>
<path d="M36.51 515.85L41.21 513.16L41.21 518.54Z" fill="#c88c19"/>
<path d="M44.06 513.10L48.77 510.41L48.77 515.79Z" fill="#c88c19"/>
<path d="M51.62 510.35L56.32 507.66L56.32 513.04Z" fill="#c88c19"/>
<path d="M59.18 507.74L63.88 505.05L63.88 510.43Z" fill="#c88c19"/>
<path d="M66.73 505.54L71.44 502.85L71.44 508.23Z" fill="#c88c19"/>
<path d="M74.29 503.20L79.00 500.51L79.00 505.89Z" fill="#c88c19"/>
<path d="M81.85 500.86L86.55 498.17L86.55 503.55Z" fill="#c88c19"/>
<path d="M89.41 498.66L94.11 495.97L94.11 501.35Z" fill="#c88c19"/>
<path d="M96.96 496.47L101.67 493.78L101.67 499.16Z" fill="#c88c19"/>
<path d="M104.52 494.26L109.22 491.57L109.22 496.95Z" fill="#c88c19"/>
<path d="M112.08 492.09L116.78 489.41L116.78 494.78Z" fill="#c88c19"/>
<path d="M119.63 489.73L124.34 487.04L124.34 492.41Z" fill="#c88c19"/>
<path d="M127.19 486.70L131.90 484.01L131.90 489.39Z" fill="#c88c19"/>
<path d="M134.75 483.54L139.45 480.85L139.45 486.23Z" fill="#c88c19"/>
<path d="M142.31 480.16L147.01 477.47L147.01 482.84Z" fill="#c88c19"/>
<path d="M149.86 475.55L154.57 472.86L154.57 478.24Z" fill="#c88c19"/>
<path d="M157.42 470.67L162.13 467.98L162.13 473.36Z" fill="#c88c19"/>
<path d="M164.98 464.84L169.68 462.15L169.68 467.53Z" fill="#c88c19"/>
<path d="M172.54 459.75L177.24 457.06L177.24 462.44Z" fill="#c88c19"/>
<path d="M180.09 453.56L184.80 450.87L184.80 456.25Z" fill="#c88c19"/>
<path d="M187.65 446.83L192.35 444.14L192.35 449.51Z" fill="#c88c19"/>
<rect x="31.3" y="382.2" width="172.0" height="137.50000000000006" fill="none" stroke="#444444" stroke-width="1.1"/>
<path d="M31.3 519.70h3 M31.3 492.20h3 M31.3 464.70h3 M31.3 437.20h3 M31.3 409.70h3 M31.3 382.20h3 M31.3 505.95h1.8 M31.3 478.45h1.8 M31.3 450.95h1.8 M31.3 423.45h1.8 M31.3 395.95h1.8 M31.30 519.7v-3 M52.80 519.7v-3 M74.30 519.7v-3 M95.80 519.7v-3 M117.30 519.7v-3 M138.80 519.7v-3 M160.30 519.7v-3 M181.80 519.7v-3 M203.30 519.7v-3 M42.05 519.7v-1.8 M63.55 519.7v-1.8 M85.05 519.7v-1.8 M106.55 519.7v-1.8 M128.05 519.7v-1.8 M149.55 519.7v-1.8 M171.05 519.7v-1.8 M192.55 519.7v-1.8" stroke="#444444" stroke-width="1"/>
<text transform="translate(28.30,521.96) scale(1.0,1)" font-size="7.4" font-weight="bold" text-anchor="end">0</text>
<text transform="translate(28.30,494.46) scale(1.0,1)" font-size="7.4" font-weight="bold" text-anchor="end">2</text>
<text transform="translate(28.30,466.96) scale(1.0,1)" font-size="7.4" font-weight="bold" text-anchor="end">4</text>
<text transform="translate(28.30,439.46) scale(1.0,1)" font-size="7.4" font-weight="bold" text-anchor="end">6</text>
<text transform="translate(28.30,411.96) scale(1.0,1)" font-size="7.4" font-weight="bold" text-anchor="end">8</text>
<text transform="translate(28.30,384.46) scale(1.0,1)" font-size="7.4" font-weight="bold" text-anchor="end">10</text>
<text transform="translate(31.30,528.80) scale(1.0,1)" font-size="7.4" font-weight="bold" text-anchor="middle">0.0</text>
<text transform="translate(52.80,528.80) scale(1.0,1)" font-size="7.4" font-weight="bold" text-anchor="middle">0.2</text>
<text transform="translate(74.30,528.80) scale(1.0,1)" font-size="7.4" font-weight="bold" text-anchor="middle">0.4</text>
<text transform="translate(95.80,528.80) scale(1.0,1)" font-size="7.4" font-weight="bold" text-anchor="middle">0.6</text>
<text transform="translate(117.30,528.80) scale(1.0,1)" font-size="7.4" font-weight="bold" text-anchor="middle">0.8</text>
<text transform="translate(138.80,528.80) scale(1.0,1)" font-size="7.4" font-weight="bold" text-anchor="middle">1.0</text>
<text transform="translate(160.30,528.80) scale(1.0,1)" font-size="7.4" font-weight="bold" text-anchor="middle">1.2</text>
<text transform="translate(181.80,528.80) scale(1.0,1)" font-size="7.4" font-weight="bold" text-anchor="middle">1.4</text>
<text transform="translate(203.30,528.80) scale(1.0,1)" font-size="7.4" font-weight="bold" text-anchor="middle">1.6</text>
<text x="118.3" y="537.6" font-size="8.9" font-weight="bold" text-anchor="middle">strain</text>
<text transform="translate(17.7,450.5) rotate(-90)" x="0" y="2.97" font-size="9.0" font-weight="bold" text-anchor="middle">stress (MPa)</text>
<text transform="translate(32.80,390.60) scale(1.02,1)" font-size="9.0">model data</text>
<text transform="translate(91.50,390.60) scale(1.02,1)" font-size="9.0">test data</text>
<line x1="33.0" y1="398.60" x2="53.5" y2="398.60" stroke="#3c3c3c" stroke-width="1"/>
<text transform="translate(55.40,401.97) scale(1.02,1)" font-size="9.0">293K</text>
<rect x="88.64" y="396.64" width="3.92" height="3.92" fill="#333333"/>
<text transform="translate(103.20,401.97) scale(1.02,1)" font-size="9.0">293K</text>
<line x1="33.0" y1="409.87" x2="53.5" y2="409.87" stroke="#ff4a4a" stroke-width="1" stroke-dasharray="3.2 3.1"/>
<text transform="translate(55.40,413.24) scale(1.02,1)" font-size="9.0">313K</text>
<circle cx="90.60" cy="409.87" r="2.46" fill="#f02a35"/>
<text transform="translate(103.20,413.24) scale(1.02,1)" font-size="9.0">313K</text>
<line x1="33.0" y1="421.14" x2="53.5" y2="421.14" stroke="#3f86f5" stroke-width="1" stroke-dasharray="1.3 2.6"/>
<text transform="translate(55.40,424.51) scale(1.02,1)" font-size="9.0">333K</text>
<path d="M90.60 418.68L93.40 423.36L87.80 423.36Z" fill="#1a5ae0"/>
<text transform="translate(103.20,424.51) scale(1.02,1)" font-size="9.0">333K</text>
<line x1="33.0" y1="432.41" x2="53.5" y2="432.41" stroke="#2fa86c" stroke-width="1" stroke-dasharray="3.6 1.6 1.0 1.6"/>
<text transform="translate(55.40,435.78) scale(1.02,1)" font-size="9.0">353K</text>
<path d="M90.60 434.87L93.40 430.19L87.80 430.19Z" fill="#1e965a"/>
<text transform="translate(103.20,435.78) scale(1.02,1)" font-size="9.0">353K</text>
<line x1="33.0" y1="443.68" x2="53.5" y2="443.68" stroke="#9f55f0" stroke-width="1" stroke-dasharray="3 1.4 1 1.4 1 1.4"/>
<text transform="translate(55.40,447.05) scale(1.02,1)" font-size="9.0">363K</text>
<path d="M90.60 440.77L93.51 443.68L90.60 446.59L87.69 443.68Z" fill="#a564e1"/>
<text transform="translate(103.20,447.05) scale(1.02,1)" font-size="9.0">363K</text>
<line x1="33.0" y1="454.95" x2="53.5" y2="454.95" stroke="#e0a018" stroke-width="1" stroke-dasharray="1.3 1.7"/>
<text transform="translate(55.40,458.32) scale(1.02,1)" font-size="9.0">383K</text>
<path d="M88.25 454.95L92.95 452.26L92.95 457.64Z" fill="#c88c19"/>
<text transform="translate(103.20,458.32) scale(1.02,1)" font-size="9.0">383K</text>
<text x="127.7" y="393.4" font-size="9.0" font-weight="bold">C60 rubber</text>
<text x="164.9" y="507.4" font-size="9.0" font-weight="bold">c(1)</text>
<rect x="118.5" y="463.2" width="41.5" height="29.100000000000023" fill="none" stroke="#ee1c24" stroke-width="1.2"/>
<rect x="234.2" y="382.2" width="171.8" height="137.3" fill="#fff"/>
<clipPath id="clip_c2"><rect x="234.2" y="382.2" width="171.8" height="137.3"/></clipPath>
<g clip-path="url(#clip_c2)" fill="none">
<polyline points="225.61,499.35 227.20,498.99 228.79,498.62 230.37,498.24 231.96,497.84 233.55,497.42 235.14,497.00 236.73,496.56 238.31,496.10 239.90,495.63 241.49,495.15 243.08,494.65 244.67,494.14 246.25,493.62 247.84,493.08 249.43,492.53 251.02,491.97 252.61,491.39 254.20,490.81 255.78,490.21 257.37,489.59 258.96,488.97 260.55,488.34 262.14,487.69 263.72,487.03 265.31,486.36 266.90,485.68 268.49,484.99 270.08,484.28 271.66,483.57 273.25,482.84 274.84,482.11 276.43,481.36 278.02,480.61 279.60,479.84 281.19,479.06 282.78,478.28 284.37,477.48 285.96,476.68 287.54,475.87 289.13,475.04 290.72,474.21 292.31,473.37 293.90,472.52 295.48,471.66 297.07,470.80 298.66,469.92 300.25,469.04 301.84,468.15 303.43,467.25 305.01,466.35 306.60,465.43 308.19,464.51 309.78,463.59 311.37,462.65 312.95,461.71 314.54,460.76 316.13,459.81 317.72,458.85 319.31,457.88 320.89,456.91 322.48,455.93 324.07,454.94 325.66,453.95 327.25,452.96 328.83,451.96 330.42,450.95 332.01,449.94 333.60,448.92 335.19,447.90 336.77,446.88 338.36,445.85 339.95,444.81 341.54,443.78 343.13,442.73 344.72,441.69 346.30,440.64 347.89,439.59 349.48,438.53 351.07,437.47 352.66,436.41 354.24,435.34 355.83,434.28 357.42,433.21 359.01,432.13 360.60,431.06 362.18,429.98 363.77,428.90 365.36,427.82 366.95,426.74 368.54,425.65 370.12,424.57 371.71,423.48 373.30,422.39 374.89,421.30 376.48,420.22 378.06,419.13 379.65,418.04 381.24,416.94 382.83,415.85 384.42,414.76 386.00,413.67 387.59,412.58 389.18,411.49 390.77,410.40 392.36,409.32 393.95,408.23 395.53,407.14 397.12,406.06 398.71,404.97 400.30,403.89 401.89,402.81 403.47,401.73 405.06,400.66 406.65,399.58 408.24,398.51 409.83,397.44 411.41,396.37 413.00,395.31 414.59,394.25" stroke="#3c3c3c" stroke-width="1.0"/>
<polyline points="225.61,518.60 227.20,518.31 228.79,518.02 230.37,517.71 231.96,517.41 233.55,517.09 235.14,516.76 236.73,516.43 238.31,516.09 239.90,515.75 241.49,515.39 243.08,515.03 244.67,514.67 246.25,514.29 247.84,513.91 249.43,513.52 251.02,513.12 252.61,512.72 254.20,512.31 255.78,511.90 257.37,511.47 258.96,511.05 260.55,510.61 262.14,510.17 263.72,509.72 265.31,509.26 266.90,508.80 268.49,508.34 270.08,507.86 271.66,507.38 273.25,506.90 274.84,506.41 276.43,505.91 278.02,505.41 279.60,504.90 281.19,504.38 282.78,503.86 284.37,503.34 285.96,502.81 287.54,502.27 289.13,501.73 290.72,501.18 292.31,500.63 293.90,500.07 295.48,499.51 297.07,498.94 298.66,498.37 300.25,497.79 301.84,497.21 303.43,496.62 305.01,496.03 306.60,495.43 308.19,494.83 309.78,494.22 311.37,493.61 312.95,493.00 314.54,492.38 316.13,491.75 317.72,491.13 319.31,490.49 320.89,489.86 322.48,489.22 324.07,488.57 325.66,487.93 327.25,487.27 328.83,486.62 330.42,485.96 332.01,485.30 333.60,484.63 335.19,483.96 336.77,483.28 338.36,482.61 339.95,481.93 341.54,481.24 343.13,480.56 344.72,479.87 346.30,479.17 347.89,478.48 349.48,477.78 351.07,477.07 352.66,476.37 354.24,475.66 355.83,474.95 357.42,474.24 359.01,473.52 360.60,472.80 362.18,472.08 363.77,471.36 365.36,470.63 366.95,469.90 368.54,469.17 370.12,468.44 371.71,467.71 373.30,466.97 374.89,466.23 376.48,465.49 378.06,464.75 379.65,464.00 381.24,463.26 382.83,462.51 384.42,461.76 386.00,461.01 387.59,460.26 389.18,459.50 390.77,458.75 392.36,457.99 393.95,457.23 395.53,456.48 397.12,455.72 398.71,454.95 400.30,454.19 401.89,453.43 403.47,452.67 405.06,451.90 406.65,451.14 408.24,450.37 409.83,449.61 411.41,448.84 413.00,448.07 414.59,447.30" stroke="#ff4a4a" stroke-width="1.1" stroke-dasharray="3.2 3.1"/>
<polyline points="225.61,529.14 227.20,528.82 228.79,528.49 230.37,528.17 231.96,527.84 233.55,527.50 235.14,527.17 236.73,526.83 238.31,526.49 239.90,526.14 241.49,525.79 243.08,525.44 244.67,525.09 246.25,524.73 247.84,524.38 249.43,524.01 251.02,523.65 252.61,523.28 254.20,522.91 255.78,522.53 257.37,522.16 258.96,521.78 260.55,521.40 262.14,521.01 263.72,520.62 265.31,520.23 266.90,519.84 268.49,519.44 270.08,519.04 271.66,518.64 273.25,518.23 274.84,517.82 276.43,517.41 278.02,516.99 279.60,516.58 281.19,516.16 282.78,515.73 284.37,515.31 285.96,514.88 287.54,514.44 289.13,514.01 290.72,513.57 292.31,513.13 293.90,512.69 295.48,512.24 297.07,511.79 298.66,511.34 300.25,510.88 301.84,510.42 303.43,509.96 305.01,509.50 306.60,509.03 308.19,508.56 309.78,508.09 311.37,507.61 312.95,507.13 314.54,506.65 316.13,506.17 317.72,505.68 319.31,505.19 320.89,504.70 322.48,504.20 324.07,503.70 325.66,503.20 327.25,502.69 328.83,502.19 330.42,501.67 332.01,501.16 333.60,500.64 335.19,500.12 336.77,499.60 338.36,499.08 339.95,498.55 341.54,498.02 343.13,497.48 344.72,496.95 346.30,496.41 347.89,495.86 349.48,495.32 351.07,494.77 352.66,494.22 354.24,493.66 355.83,493.11 357.42,492.55 359.01,491.98 360.60,491.42 362.18,490.85 363.77,490.27 365.36,489.70 366.95,489.12 368.54,488.54 370.12,487.96 371.71,487.37 373.30,486.78 374.89,486.19 376.48,485.59 378.06,485.00 379.65,484.39 381.24,483.79 382.83,483.18 384.42,482.57 386.00,481.96 387.59,481.34 389.18,480.73 390.77,480.10 392.36,479.48 393.95,478.85 395.53,478.22 397.12,477.59 398.71,476.95 400.30,476.31 401.89,475.67 403.47,475.03 405.06,474.38 406.65,473.73 408.24,473.08 409.83,472.42 411.41,471.76 413.00,471.10 414.59,470.43" stroke="#3f86f5" stroke-width="1.1" stroke-dasharray="1.3 2.6"/>
<polyline points="225.61,530.06 227.20,529.79 228.79,529.52 230.37,529.25 231.96,528.97 233.55,528.69 235.14,528.41 236.73,528.13 238.31,527.84 239.90,527.55 241.49,527.26 243.08,526.96 244.67,526.66 246.25,526.36 247.84,526.05 249.43,525.75 251.02,525.44 252.61,525.12 254.20,524.80 255.78,524.49 257.37,524.16 258.96,523.84 260.55,523.51 262.14,523.18 263.72,522.84 265.31,522.51 266.90,522.17 268.49,521.82 270.08,521.48 271.66,521.13 273.25,520.78 274.84,520.42 276.43,520.06 278.02,519.70 279.60,519.34 281.19,518.97 282.78,518.61 284.37,518.23 285.96,517.86 287.54,517.48 289.13,517.10 290.72,516.72 292.31,516.33 293.90,515.94 295.48,515.55 297.07,515.15 298.66,514.75 300.25,514.35 301.84,513.95 303.43,513.54 305.01,513.13 306.60,512.72 308.19,512.30 309.78,511.88 311.37,511.46 312.95,511.04 314.54,510.61 316.13,510.18 317.72,509.74 319.31,509.31 320.89,508.87 322.48,508.43 324.07,507.98 325.66,507.53 327.25,507.08 328.83,506.63 330.42,506.17 332.01,505.71 333.60,505.25 335.19,504.78 336.77,504.31 338.36,503.84 339.95,503.37 341.54,502.89 343.13,502.41 344.72,501.93 346.30,501.44 347.89,500.95 349.48,500.46 351.07,499.97 352.66,499.47 354.24,498.97 355.83,498.46 357.42,497.96 359.01,497.45 360.60,496.94 362.18,496.42 363.77,495.90 365.36,495.38 366.95,494.86 368.54,494.33 370.12,493.80 371.71,493.27 373.30,492.73 374.89,492.19 376.48,491.65 378.06,491.11 379.65,490.56 381.24,490.01 382.83,489.46 384.42,488.90 386.00,488.34 387.59,487.78 389.18,487.21 390.77,486.65 392.36,486.08 393.95,485.50 395.53,484.93 397.12,484.35 398.71,483.76 400.30,483.18 401.89,482.59 403.47,482.00 405.06,481.40 406.65,480.81 408.24,480.21 409.83,479.60 411.41,479.00 413.00,478.39 414.59,477.78" stroke="#2fa86c" stroke-width="1.1" stroke-dasharray="3.6 1.6 1.0 1.6"/>
<polyline points="225.61,530.74 227.20,530.37 228.79,529.99 230.37,529.61 231.96,529.23 233.55,528.84 235.14,528.46 236.73,528.07 238.31,527.69 239.90,527.30 241.49,526.91 243.08,526.52 244.67,526.13 246.25,525.73 247.84,525.34 249.43,524.94 251.02,524.55 252.61,524.15 254.20,523.75 255.78,523.35 257.37,522.94 258.96,522.54 260.55,522.13 262.14,521.73 263.72,521.32 265.31,520.91 266.90,520.50 268.49,520.09 270.08,519.68 271.66,519.26 273.25,518.85 274.84,518.43 276.43,518.01 278.02,517.59 279.60,517.17 281.19,516.75 282.78,516.33 284.37,515.90 285.96,515.48 287.54,515.05 289.13,514.62 290.72,514.19 292.31,513.76 293.90,513.33 295.48,512.89 297.07,512.46 298.66,512.02 300.25,511.58 301.84,511.14 303.43,510.70 305.01,510.26 306.60,509.82 308.19,509.37 309.78,508.93 311.37,508.48 312.95,508.03 314.54,507.58 316.13,507.13 317.72,506.68 319.31,506.23 320.89,505.77 322.48,505.32 324.07,504.86 325.66,504.40 327.25,503.94 328.83,503.48 330.42,503.02 332.01,502.55 333.60,502.09 335.19,501.62 336.77,501.15 338.36,500.69 339.95,500.22 341.54,499.74 343.13,499.27 344.72,498.80 346.30,498.32 347.89,497.84 349.48,497.37 351.07,496.89 352.66,496.41 354.24,495.92 355.83,495.44 357.42,494.95 359.01,494.47 360.60,493.98 362.18,493.49 363.77,493.00 365.36,492.51 366.95,492.02 368.54,491.52 370.12,491.03 371.71,490.53 373.30,490.04 374.89,489.54 376.48,489.04 378.06,488.53 379.65,488.03 381.24,487.53 382.83,487.02 384.42,486.51 386.00,486.01 387.59,485.50 389.18,484.99 390.77,484.47 392.36,483.96 393.95,483.44 395.53,482.93 397.12,482.41 398.71,481.89 400.30,481.37 401.89,480.85 403.47,480.33 405.06,479.80 406.65,479.28 408.24,478.75 409.83,478.22 411.41,477.70 413.00,477.16 414.59,476.63" stroke="#9f55f0" stroke-width="1.1" stroke-dasharray="3 1.4 1 1.4 1 1.4"/>
<polyline points="225.61,518.14 227.20,517.90 228.79,517.65 230.37,517.40 231.96,517.15 233.55,516.89 235.14,516.63 236.73,516.36 238.31,516.09 239.90,515.82 241.49,515.54 243.08,515.26 244.67,514.97 246.25,514.68 247.84,514.39 249.43,514.09 251.02,513.79 252.61,513.48 254.20,513.17 255.78,512.86 257.37,512.54 258.96,512.22 260.55,511.89 262.14,511.56 263.72,511.22 265.31,510.89 266.90,510.54 268.49,510.20 270.08,509.84 271.66,509.49 273.25,509.13 274.84,508.77 276.43,508.40 278.02,508.03 279.60,507.65 281.19,507.27 282.78,506.89 284.37,506.50 285.96,506.11 287.54,505.72 289.13,505.32 290.72,504.91 292.31,504.51 293.90,504.09 295.48,503.68 297.07,503.26 298.66,502.83 300.25,502.41 301.84,501.98 303.43,501.54 305.01,501.10 306.60,500.66 308.19,500.21 309.78,499.75 311.37,499.30 312.95,498.84 314.54,498.37 316.13,497.91 317.72,497.43 319.31,496.96 320.89,496.48 322.48,495.99 324.07,495.50 325.66,495.01 327.25,494.51 328.83,494.01 330.42,493.51 332.01,493.00 333.60,492.49 335.19,491.97 336.77,491.45 338.36,490.92 339.95,490.39 341.54,489.86 343.13,489.32 344.72,488.78 346.30,488.24 347.89,487.69 349.48,487.13 351.07,486.58 352.66,486.02 354.24,485.45 355.83,484.88 357.42,484.31 359.01,483.73 360.60,483.15 362.18,482.56 363.77,481.97 365.36,481.38 366.95,480.78 368.54,480.18 370.12,479.57 371.71,478.96 373.30,478.35 374.89,477.73 376.48,477.11 378.06,476.48 379.65,475.85 381.24,475.22 382.83,474.58 384.42,473.93 386.00,473.29 387.59,472.64 389.18,471.98 390.77,471.32 392.36,470.66 393.95,469.99 395.53,469.32 397.12,468.65 398.71,467.97 400.30,467.29 401.89,466.60 403.47,465.91 405.06,465.21 406.65,464.51 408.24,463.81 409.83,463.10 411.41,462.39 413.00,461.68 414.59,460.96" stroke="#e0a018" stroke-width="1.1" stroke-dasharray="1.3 1.7"/>
</g>
<rect x="249.64" y="491.35" width="3.92" height="3.92" fill="#333333"/>
<rect x="279.84" y="483.35" width="3.92" height="3.92" fill="#333333"/>
<rect x="310.04" y="473.16" width="3.92" height="3.92" fill="#333333"/>
<rect x="340.24" y="460.29" width="3.92" height="3.92" fill="#333333"/>
<rect x="370.44" y="442.20" width="3.92" height="3.92" fill="#333333"/>
<rect x="400.64" y="419.03" width="3.92" height="3.92" fill="#333333"/>
<circle cx="251.60" cy="512.98" r="2.46" fill="#f02a35"/>
<circle cx="281.80" cy="505.08" r="2.46" fill="#f02a35"/>
<circle cx="312.00" cy="496.85" r="2.46" fill="#f02a35"/>
<circle cx="342.20" cy="485.62" r="2.46" fill="#f02a35"/>
<circle cx="372.40" cy="471.03" r="2.46" fill="#f02a35"/>
<circle cx="402.60" cy="451.85" r="2.46" fill="#f02a35"/>
<path d="M281.80 512.92L284.60 517.60L279.00 517.60Z" fill="#1a5ae0"/>
<path d="M312.00 504.34L314.80 509.02L309.20 509.02Z" fill="#1a5ae0"/>
<path d="M342.20 494.66L345.00 499.34L339.40 499.34Z" fill="#1a5ae0"/>
<path d="M372.40 482.57L375.20 487.26L369.60 487.26Z" fill="#1a5ae0"/>
<path d="M402.60 467.06L405.40 471.74L399.80 471.74Z" fill="#1a5ae0"/>
<path d="M281.80 520.93L284.60 516.25L279.00 516.25Z" fill="#1e965a"/>
<path d="M312.00 514.17L314.80 509.49L309.20 509.49Z" fill="#1e965a"/>
<path d="M342.20 506.86L345.00 502.18L339.40 502.18Z" fill="#1e965a"/>
<path d="M372.40 497.39L375.20 492.71L369.60 492.71Z" fill="#1e965a"/>
<path d="M402.60 485.68L405.40 481.00L399.80 481.00Z" fill="#1e965a"/>
<path d="M312.00 512.47L314.91 515.38L312.00 518.29L309.09 515.38Z" fill="#a564e1"/>
<path d="M342.20 505.91L345.11 508.82L342.20 511.74L339.29 508.82Z" fill="#a564e1"/>
<path d="M372.40 497.50L375.31 500.42L372.40 503.33L369.49 500.42Z" fill="#a564e1"/>
<path d="M402.60 489.09L405.51 492.01L402.60 494.92L399.69 492.01Z" fill="#a564e1"/>
<path d="M249.25 513.32L253.95 510.63L253.95 516.01Z" fill="#c88c19"/>
<path d="M279.45 505.77L284.15 503.08L284.15 508.46Z" fill="#c88c19"/>
<path d="M309.65 497.88L314.35 495.19L314.35 500.56Z" fill="#c88c19"/>
<path d="M339.85 489.43L344.55 486.74L344.55 492.12Z" fill="#c88c19"/>
<path d="M370.05 477.93L374.75 475.24L374.75 480.62Z" fill="#c88c19"/>
<path d="M400.25 465.75L404.95 463.06L404.95 468.44Z" fill="#c88c19"/>
<rect x="234.2" y="382.2" width="171.8" height="137.3" fill="none" stroke="#444444" stroke-width="1.1"/>
<path d="M234.2 519.50h3 M234.2 492.04h3 M234.2 464.58h3 M234.2 437.12h3 M234.2 409.66h3 M234.2 382.20h3 M234.2 505.77h1.8 M234.2 478.31h1.8 M234.2 450.85h1.8 M234.2 423.39h1.8 M234.2 395.93h1.8 M234.20 519.5v-3 M320.10 519.5v-3 M406.00 519.5v-3 M277.15 519.5v-1.8 M363.05 519.5v-1.8" stroke="#444444" stroke-width="1"/>
<text transform="translate(231.20,521.76) scale(1.0,1)" font-size="7.4" font-weight="bold" text-anchor="end">2.0</text>
<text transform="translate(231.20,494.30) scale(1.0,1)" font-size="7.4" font-weight="bold" text-anchor="end">2.8</text>
<text transform="translate(231.20,466.84) scale(1.0,1)" font-size="7.4" font-weight="bold" text-anchor="end">3.6</text>
<text transform="translate(231.20,439.38) scale(1.0,1)" font-size="7.4" font-weight="bold" text-anchor="end">4.4</text>
<text transform="translate(231.20,411.92) scale(1.0,1)" font-size="7.4" font-weight="bold" text-anchor="end">5.2</text>
<text transform="translate(231.20,384.46) scale(1.0,1)" font-size="7.4" font-weight="bold" text-anchor="end">6.0</text>
<text transform="translate(234.20,528.80) scale(1.0,1)" font-size="7.4" font-weight="bold" text-anchor="middle">0.8</text>
<text transform="translate(320.10,528.80) scale(1.0,1)" font-size="7.4" font-weight="bold" text-anchor="middle">1.0</text>
<text transform="translate(406.00,528.80) scale(1.0,1)" font-size="7.4" font-weight="bold" text-anchor="middle">1.2</text>
<text x="321.0" y="537.6" font-size="8.9" font-weight="bold" text-anchor="middle">strain</text>
<text transform="translate(215.6,450.9) rotate(-90)" x="0" y="2.97" font-size="9.0" font-weight="bold" text-anchor="middle">stress (MPa)</text>
<text transform="translate(235.30,390.30) scale(1.02,1)" font-size="8.8">model data</text>
<text transform="translate(292.60,390.30) scale(1.02,1)" font-size="8.8">test data</text>
<line x1="235.5" y1="398.10" x2="255.5" y2="398.10" stroke="#3c3c3c" stroke-width="1"/>
<text transform="translate(257.80,401.40) scale(1.02,1)" font-size="8.8">293K</text>
<rect x="289.24" y="396.14" width="3.92" height="3.92" fill="#333333"/>
<text transform="translate(304.30,401.40) scale(1.02,1)" font-size="8.8">293K</text>
<line x1="235.5" y1="408.90" x2="255.5" y2="408.90" stroke="#ff4a4a" stroke-width="1" stroke-dasharray="3.2 3.1"/>
<text transform="translate(257.80,412.20) scale(1.02,1)" font-size="8.8">313K</text>
<circle cx="291.20" cy="408.90" r="2.46" fill="#f02a35"/>
<text transform="translate(304.30,412.20) scale(1.02,1)" font-size="8.8">313K</text>
<line x1="235.5" y1="419.70" x2="255.5" y2="419.70" stroke="#3f86f5" stroke-width="1" stroke-dasharray="1.3 2.6"/>
<text transform="translate(257.80,423.00) scale(1.02,1)" font-size="8.8">333K</text>
<path d="M291.20 417.24L294.00 421.92L288.40 421.92Z" fill="#1a5ae0"/>
<text transform="translate(304.30,423.00) scale(1.02,1)" font-size="8.8">333K</text>
<line x1="235.5" y1="430.50" x2="255.5" y2="430.50" stroke="#2fa86c" stroke-width="1" stroke-dasharray="3.6 1.6 1.0 1.6"/>
<text transform="translate(257.80,433.80) scale(1.02,1)" font-size="8.8">353K</text>
<path d="M291.20 432.96L294.00 428.28L288.40 428.28Z" fill="#1e965a"/>
<text transform="translate(304.30,433.80) scale(1.02,1)" font-size="8.8">353K</text>
<line x1="235.5" y1="441.30" x2="255.5" y2="441.30" stroke="#9f55f0" stroke-width="1" stroke-dasharray="3 1.4 1 1.4 1 1.4"/>
<text transform="translate(257.80,444.60) scale(1.02,1)" font-size="8.8">363K</text>
<path d="M291.20 438.39L294.11 441.30L291.20 444.21L288.29 441.30Z" fill="#a564e1"/>
<text transform="translate(304.30,444.60) scale(1.02,1)" font-size="8.8">363K</text>
<line x1="235.5" y1="452.10" x2="255.5" y2="452.10" stroke="#e0a018" stroke-width="1" stroke-dasharray="1.3 1.7"/>
<text transform="translate(257.80,455.40) scale(1.02,1)" font-size="8.8">383K</text>
<path d="M288.85 452.10L293.55 449.41L293.55 454.79Z" fill="#c88c19"/>
<text transform="translate(304.30,455.40) scale(1.02,1)" font-size="8.8">383K</text>
<text x="327.1" y="395.1" font-size="8.9" font-weight="bold">C60 rubber</text>
<text x="327.1" y="406.4" font-size="8.9" font-weight="bold">closed-up view</text>
<text x="375.0" y="511.8" font-size="9.0" font-weight="bold">c(2)</text>
</svg>
</body></html>
